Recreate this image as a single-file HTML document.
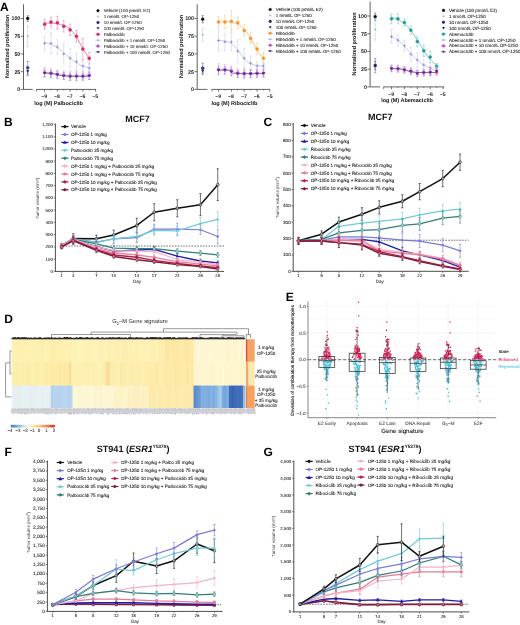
<!DOCTYPE html>
<html><head><meta charset="utf-8"><style>
html,body{margin:0;padding:0;background:#fff;}
body{width:520px;height:625px;overflow:hidden;font-family:"Liberation Sans", sans-serif;}
svg{display:block;}
</style></head><body>
<svg width="520" height="625" viewBox="0 0 520 625" text-rendering="geometricPrecision" style="will-change:transform" font-family='"Liberation Sans", sans-serif'>
<rect x="0" y="0" width="520" height="625" fill="#fff"/>
<text x="0" y="11.2" font-size="12" text-anchor="start" fill="#000" font-weight="bold">A</text>
<text x="4" y="125.5" font-size="12" text-anchor="start" fill="#000" font-weight="bold">B</text>
<text x="263.5" y="125.6" font-size="12" text-anchor="start" fill="#000" font-weight="bold">C</text>
<text x="4.3" y="322.5" font-size="12" text-anchor="start" fill="#000" font-weight="bold">D</text>
<text x="285.8" y="300.6" font-size="12" text-anchor="start" fill="#000" font-weight="bold">E</text>
<text x="4.6" y="456.3" font-size="12" text-anchor="start" fill="#000" font-weight="bold">F</text>
<text x="263.5" y="456.3" font-size="12" text-anchor="start" fill="#000" font-weight="bold">G</text>
<line x1="23.5" y1="4.3" x2="23.5" y2="89.4" stroke="#3a3a3a" stroke-width="0.8" stroke-linecap="butt"/>
<line x1="20.7" y1="89.4" x2="23.5" y2="89.4" stroke="#3a3a3a" stroke-width="0.7" stroke-linecap="butt"/>
<text x="20.3" y="91.3" font-size="5.3" text-anchor="end" fill="#222" font-weight="bold">0</text>
<line x1="20.7" y1="71.68" x2="23.5" y2="71.68" stroke="#3a3a3a" stroke-width="0.7" stroke-linecap="butt"/>
<text x="20.3" y="73.58" font-size="5.3" text-anchor="end" fill="#222" font-weight="bold">25</text>
<line x1="20.7" y1="53.95" x2="23.5" y2="53.95" stroke="#3a3a3a" stroke-width="0.7" stroke-linecap="butt"/>
<text x="20.3" y="55.85" font-size="5.3" text-anchor="end" fill="#222" font-weight="bold">50</text>
<line x1="20.7" y1="36.23" x2="23.5" y2="36.23" stroke="#3a3a3a" stroke-width="0.7" stroke-linecap="butt"/>
<text x="20.3" y="38.13" font-size="5.3" text-anchor="end" fill="#222" font-weight="bold">75</text>
<line x1="20.7" y1="18.5" x2="23.5" y2="18.5" stroke="#3a3a3a" stroke-width="0.7" stroke-linecap="butt"/>
<text x="20.3" y="20.4" font-size="5.3" text-anchor="end" fill="#222" font-weight="bold">100</text>
<line x1="23.5" y1="89.4" x2="32.7" y2="89.4" stroke="#3a3a3a" stroke-width="0.8" stroke-linecap="butt"/>
<line x1="36.5" y1="89.4" x2="96" y2="89.4" stroke="#3a3a3a" stroke-width="0.8" stroke-linecap="butt"/>
<line x1="36.5" y1="89.4" x2="36.5" y2="91.4" stroke="#3a3a3a" stroke-width="0.7" stroke-linecap="butt"/>
<line x1="44.6" y1="89.4" x2="44.6" y2="91.7" stroke="#3a3a3a" stroke-width="0.7" stroke-linecap="butt"/>
<text x="44.3" y="98" font-size="5.2" text-anchor="middle" fill="#222" font-weight="bold">−9</text>
<line x1="57.35" y1="89.4" x2="57.35" y2="91.7" stroke="#3a3a3a" stroke-width="0.7" stroke-linecap="butt"/>
<text x="57.05" y="98" font-size="5.2" text-anchor="middle" fill="#222" font-weight="bold">−8</text>
<line x1="70.1" y1="89.4" x2="70.1" y2="91.7" stroke="#3a3a3a" stroke-width="0.7" stroke-linecap="butt"/>
<text x="69.8" y="98" font-size="5.2" text-anchor="middle" fill="#222" font-weight="bold">−7</text>
<line x1="82.85" y1="89.4" x2="82.85" y2="91.7" stroke="#3a3a3a" stroke-width="0.7" stroke-linecap="butt"/>
<text x="82.55" y="98" font-size="5.2" text-anchor="middle" fill="#222" font-weight="bold">−6</text>
<line x1="95.6" y1="89.4" x2="95.6" y2="91.7" stroke="#3a3a3a" stroke-width="0.7" stroke-linecap="butt"/>
<text x="95.3" y="98" font-size="5.2" text-anchor="middle" fill="#222" font-weight="bold">−5</text>
<line x1="50.98" y1="89.4" x2="50.98" y2="90.6" stroke="#3a3a3a" stroke-width="0.5" stroke-linecap="butt"/>
<line x1="63.73" y1="89.4" x2="63.73" y2="90.6" stroke="#3a3a3a" stroke-width="0.5" stroke-linecap="butt"/>
<line x1="76.47" y1="89.4" x2="76.47" y2="90.6" stroke="#3a3a3a" stroke-width="0.5" stroke-linecap="butt"/>
<line x1="89.22" y1="89.4" x2="89.22" y2="90.6" stroke="#3a3a3a" stroke-width="0.5" stroke-linecap="butt"/>
<text x="58.6" y="104.9" font-size="5.5" text-anchor="middle" fill="#111" font-weight="bold">log (M) Palbociclib</text>
<text x="8.6" y="46.45" font-size="5.5" text-anchor="middle" fill="#111" font-weight="bold" transform="rotate(-90 8.6 46.45)">Normalized proliferation</text>
<path d="M27.7 21.34V15.66M26.5 21.34H28.9M26.5 15.66H28.9" stroke="#585858" stroke-width="0.55" fill="none"/>
<circle cx="27.7" cy="18.5" r="1.4" fill="#111" stroke="#111" stroke-width="0.5"/>
<path d="M27.7 46.51V25.94M26.5 46.51H28.9M26.5 25.94H28.9" stroke="#aecae6" stroke-width="0.55" fill="none"/>
<line x1="26.3" y1="36.23" x2="29.1" y2="36.23" stroke="#8cb4dc" stroke-width="0.6" stroke-linecap="butt"/>
<line x1="27.7" y1="34.83" x2="27.7" y2="37.63" stroke="#8cb4dc" stroke-width="0.6" stroke-linecap="butt"/>
<path d="M27.7 74.16V61.39M26.5 74.16H28.9M26.5 61.39H28.9" stroke="#5f65a5" stroke-width="0.55" fill="none"/>
<circle cx="27.7" cy="67.78" r="1.4" fill="#1a237e" stroke="#1a237e" stroke-width="0.5"/>
<path d="M27.7 75.65V67.14M26.5 75.65H28.9M26.5 67.14H28.9" stroke="#5f5f9a" stroke-width="0.55" fill="none"/>
<path d="M26.16,70.27 L29.24,70.27 L27.7,72.93 Z" fill="#1a1a6e"/>
<polyline points="44.6,22.96 45.36,22.98 46.11,22.99 46.87,23.01 47.63,23.04 48.38,23.06 49.14,23.09 49.89,23.12 50.65,23.16 51.41,23.2 52.16,23.25 52.92,23.3 53.68,23.36 54.43,23.43 55.19,23.51 55.95,23.59 56.7,23.69 57.46,23.8 58.21,23.92 58.97,24.05 59.73,24.21 60.48,24.38 61.24,24.57 62,24.79 62.75,25.03 63.51,25.29 64.27,25.59 65.02,25.93 65.78,26.3 66.53,26.71 67.29,27.16 68.05,27.66 68.8,28.21 69.56,28.81 70.32,29.48 71.07,30.2 71.83,30.98 72.59,31.82 73.34,32.73 74.1,33.71 74.85,34.75 75.61,35.85 76.37,37.01 77.12,38.22 77.88,39.48 78.64,40.79 79.39,42.12 80.15,43.49 80.91,44.86 81.66,46.25 82.42,47.62 83.17,48.99 83.93,50.32 84.69,51.63 85.44,52.89 86.2,54.1 86.96,55.26 87.71,56.36 88.47,57.4 89.22,58.37" fill="none" stroke="#d6246e" stroke-width="0.6" stroke-linejoin="round" stroke-linecap="round"/>
<path d="M44.6 29.14V19.21M43.4 29.14H45.8M43.4 19.21H45.8" stroke="#e887af" stroke-width="0.6" fill="none"/>
<path d="M50.98 27.01V17.08M49.77 27.01H52.18M49.77 17.08H52.18" stroke="#e887af" stroke-width="0.6" fill="none"/>
<path d="M57.35 29.14V16.37M56.15 29.14H58.55M56.15 16.37H58.55" stroke="#e887af" stroke-width="0.6" fill="none"/>
<path d="M63.73 31.97V20.63M62.52 31.97H64.92M62.52 20.63H64.92" stroke="#e887af" stroke-width="0.6" fill="none"/>
<path d="M70.1 35.52V24.17M68.9 35.52H71.3M68.9 24.17H71.3" stroke="#e887af" stroke-width="0.6" fill="none"/>
<path d="M76.47 41.9V30.55M75.27 41.9H77.67M75.27 30.55H77.67" stroke="#e887af" stroke-width="0.6" fill="none"/>
<path d="M82.85 59.62V38.35M81.65 59.62H84.05M81.65 38.35H84.05" stroke="#e887af" stroke-width="0.6" fill="none"/>
<path d="M89.22 63.88V52.53M88.02 63.88H90.42M88.02 52.53H90.42" stroke="#e887af" stroke-width="0.6" fill="none"/>
<circle cx="44.6" cy="24.17" r="1.5" fill="#d6246e" stroke="#d6246e" stroke-width="0.5"/>
<circle cx="50.98" cy="22.05" r="1.5" fill="#d6246e" stroke="#d6246e" stroke-width="0.5"/>
<circle cx="57.35" cy="22.75" r="1.5" fill="#d6246e" stroke="#d6246e" stroke-width="0.5"/>
<circle cx="63.73" cy="26.3" r="1.5" fill="#d6246e" stroke="#d6246e" stroke-width="0.5"/>
<circle cx="70.1" cy="29.84" r="1.5" fill="#d6246e" stroke="#d6246e" stroke-width="0.5"/>
<circle cx="76.47" cy="36.23" r="1.5" fill="#d6246e" stroke="#d6246e" stroke-width="0.5"/>
<circle cx="82.85" cy="48.99" r="1.5" fill="#d6246e" stroke="#d6246e" stroke-width="0.5"/>
<circle cx="89.22" cy="58.2" r="1.5" fill="#d6246e" stroke="#d6246e" stroke-width="0.5"/>
<polyline points="44.6,42.39 45.36,42.57 46.11,42.75 46.87,42.95 47.63,43.17 48.38,43.4 49.14,43.66 49.89,43.92 50.65,44.21 51.41,44.52 52.16,44.85 52.92,45.2 53.68,45.57 54.43,45.97 55.19,46.38 55.95,46.82 56.7,47.29 57.46,47.77 58.21,48.28 58.97,48.81 59.73,49.36 60.48,49.93 61.24,50.52 62,51.13 62.75,51.75 63.51,52.38 64.27,53.02 65.02,53.67 65.78,54.33 66.53,54.99 67.29,55.65 68.05,56.3 68.8,56.96 69.56,57.6 70.32,58.23 71.07,58.85 71.83,59.46 72.59,60.05 73.34,60.62 74.1,61.17 74.85,61.7 75.61,62.21 76.37,62.7 77.12,63.16 77.88,63.6 78.64,64.02 79.39,64.42 80.15,64.79 80.91,65.14 81.66,65.47 82.42,65.78 83.17,66.07 83.93,66.34 84.69,66.59 85.44,66.82 86.2,67.04 86.96,67.24 87.71,67.43 88.47,67.6 89.22,67.76" fill="none" stroke="#a3a3e6" stroke-width="0.6" stroke-linejoin="round" stroke-linecap="round"/>
<path d="M44.6 50.41V36.23M43.4 50.41H45.8M43.4 36.23H45.8" stroke="#ccccf1" stroke-width="0.6" fill="none"/>
<path d="M50.98 53.95V32.68M49.77 53.95H52.18M49.77 32.68H52.18" stroke="#ccccf1" stroke-width="0.6" fill="none"/>
<path d="M57.35 53.95V39.77M56.15 53.95H58.55M56.15 39.77H58.55" stroke="#ccccf1" stroke-width="0.6" fill="none"/>
<path d="M63.73 63.88V44.02M62.52 63.88H64.92M62.52 44.02H64.92" stroke="#ccccf1" stroke-width="0.6" fill="none"/>
<path d="M70.1 67.42V48.99M68.9 67.42H71.3M68.9 48.99H71.3" stroke="#ccccf1" stroke-width="0.6" fill="none"/>
<path d="M76.47 70.26V53.24M75.27 70.26H77.67M75.27 53.24H77.67" stroke="#ccccf1" stroke-width="0.6" fill="none"/>
<path d="M82.85 70.97V61.04M81.65 70.97H84.05M81.65 61.04H84.05" stroke="#ccccf1" stroke-width="0.6" fill="none"/>
<path d="M89.22 71.68V64.59M88.02 71.68H90.42M88.02 64.59H90.42" stroke="#ccccf1" stroke-width="0.6" fill="none"/>
<line x1="43.1" y1="43.32" x2="46.1" y2="43.32" stroke="#7070c0" stroke-width="0.6" stroke-linecap="butt"/>
<line x1="44.6" y1="41.82" x2="44.6" y2="44.82" stroke="#7070c0" stroke-width="0.6" stroke-linecap="butt"/>
<line x1="49.48" y1="43.32" x2="52.48" y2="43.32" stroke="#7070c0" stroke-width="0.6" stroke-linecap="butt"/>
<line x1="50.98" y1="41.82" x2="50.98" y2="44.82" stroke="#7070c0" stroke-width="0.6" stroke-linecap="butt"/>
<line x1="55.85" y1="46.86" x2="58.85" y2="46.86" stroke="#7070c0" stroke-width="0.6" stroke-linecap="butt"/>
<line x1="57.35" y1="45.36" x2="57.35" y2="48.36" stroke="#7070c0" stroke-width="0.6" stroke-linecap="butt"/>
<line x1="62.23" y1="53.95" x2="65.22" y2="53.95" stroke="#7070c0" stroke-width="0.6" stroke-linecap="butt"/>
<line x1="63.73" y1="52.45" x2="63.73" y2="55.45" stroke="#7070c0" stroke-width="0.6" stroke-linecap="butt"/>
<line x1="68.6" y1="58.2" x2="71.6" y2="58.2" stroke="#7070c0" stroke-width="0.6" stroke-linecap="butt"/>
<line x1="70.1" y1="56.7" x2="70.1" y2="59.7" stroke="#7070c0" stroke-width="0.6" stroke-linecap="butt"/>
<line x1="74.97" y1="61.75" x2="77.97" y2="61.75" stroke="#7070c0" stroke-width="0.6" stroke-linecap="butt"/>
<line x1="76.47" y1="60.25" x2="76.47" y2="63.25" stroke="#7070c0" stroke-width="0.6" stroke-linecap="butt"/>
<line x1="81.35" y1="66" x2="84.35" y2="66" stroke="#7070c0" stroke-width="0.6" stroke-linecap="butt"/>
<line x1="82.85" y1="64.5" x2="82.85" y2="67.5" stroke="#7070c0" stroke-width="0.6" stroke-linecap="butt"/>
<line x1="87.72" y1="68.13" x2="90.72" y2="68.13" stroke="#7070c0" stroke-width="0.6" stroke-linecap="butt"/>
<line x1="89.22" y1="66.63" x2="89.22" y2="69.63" stroke="#7070c0" stroke-width="0.6" stroke-linecap="butt"/>
<polyline points="44.6,72.38 45.36,72.43 46.11,72.49 46.87,72.55 47.63,72.63 48.38,72.71 49.14,72.81 49.89,72.92 50.65,73.04 51.41,73.18 52.16,73.33 52.92,73.48 53.68,73.65 54.43,73.82 55.19,73.99 55.95,74.16 56.7,74.33 57.46,74.49 58.21,74.64 58.97,74.78 59.73,74.91 60.48,75.03 61.24,75.13 62,75.22 62.75,75.3 63.51,75.37 64.27,75.43 65.02,75.48 65.78,75.52 66.53,75.56 67.29,75.59 68.05,75.62 68.8,75.64 69.56,75.66 70.32,75.67 71.07,75.68 71.83,75.69 72.59,75.7 73.34,75.71 74.1,75.71 74.85,75.72 75.61,75.72 76.37,75.73 77.12,75.73 77.88,75.73 78.64,75.73 79.39,75.73 80.15,75.74 80.91,75.74 81.66,75.74 82.42,75.74 83.17,75.74 83.93,75.74 84.69,75.74 85.44,75.74 86.2,75.74 86.96,75.74 87.71,75.74 88.47,75.74 89.22,75.74" fill="none" stroke="#b455d2" stroke-width="0.6" stroke-linejoin="round" stroke-linecap="round"/>
<path d="M44.6 77.35V67.42M43.4 77.35H45.8M43.4 67.42H45.8" stroke="#d6a2e6" stroke-width="0.6" fill="none"/>
<path d="M50.98 78.06V68.13M49.77 78.06H52.18M49.77 68.13H52.18" stroke="#d6a2e6" stroke-width="0.6" fill="none"/>
<path d="M57.35 78.77V70.26M56.15 78.77H58.55M56.15 70.26H58.55" stroke="#d6a2e6" stroke-width="0.6" fill="none"/>
<path d="M63.73 79.47V70.97M62.52 79.47H64.92M62.52 70.97H64.92" stroke="#d6a2e6" stroke-width="0.6" fill="none"/>
<path d="M70.1 80.89V70.97M68.9 80.89H71.3M68.9 70.97H71.3" stroke="#d6a2e6" stroke-width="0.6" fill="none"/>
<path d="M76.47 80.89V70.97M75.27 80.89H77.67M75.27 70.97H77.67" stroke="#d6a2e6" stroke-width="0.6" fill="none"/>
<path d="M82.85 80.18V71.68M81.65 80.18H84.05M81.65 71.68H84.05" stroke="#d6a2e6" stroke-width="0.6" fill="none"/>
<path d="M89.22 79.47V70.97M88.02 79.47H90.42M88.02 70.97H90.42" stroke="#d6a2e6" stroke-width="0.6" fill="none"/>
<circle cx="44.6" cy="72.38" r="1.5" fill="#b455d2" stroke="#b455d2" stroke-width="0.5"/>
<circle cx="50.98" cy="73.09" r="1.5" fill="#b455d2" stroke="#b455d2" stroke-width="0.5"/>
<circle cx="57.35" cy="74.51" r="1.5" fill="#b455d2" stroke="#b455d2" stroke-width="0.5"/>
<circle cx="63.73" cy="75.22" r="1.5" fill="#b455d2" stroke="#b455d2" stroke-width="0.5"/>
<circle cx="70.1" cy="75.93" r="1.5" fill="#b455d2" stroke="#b455d2" stroke-width="0.5"/>
<circle cx="76.47" cy="75.93" r="1.5" fill="#b455d2" stroke="#b455d2" stroke-width="0.5"/>
<circle cx="82.85" cy="75.93" r="1.5" fill="#b455d2" stroke="#b455d2" stroke-width="0.5"/>
<circle cx="89.22" cy="75.22" r="1.5" fill="#b455d2" stroke="#b455d2" stroke-width="0.5"/>
<polyline points="44.6,73.26 45.36,73.27 46.11,73.29 46.87,73.31 47.63,73.34 48.38,73.38 49.14,73.42 49.89,73.47 50.65,73.52 51.41,73.59 52.16,73.68 52.92,73.78 53.68,73.89 54.43,74.02 55.19,74.16 55.95,74.31 56.7,74.48 57.46,74.66 58.21,74.84 58.97,75.02 59.73,75.19 60.48,75.36 61.24,75.52 62,75.66 62.75,75.79 63.51,75.9 64.27,76 65.02,76.08 65.78,76.15 66.53,76.21 67.29,76.26 68.05,76.3 68.8,76.34 69.56,76.36 70.32,76.39 71.07,76.4 71.83,76.42 72.59,76.43 73.34,76.44 74.1,76.45 74.85,76.46 75.61,76.46 76.37,76.46 77.12,76.47 77.88,76.47 78.64,76.47 79.39,76.47 80.15,76.48 80.91,76.48 81.66,76.48 82.42,76.48 83.17,76.48 83.93,76.48 84.69,76.48 85.44,76.48 86.2,76.48 86.96,76.48 87.71,76.48 88.47,76.48 89.22,76.48" fill="none" stroke="#5b2a8c" stroke-width="0.6" stroke-linejoin="round" stroke-linecap="round"/>
<path d="M44.6 76.64V69.55M43.4 76.64H45.8M43.4 69.55H45.8" stroke="#a58ac0" stroke-width="0.6" fill="none"/>
<path d="M50.98 77.35V70.26M49.77 77.35H52.18M49.77 70.26H52.18" stroke="#a58ac0" stroke-width="0.6" fill="none"/>
<path d="M57.35 78.06V70.97M56.15 78.06H58.55M56.15 70.97H58.55" stroke="#a58ac0" stroke-width="0.6" fill="none"/>
<path d="M63.73 79.47V72.38M62.52 79.47H64.92M62.52 72.38H64.92" stroke="#a58ac0" stroke-width="0.6" fill="none"/>
<path d="M70.1 80.18V73.09M68.9 80.18H71.3M68.9 73.09H71.3" stroke="#a58ac0" stroke-width="0.6" fill="none"/>
<path d="M76.47 80.18V73.09M75.27 80.18H77.67M75.27 73.09H77.67" stroke="#a58ac0" stroke-width="0.6" fill="none"/>
<path d="M82.85 80.18V73.09M81.65 80.18H84.05M81.65 73.09H84.05" stroke="#a58ac0" stroke-width="0.6" fill="none"/>
<path d="M89.22 79.47V72.38M88.02 79.47H90.42M88.02 72.38H90.42" stroke="#a58ac0" stroke-width="0.6" fill="none"/>
<path d="M42.95,71.89 L46.25,71.89 L44.6,74.74 Z" fill="#5b2a8c"/>
<path d="M49.33,72.6 L52.62,72.6 L50.98,75.45 Z" fill="#5b2a8c"/>
<path d="M55.7,73.31 L59,73.31 L57.35,76.16 Z" fill="#5b2a8c"/>
<path d="M62.08,74.73 L65.38,74.73 L63.73,77.58 Z" fill="#5b2a8c"/>
<path d="M68.45,75.44 L71.75,75.44 L70.1,78.29 Z" fill="#5b2a8c"/>
<path d="M74.82,75.44 L78.12,75.44 L76.47,78.29 Z" fill="#5b2a8c"/>
<path d="M81.2,75.44 L84.5,75.44 L82.85,78.29 Z" fill="#5b2a8c"/>
<path d="M87.57,74.73 L90.88,74.73 L89.22,77.58 Z" fill="#5b2a8c"/>
<circle cx="98" cy="10.7" r="1.3" fill="#111" stroke="#111" stroke-width="0.5"/>
<text x="103.7" y="12.25" font-size="4.4" text-anchor="start" fill="#222" stroke="#222" stroke-width="0.07">Vehicle (100 pmol/L E2)</text>
<line x1="96.7" y1="16.6" x2="99.3" y2="16.6" stroke="#8cb4dc" stroke-width="0.6" stroke-linecap="butt"/>
<line x1="98" y1="15.3" x2="98" y2="17.9" stroke="#8cb4dc" stroke-width="0.6" stroke-linecap="butt"/>
<text x="103.7" y="18.15" font-size="4.4" text-anchor="start" fill="#222" stroke="#222" stroke-width="0.07">1 nmol/L OP-1250</text>
<circle cx="98" cy="22.5" r="1.3" fill="#1a237e" stroke="#1a237e" stroke-width="0.5"/>
<text x="103.7" y="24.05" font-size="4.4" text-anchor="start" fill="#222" stroke="#222" stroke-width="0.07">10 nmol/L OP-1250</text>
<path d="M96.57,27.36 L99.43,27.36 L98,29.83 Z" fill="#1a1a6e"/>
<text x="103.7" y="29.95" font-size="4.4" text-anchor="start" fill="#222" stroke="#222" stroke-width="0.07">100 nmol/L OP-1250</text>
<line x1="95.5" y1="34.3" x2="100.5" y2="34.3" stroke="#d6246e" stroke-width="0.6" stroke-linecap="butt"/>
<circle cx="98" cy="34.3" r="1.3" fill="#d6246e" stroke="#d6246e" stroke-width="0.5"/>
<text x="103.7" y="35.85" font-size="4.4" text-anchor="start" fill="#222" stroke="#222" stroke-width="0.07">Palbociclib</text>
<line x1="95.5" y1="40.2" x2="100.5" y2="40.2" stroke="#a3a3e6" stroke-width="0.6" stroke-linecap="butt"/>
<line x1="96.7" y1="40.2" x2="99.3" y2="40.2" stroke="#a3a3e6" stroke-width="0.6" stroke-linecap="butt"/>
<line x1="98" y1="38.9" x2="98" y2="41.5" stroke="#a3a3e6" stroke-width="0.6" stroke-linecap="butt"/>
<text x="103.7" y="41.75" font-size="4.4" text-anchor="start" fill="#222" stroke="#222" stroke-width="0.07">Palbociclib + 1 nmol/L OP-1250</text>
<line x1="95.5" y1="46.1" x2="100.5" y2="46.1" stroke="#b455d2" stroke-width="0.6" stroke-linecap="butt"/>
<circle cx="98" cy="46.1" r="1.3" fill="#b455d2" stroke="#b455d2" stroke-width="0.5"/>
<text x="103.7" y="47.65" font-size="4.4" text-anchor="start" fill="#222" stroke="#222" stroke-width="0.07">Palbociclib + 10 nmol/L OP-1250</text>
<line x1="95.5" y1="52" x2="100.5" y2="52" stroke="#5b2a8c" stroke-width="0.6" stroke-linecap="butt"/>
<path d="M96.57,50.96 L99.43,50.96 L98,53.43 Z" fill="#5b2a8c"/>
<text x="103.7" y="53.55" font-size="4.4" text-anchor="start" fill="#222" stroke="#222" stroke-width="0.07">Palbociclib + 100 nmol/L OP-1250</text>
<line x1="197.2" y1="4.3" x2="197.2" y2="89.4" stroke="#3a3a3a" stroke-width="0.8" stroke-linecap="butt"/>
<line x1="194.4" y1="89.4" x2="197.2" y2="89.4" stroke="#3a3a3a" stroke-width="0.7" stroke-linecap="butt"/>
<text x="194" y="91.3" font-size="5.3" text-anchor="end" fill="#222" font-weight="bold">0</text>
<line x1="194.4" y1="71.68" x2="197.2" y2="71.68" stroke="#3a3a3a" stroke-width="0.7" stroke-linecap="butt"/>
<text x="194" y="73.58" font-size="5.3" text-anchor="end" fill="#222" font-weight="bold">25</text>
<line x1="194.4" y1="53.95" x2="197.2" y2="53.95" stroke="#3a3a3a" stroke-width="0.7" stroke-linecap="butt"/>
<text x="194" y="55.85" font-size="5.3" text-anchor="end" fill="#222" font-weight="bold">50</text>
<line x1="194.4" y1="36.23" x2="197.2" y2="36.23" stroke="#3a3a3a" stroke-width="0.7" stroke-linecap="butt"/>
<text x="194" y="38.13" font-size="5.3" text-anchor="end" fill="#222" font-weight="bold">75</text>
<line x1="194.4" y1="18.5" x2="197.2" y2="18.5" stroke="#3a3a3a" stroke-width="0.7" stroke-linecap="butt"/>
<text x="194" y="20.4" font-size="5.3" text-anchor="end" fill="#222" font-weight="bold">100</text>
<line x1="197.2" y1="89.4" x2="207.5" y2="89.4" stroke="#3a3a3a" stroke-width="0.8" stroke-linecap="butt"/>
<line x1="211.9" y1="89.4" x2="270" y2="89.4" stroke="#3a3a3a" stroke-width="0.8" stroke-linecap="butt"/>
<line x1="211.9" y1="89.4" x2="211.9" y2="91.4" stroke="#3a3a3a" stroke-width="0.7" stroke-linecap="butt"/>
<line x1="218.5" y1="89.4" x2="218.5" y2="91.7" stroke="#3a3a3a" stroke-width="0.7" stroke-linecap="butt"/>
<text x="218.2" y="98" font-size="5.2" text-anchor="middle" fill="#222" font-weight="bold">−9</text>
<line x1="231.35" y1="89.4" x2="231.35" y2="91.7" stroke="#3a3a3a" stroke-width="0.7" stroke-linecap="butt"/>
<text x="231.05" y="98" font-size="5.2" text-anchor="middle" fill="#222" font-weight="bold">−8</text>
<line x1="244.2" y1="89.4" x2="244.2" y2="91.7" stroke="#3a3a3a" stroke-width="0.7" stroke-linecap="butt"/>
<text x="243.9" y="98" font-size="5.2" text-anchor="middle" fill="#222" font-weight="bold">−7</text>
<line x1="257.05" y1="89.4" x2="257.05" y2="91.7" stroke="#3a3a3a" stroke-width="0.7" stroke-linecap="butt"/>
<text x="256.75" y="98" font-size="5.2" text-anchor="middle" fill="#222" font-weight="bold">−6</text>
<line x1="269.9" y1="89.4" x2="269.9" y2="91.7" stroke="#3a3a3a" stroke-width="0.7" stroke-linecap="butt"/>
<text x="269.6" y="98" font-size="5.2" text-anchor="middle" fill="#222" font-weight="bold">−5</text>
<line x1="224.93" y1="89.4" x2="224.93" y2="90.6" stroke="#3a3a3a" stroke-width="0.5" stroke-linecap="butt"/>
<line x1="237.78" y1="89.4" x2="237.78" y2="90.6" stroke="#3a3a3a" stroke-width="0.5" stroke-linecap="butt"/>
<line x1="250.62" y1="89.4" x2="250.62" y2="90.6" stroke="#3a3a3a" stroke-width="0.5" stroke-linecap="butt"/>
<line x1="263.48" y1="89.4" x2="263.48" y2="90.6" stroke="#3a3a3a" stroke-width="0.5" stroke-linecap="butt"/>
<text x="234.4" y="104.9" font-size="5.5" text-anchor="middle" fill="#111" font-weight="bold">log (M) Ribociclib</text>
<text x="182.8" y="46.45" font-size="5.5" text-anchor="middle" fill="#111" font-weight="bold" transform="rotate(-90 182.8 46.45)">Normalized proliferation</text>
<path d="M202.7 22.75V15.66M201.5 22.75H203.9M201.5 15.66H203.9" stroke="#585858" stroke-width="0.55" fill="none"/>
<circle cx="202.7" cy="19.21" r="1.4" fill="#111" stroke="#111" stroke-width="0.5"/>
<path d="M202.7 41.19V28.43M201.5 41.19H203.9M201.5 28.43H203.9" stroke="#aecae6" stroke-width="0.55" fill="none"/>
<line x1="201.3" y1="34.81" x2="204.1" y2="34.81" stroke="#8cb4dc" stroke-width="0.6" stroke-linecap="butt"/>
<line x1="202.7" y1="33.41" x2="202.7" y2="36.21" stroke="#8cb4dc" stroke-width="0.6" stroke-linecap="butt"/>
<path d="M202.7 73.09V63.17M201.5 73.09H203.9M201.5 63.17H203.9" stroke="#5f65a5" stroke-width="0.55" fill="none"/>
<circle cx="202.7" cy="68.13" r="1.4" fill="#1a237e" stroke="#1a237e" stroke-width="0.5"/>
<path d="M202.7 74.51V67.42M201.5 74.51H203.9M201.5 67.42H203.9" stroke="#5f5f9a" stroke-width="0.55" fill="none"/>
<path d="M201.16,69.85 L204.24,69.85 L202.7,72.51 Z" fill="#1a1a6e"/>
<polyline points="218.5,21.21 219.26,21.23 220.02,21.25 220.79,21.28 221.55,21.3 222.31,21.34 223.07,21.37 223.84,21.42 224.6,21.46 225.36,21.52 226.12,21.58 226.89,21.65 227.65,21.72 228.41,21.81 229.17,21.91 229.93,22.02 230.7,22.14 231.46,22.28 232.22,22.44 232.98,22.62 233.75,22.82 234.51,23.04 235.27,23.29 236.03,23.56 236.79,23.87 237.56,24.22 238.32,24.6 239.08,25.03 239.84,25.5 240.61,26.01 241.37,26.59 242.13,27.21 242.89,27.9 243.66,28.64 244.42,29.45 245.18,30.32 245.94,31.26 246.7,32.26 247.47,33.33 248.23,34.45 248.99,35.63 249.75,36.86 250.52,38.13 251.28,39.44 252.04,40.78 252.8,42.13 253.57,43.49 254.33,44.85 255.09,46.19 255.85,47.51 256.61,48.8 257.38,50.04 258.14,51.24 258.9,52.38 259.66,53.47 260.43,54.49 261.19,55.46 261.95,56.35 262.71,57.18 263.48,57.95" fill="none" stroke="#f0962a" stroke-width="0.6" stroke-linejoin="round" stroke-linecap="round"/>
<path d="M218.5 27.72V16.37M217.3 27.72H219.7M217.3 16.37H219.7" stroke="#f7c58a" stroke-width="0.6" fill="none"/>
<path d="M224.93 28.43V15.66M223.73 28.43H226.12M223.73 15.66H226.12" stroke="#f7c58a" stroke-width="0.6" fill="none"/>
<path d="M231.35 31.97V10.7M230.15 31.97H232.55M230.15 10.7H232.55" stroke="#f7c58a" stroke-width="0.6" fill="none"/>
<path d="M237.78 28.43V17.08M236.58 28.43H238.97M236.58 17.08H238.97" stroke="#f7c58a" stroke-width="0.6" fill="none"/>
<path d="M244.2 36.23V24.88M243 36.23H245.4M243 24.88H245.4" stroke="#f7c58a" stroke-width="0.6" fill="none"/>
<path d="M250.62 44.02V32.68M249.43 44.02H251.82M249.43 32.68H251.82" stroke="#f7c58a" stroke-width="0.6" fill="none"/>
<path d="M257.05 54.66V43.32M255.85 54.66H258.25M255.85 43.32H258.25" stroke="#f7c58a" stroke-width="0.6" fill="none"/>
<path d="M263.48 63.88V52.53M262.28 63.88H264.68M262.28 52.53H264.68" stroke="#f7c58a" stroke-width="0.6" fill="none"/>
<circle cx="218.5" cy="22.05" r="1.5" fill="#f0962a" stroke="#f0962a" stroke-width="0.5"/>
<circle cx="224.93" cy="22.05" r="1.5" fill="#f0962a" stroke="#f0962a" stroke-width="0.5"/>
<circle cx="231.35" cy="21.34" r="1.5" fill="#f0962a" stroke="#f0962a" stroke-width="0.5"/>
<circle cx="237.78" cy="22.75" r="1.5" fill="#f0962a" stroke="#f0962a" stroke-width="0.5"/>
<circle cx="244.2" cy="30.55" r="1.5" fill="#f0962a" stroke="#f0962a" stroke-width="0.5"/>
<circle cx="250.62" cy="38.35" r="1.5" fill="#f0962a" stroke="#f0962a" stroke-width="0.5"/>
<circle cx="257.05" cy="48.99" r="1.5" fill="#f0962a" stroke="#f0962a" stroke-width="0.5"/>
<circle cx="263.48" cy="58.2" r="1.5" fill="#f0962a" stroke="#f0962a" stroke-width="0.5"/>
<polyline points="218.5,40.38 219.26,40.43 220.02,40.48 220.79,40.54 221.55,40.61 222.31,40.69 223.07,40.78 223.84,40.89 224.6,41.03 225.36,41.18 226.12,41.35 226.89,41.56 227.65,41.8 228.41,42.07 229.17,42.39 229.93,42.75 230.7,43.17 231.46,43.63 232.22,44.16 232.98,44.76 233.75,45.41 234.51,46.14 235.27,46.93 236.03,47.79 236.79,48.71 237.56,49.68 238.32,50.69 239.08,51.74 239.84,52.8 240.61,53.87 241.37,54.93 242.13,55.97 242.89,56.97 243.66,57.92 244.42,58.82 245.18,59.65 245.94,60.42 246.7,61.12 247.47,61.75 248.23,62.32 248.99,62.83 249.75,63.28 250.52,63.67 251.28,64.02 252.04,64.32 252.8,64.58 253.57,64.8 254.33,65 255.09,65.17 255.85,65.31 256.61,65.43 257.38,65.54 258.14,65.63 258.9,65.71 259.66,65.77 260.43,65.83 261.19,65.88 261.95,65.92 262.71,65.95 263.48,65.98" fill="none" stroke="#a3a3e6" stroke-width="0.6" stroke-linejoin="round" stroke-linecap="round"/>
<path d="M218.5 51.11V29.84M217.3 51.11H219.7M217.3 29.84H219.7" stroke="#ccccf1" stroke-width="0.6" fill="none"/>
<path d="M224.93 50.41V33.39M223.73 50.41H226.12M223.73 33.39H226.12" stroke="#ccccf1" stroke-width="0.6" fill="none"/>
<path d="M231.35 50.41V33.39M230.15 50.41H232.55M230.15 33.39H232.55" stroke="#ccccf1" stroke-width="0.6" fill="none"/>
<path d="M237.78 62.46V39.77M236.58 62.46H238.97M236.58 39.77H238.97" stroke="#ccccf1" stroke-width="0.6" fill="none"/>
<path d="M244.2 68.13V48.28M243 68.13H245.4M243 48.28H245.4" stroke="#ccccf1" stroke-width="0.6" fill="none"/>
<path d="M250.62 70.26V56.08M249.43 70.26H251.82M249.43 56.08H251.82" stroke="#ccccf1" stroke-width="0.6" fill="none"/>
<path d="M257.05 70.26V61.75M255.85 70.26H258.25M255.85 61.75H258.25" stroke="#ccccf1" stroke-width="0.6" fill="none"/>
<path d="M263.48 69.55V62.46M262.28 69.55H264.68M262.28 62.46H264.68" stroke="#ccccf1" stroke-width="0.6" fill="none"/>
<line x1="217" y1="40.48" x2="220" y2="40.48" stroke="#7070c0" stroke-width="0.6" stroke-linecap="butt"/>
<line x1="218.5" y1="38.98" x2="218.5" y2="41.98" stroke="#7070c0" stroke-width="0.6" stroke-linecap="butt"/>
<line x1="223.43" y1="41.9" x2="226.43" y2="41.9" stroke="#7070c0" stroke-width="0.6" stroke-linecap="butt"/>
<line x1="224.93" y1="40.4" x2="224.93" y2="43.4" stroke="#7070c0" stroke-width="0.6" stroke-linecap="butt"/>
<line x1="229.85" y1="41.9" x2="232.85" y2="41.9" stroke="#7070c0" stroke-width="0.6" stroke-linecap="butt"/>
<line x1="231.35" y1="40.4" x2="231.35" y2="43.4" stroke="#7070c0" stroke-width="0.6" stroke-linecap="butt"/>
<line x1="236.28" y1="51.11" x2="239.28" y2="51.11" stroke="#7070c0" stroke-width="0.6" stroke-linecap="butt"/>
<line x1="237.78" y1="49.61" x2="237.78" y2="52.61" stroke="#7070c0" stroke-width="0.6" stroke-linecap="butt"/>
<line x1="242.7" y1="58.2" x2="245.7" y2="58.2" stroke="#7070c0" stroke-width="0.6" stroke-linecap="butt"/>
<line x1="244.2" y1="56.7" x2="244.2" y2="59.7" stroke="#7070c0" stroke-width="0.6" stroke-linecap="butt"/>
<line x1="249.12" y1="63.17" x2="252.12" y2="63.17" stroke="#7070c0" stroke-width="0.6" stroke-linecap="butt"/>
<line x1="250.62" y1="61.67" x2="250.62" y2="64.67" stroke="#7070c0" stroke-width="0.6" stroke-linecap="butt"/>
<line x1="255.55" y1="66" x2="258.55" y2="66" stroke="#7070c0" stroke-width="0.6" stroke-linecap="butt"/>
<line x1="257.05" y1="64.5" x2="257.05" y2="67.5" stroke="#7070c0" stroke-width="0.6" stroke-linecap="butt"/>
<line x1="261.98" y1="66" x2="264.98" y2="66" stroke="#7070c0" stroke-width="0.6" stroke-linecap="butt"/>
<line x1="263.48" y1="64.5" x2="263.48" y2="67.5" stroke="#7070c0" stroke-width="0.6" stroke-linecap="butt"/>
<polyline points="218.5,69.5 219.26,69.51 220.02,69.51 220.79,69.51 221.55,69.52 222.31,69.53 223.07,69.54 223.84,69.56 224.6,69.59 225.36,69.62 226.12,69.68 226.89,69.75 227.65,69.85 228.41,69.99 229.17,70.17 229.93,70.4 230.7,70.67 231.46,71 232.22,71.35 232.98,71.71 233.75,72.05 234.51,72.36 235.27,72.62 236.03,72.84 236.79,73 237.56,73.12 238.32,73.22 239.08,73.28 239.84,73.33 240.61,73.36 241.37,73.38 242.13,73.4 242.89,73.41 243.66,73.42 244.42,73.43 245.18,73.43 245.94,73.43 246.7,73.43 247.47,73.44 248.23,73.44 248.99,73.44 249.75,73.44 250.52,73.44 251.28,73.44 252.04,73.44 252.8,73.44 253.57,73.44 254.33,73.44 255.09,73.44 255.85,73.44 256.61,73.44 257.38,73.44 258.14,73.44 258.9,73.44 259.66,73.44 260.43,73.44 261.19,73.44 261.95,73.44 262.71,73.44 263.48,73.44" fill="none" stroke="#b455d2" stroke-width="0.6" stroke-linejoin="round" stroke-linecap="round"/>
<path d="M218.5 75.22V63.88M217.3 75.22H219.7M217.3 63.88H219.7" stroke="#d6a2e6" stroke-width="0.6" fill="none"/>
<path d="M224.93 74.51V64.59M223.73 74.51H226.12M223.73 64.59H226.12" stroke="#d6a2e6" stroke-width="0.6" fill="none"/>
<path d="M231.35 75.93V66M230.15 75.93H232.55M230.15 66H232.55" stroke="#d6a2e6" stroke-width="0.6" fill="none"/>
<path d="M237.78 77.35V68.84M236.58 77.35H238.97M236.58 68.84H238.97" stroke="#d6a2e6" stroke-width="0.6" fill="none"/>
<path d="M244.2 78.77V68.84M243 78.77H245.4M243 68.84H245.4" stroke="#d6a2e6" stroke-width="0.6" fill="none"/>
<path d="M250.62 78.06V69.55M249.43 78.06H251.82M249.43 69.55H251.82" stroke="#d6a2e6" stroke-width="0.6" fill="none"/>
<path d="M257.05 77.35V68.84M255.85 77.35H258.25M255.85 68.84H258.25" stroke="#d6a2e6" stroke-width="0.6" fill="none"/>
<path d="M263.48 77.35V68.84M262.28 77.35H264.68M262.28 68.84H264.68" stroke="#d6a2e6" stroke-width="0.6" fill="none"/>
<circle cx="218.5" cy="69.55" r="1.5" fill="#b455d2" stroke="#b455d2" stroke-width="0.5"/>
<circle cx="224.93" cy="69.55" r="1.5" fill="#b455d2" stroke="#b455d2" stroke-width="0.5"/>
<circle cx="231.35" cy="70.97" r="1.5" fill="#b455d2" stroke="#b455d2" stroke-width="0.5"/>
<circle cx="237.78" cy="73.09" r="1.5" fill="#b455d2" stroke="#b455d2" stroke-width="0.5"/>
<circle cx="244.2" cy="73.8" r="1.5" fill="#b455d2" stroke="#b455d2" stroke-width="0.5"/>
<circle cx="250.62" cy="73.8" r="1.5" fill="#b455d2" stroke="#b455d2" stroke-width="0.5"/>
<circle cx="257.05" cy="73.09" r="1.5" fill="#b455d2" stroke="#b455d2" stroke-width="0.5"/>
<circle cx="263.48" cy="73.09" r="1.5" fill="#b455d2" stroke="#b455d2" stroke-width="0.5"/>
<polyline points="218.5,70.26 219.26,70.26 220.02,70.26 220.79,70.26 221.55,70.26 222.31,70.26 223.07,70.26 223.84,70.26 224.6,70.26 225.36,70.26 226.12,70.26 226.89,70.26 227.65,70.26 228.41,70.26 229.17,70.26 229.93,70.3 230.7,70.61 231.46,71.93 232.22,73.29 232.98,73.61 233.75,73.65 234.51,73.66 235.27,73.66 236.03,73.66 236.79,73.66 237.56,73.66 238.32,73.66 239.08,73.66 239.84,73.66 240.61,73.66 241.37,73.66 242.13,73.66 242.89,73.66 243.66,73.66 244.42,73.66 245.18,73.66 245.94,73.66 246.7,73.66 247.47,73.66 248.23,73.66 248.99,73.66 249.75,73.66 250.52,73.66 251.28,73.66 252.04,73.66 252.8,73.66 253.57,73.66 254.33,73.66 255.09,73.66 255.85,73.66 256.61,73.66 257.38,73.66 258.14,73.66 258.9,73.66 259.66,73.66 260.43,73.66 261.19,73.66 261.95,73.66 262.71,73.66 263.48,73.66" fill="none" stroke="#5b2a8c" stroke-width="0.6" stroke-linejoin="round" stroke-linecap="round"/>
<path d="M218.5 73.8V66.71M217.3 73.8H219.7M217.3 66.71H219.7" stroke="#a58ac0" stroke-width="0.6" fill="none"/>
<path d="M224.93 73.8V66.71M223.73 73.8H226.12M223.73 66.71H226.12" stroke="#a58ac0" stroke-width="0.6" fill="none"/>
<path d="M231.35 75.22V68.13M230.15 75.22H232.55M230.15 68.13H232.55" stroke="#a58ac0" stroke-width="0.6" fill="none"/>
<path d="M237.78 77.35V70.26M236.58 77.35H238.97M236.58 70.26H238.97" stroke="#a58ac0" stroke-width="0.6" fill="none"/>
<path d="M244.2 77.35V70.26M243 77.35H245.4M243 70.26H245.4" stroke="#a58ac0" stroke-width="0.6" fill="none"/>
<path d="M250.62 77.35V70.26M249.43 77.35H251.82M249.43 70.26H251.82" stroke="#a58ac0" stroke-width="0.6" fill="none"/>
<path d="M257.05 77.35V70.26M255.85 77.35H258.25M255.85 70.26H258.25" stroke="#a58ac0" stroke-width="0.6" fill="none"/>
<path d="M263.48 76.64V69.55M262.28 76.64H264.68M262.28 69.55H264.68" stroke="#a58ac0" stroke-width="0.6" fill="none"/>
<path d="M216.85,69.06 L220.15,69.06 L218.5,71.91 Z" fill="#5b2a8c"/>
<path d="M223.28,69.06 L226.58,69.06 L224.93,71.91 Z" fill="#5b2a8c"/>
<path d="M229.7,70.48 L233,70.48 L231.35,73.33 Z" fill="#5b2a8c"/>
<path d="M236.12,72.6 L239.43,72.6 L237.78,75.45 Z" fill="#5b2a8c"/>
<path d="M242.55,72.6 L245.85,72.6 L244.2,75.45 Z" fill="#5b2a8c"/>
<path d="M248.97,72.6 L252.28,72.6 L250.62,75.45 Z" fill="#5b2a8c"/>
<path d="M255.4,72.6 L258.7,72.6 L257.05,75.45 Z" fill="#5b2a8c"/>
<path d="M261.83,71.89 L265.12,71.89 L263.48,74.74 Z" fill="#5b2a8c"/>
<circle cx="270.2" cy="9.5" r="1.3" fill="#111" stroke="#111" stroke-width="0.5"/>
<text x="275.8" y="11.05" font-size="4.45" text-anchor="start" fill="#222" stroke="#222" stroke-width="0.07">Vehicle (100 pmol/L E2)</text>
<line x1="268.9" y1="15.45" x2="271.5" y2="15.45" stroke="#8cb4dc" stroke-width="0.6" stroke-linecap="butt"/>
<line x1="270.2" y1="14.15" x2="270.2" y2="16.75" stroke="#8cb4dc" stroke-width="0.6" stroke-linecap="butt"/>
<text x="275.8" y="17" font-size="4.45" text-anchor="start" fill="#222" stroke="#222" stroke-width="0.07">1 nmol/L OP-1250</text>
<circle cx="270.2" cy="21.4" r="1.3" fill="#1a237e" stroke="#1a237e" stroke-width="0.5"/>
<text x="275.8" y="22.95" font-size="4.45" text-anchor="start" fill="#222" stroke="#222" stroke-width="0.07">10 nmol/L OP-1250</text>
<path d="M268.77,26.31 L271.63,26.31 L270.2,28.78 Z" fill="#1a1a6e"/>
<text x="275.8" y="28.9" font-size="4.45" text-anchor="start" fill="#222" stroke="#222" stroke-width="0.07">100 nmol/L OP-1250</text>
<line x1="267.7" y1="33.3" x2="272.7" y2="33.3" stroke="#f0962a" stroke-width="0.6" stroke-linecap="butt"/>
<circle cx="270.2" cy="33.3" r="1.3" fill="#f0962a" stroke="#f0962a" stroke-width="0.5"/>
<text x="275.8" y="34.85" font-size="4.45" text-anchor="start" fill="#222" stroke="#222" stroke-width="0.07">Ribociclib</text>
<line x1="267.7" y1="39.25" x2="272.7" y2="39.25" stroke="#a3a3e6" stroke-width="0.6" stroke-linecap="butt"/>
<line x1="268.9" y1="39.25" x2="271.5" y2="39.25" stroke="#a3a3e6" stroke-width="0.6" stroke-linecap="butt"/>
<line x1="270.2" y1="37.95" x2="270.2" y2="40.55" stroke="#a3a3e6" stroke-width="0.6" stroke-linecap="butt"/>
<text x="275.8" y="40.8" font-size="4.45" text-anchor="start" fill="#222" stroke="#222" stroke-width="0.07">Ribociclib + 1 nmol/L OP-1250</text>
<line x1="267.7" y1="45.2" x2="272.7" y2="45.2" stroke="#b455d2" stroke-width="0.6" stroke-linecap="butt"/>
<circle cx="270.2" cy="45.2" r="1.3" fill="#b455d2" stroke="#b455d2" stroke-width="0.5"/>
<text x="275.8" y="46.75" font-size="4.45" text-anchor="start" fill="#222" stroke="#222" stroke-width="0.07">Ribociclib + 10 nmol/L OP-1250</text>
<line x1="267.7" y1="51.15" x2="272.7" y2="51.15" stroke="#5b2a8c" stroke-width="0.6" stroke-linecap="butt"/>
<path d="M268.77,50.11 L271.63,50.11 L270.2,52.58 Z" fill="#5b2a8c"/>
<text x="275.8" y="52.7" font-size="4.45" text-anchor="start" fill="#222" stroke="#222" stroke-width="0.07">Ribociclib + 100 nmol/L OP-1250</text>
<line x1="370.1" y1="1.5" x2="370.1" y2="86.9" stroke="#3a3a3a" stroke-width="0.8" stroke-linecap="butt"/>
<line x1="367.3" y1="86.9" x2="370.1" y2="86.9" stroke="#3a3a3a" stroke-width="0.7" stroke-linecap="butt"/>
<text x="366.9" y="88.8" font-size="5.3" text-anchor="end" fill="#222" font-weight="bold">0</text>
<line x1="367.3" y1="69.18" x2="370.1" y2="69.18" stroke="#3a3a3a" stroke-width="0.7" stroke-linecap="butt"/>
<text x="366.9" y="71.08" font-size="5.3" text-anchor="end" fill="#222" font-weight="bold">25</text>
<line x1="367.3" y1="51.45" x2="370.1" y2="51.45" stroke="#3a3a3a" stroke-width="0.7" stroke-linecap="butt"/>
<text x="366.9" y="53.35" font-size="5.3" text-anchor="end" fill="#222" font-weight="bold">50</text>
<line x1="367.3" y1="33.73" x2="370.1" y2="33.73" stroke="#3a3a3a" stroke-width="0.7" stroke-linecap="butt"/>
<text x="366.9" y="35.63" font-size="5.3" text-anchor="end" fill="#222" font-weight="bold">75</text>
<line x1="367.3" y1="16" x2="370.1" y2="16" stroke="#3a3a3a" stroke-width="0.7" stroke-linecap="butt"/>
<text x="366.9" y="17.9" font-size="5.3" text-anchor="end" fill="#222" font-weight="bold">100</text>
<line x1="370.1" y1="86.9" x2="380.2" y2="86.9" stroke="#3a3a3a" stroke-width="0.8" stroke-linecap="butt"/>
<line x1="383.6" y1="86.9" x2="444.2" y2="86.9" stroke="#3a3a3a" stroke-width="0.8" stroke-linecap="butt"/>
<line x1="383.6" y1="86.9" x2="383.6" y2="88.9" stroke="#3a3a3a" stroke-width="0.7" stroke-linecap="butt"/>
<line x1="391.5" y1="86.9" x2="391.5" y2="89.2" stroke="#3a3a3a" stroke-width="0.7" stroke-linecap="butt"/>
<text x="391.2" y="95.5" font-size="5.2" text-anchor="middle" fill="#222" font-weight="bold">−9</text>
<line x1="404.4" y1="86.9" x2="404.4" y2="89.2" stroke="#3a3a3a" stroke-width="0.7" stroke-linecap="butt"/>
<text x="404.1" y="95.5" font-size="5.2" text-anchor="middle" fill="#222" font-weight="bold">−8</text>
<line x1="417.3" y1="86.9" x2="417.3" y2="89.2" stroke="#3a3a3a" stroke-width="0.7" stroke-linecap="butt"/>
<text x="417" y="95.5" font-size="5.2" text-anchor="middle" fill="#222" font-weight="bold">−7</text>
<line x1="430.2" y1="86.9" x2="430.2" y2="89.2" stroke="#3a3a3a" stroke-width="0.7" stroke-linecap="butt"/>
<text x="429.9" y="95.5" font-size="5.2" text-anchor="middle" fill="#222" font-weight="bold">−6</text>
<line x1="443.1" y1="86.9" x2="443.1" y2="89.2" stroke="#3a3a3a" stroke-width="0.7" stroke-linecap="butt"/>
<text x="442.8" y="95.5" font-size="5.2" text-anchor="middle" fill="#222" font-weight="bold">−5</text>
<line x1="397.95" y1="86.9" x2="397.95" y2="88.1" stroke="#3a3a3a" stroke-width="0.5" stroke-linecap="butt"/>
<line x1="410.85" y1="86.9" x2="410.85" y2="88.1" stroke="#3a3a3a" stroke-width="0.5" stroke-linecap="butt"/>
<line x1="423.75" y1="86.9" x2="423.75" y2="88.1" stroke="#3a3a3a" stroke-width="0.5" stroke-linecap="butt"/>
<line x1="436.65" y1="86.9" x2="436.65" y2="88.1" stroke="#3a3a3a" stroke-width="0.5" stroke-linecap="butt"/>
<text x="407" y="102.4" font-size="5.5" text-anchor="middle" fill="#111" font-weight="bold">log (M) Abemaciclib</text>
<text x="356.4" y="43.95" font-size="5.5" text-anchor="middle" fill="#111" font-weight="bold" transform="rotate(-90 356.4 43.95)">Normalized proliferation</text>
<path d="M375.2 20.25V13.16M374 20.25H376.4M374 13.16H376.4" stroke="#585858" stroke-width="0.55" fill="none"/>
<circle cx="375.2" cy="16.71" r="1.4" fill="#111" stroke="#111" stroke-width="0.5"/>
<path d="M375.2 40.11V18.84M374 40.11H376.4M374 18.84H376.4" stroke="#aecae6" stroke-width="0.55" fill="none"/>
<line x1="373.8" y1="29.47" x2="376.6" y2="29.47" stroke="#8cb4dc" stroke-width="0.6" stroke-linecap="butt"/>
<line x1="375.2" y1="28.07" x2="375.2" y2="30.87" stroke="#8cb4dc" stroke-width="0.6" stroke-linecap="butt"/>
<path d="M375.2 72.72V58.54M374 72.72H376.4M374 58.54H376.4" stroke="#5f65a5" stroke-width="0.55" fill="none"/>
<circle cx="375.2" cy="65.63" r="1.4" fill="#1a237e" stroke="#1a237e" stroke-width="0.5"/>
<path d="M375.2 69.88V61.38M374 69.88H376.4M374 61.38H376.4" stroke="#5f5f9a" stroke-width="0.55" fill="none"/>
<path d="M373.66,64.51 L376.74,64.51 L375.2,67.17 Z" fill="#1a1a6e"/>
<polyline points="391.5,17.54 392.27,17.72 393.03,17.91 393.8,18.12 394.56,18.35 395.33,18.6 396.09,18.86 396.86,19.15 397.62,19.47 398.39,19.81 399.15,20.18 399.92,20.57 400.68,21 401.45,21.46 402.21,21.96 402.98,22.49 403.74,23.06 404.51,23.66 405.27,24.31 406.04,25 406.81,25.74 407.57,26.52 408.34,27.34 409.1,28.2 409.87,29.12 410.63,30.07 411.4,31.07 412.16,32.11 412.93,33.19 413.69,34.31 414.46,35.46 415.22,36.64 415.99,37.85 416.75,39.08 417.52,40.33 418.28,41.59 419.05,42.86 419.81,44.14 420.58,45.41 421.34,46.67 422.11,47.92 422.88,49.15 423.64,50.36 424.41,51.54 425.17,52.7 425.94,53.81 426.7,54.89 427.47,55.94 428.23,56.94 429,57.89 429.76,58.81 430.53,59.67 431.29,60.5 432.06,61.28 432.82,62.01 433.59,62.7 434.35,63.35 435.12,63.96 435.88,64.53 436.65,65.06" fill="none" stroke="#1f9c9c" stroke-width="0.6" stroke-linejoin="round" stroke-linecap="round"/>
<path d="M391.5 23.8V13.87M390.3 23.8H392.7M390.3 13.87H392.7" stroke="#84c9c9" stroke-width="0.6" fill="none"/>
<path d="M397.95 23.8V13.87M396.75 23.8H399.15M396.75 13.87H399.15" stroke="#84c9c9" stroke-width="0.6" fill="none"/>
<path d="M404.4 25.93V18.84M403.2 25.93H405.6M403.2 18.84H405.6" stroke="#84c9c9" stroke-width="0.6" fill="none"/>
<path d="M410.85 34.43V25.93M409.65 34.43H412.05M409.65 25.93H412.05" stroke="#84c9c9" stroke-width="0.6" fill="none"/>
<path d="M417.3 46.49V36.56M416.1 46.49H418.5M416.1 36.56H418.5" stroke="#84c9c9" stroke-width="0.6" fill="none"/>
<path d="M423.75 56.41V45.07M422.55 56.41H424.95M422.55 45.07H424.95" stroke="#84c9c9" stroke-width="0.6" fill="none"/>
<path d="M430.2 62.79V51.45M429 62.79H431.4M429 51.45H431.4" stroke="#84c9c9" stroke-width="0.6" fill="none"/>
<path d="M436.65 69.18V63.5M435.45 69.18H437.85M435.45 63.5H437.85" stroke="#84c9c9" stroke-width="0.6" fill="none"/>
<circle cx="391.5" cy="18.84" r="1.5" fill="#1f9c9c" stroke="#1f9c9c" stroke-width="0.5"/>
<circle cx="397.95" cy="18.84" r="1.5" fill="#1f9c9c" stroke="#1f9c9c" stroke-width="0.5"/>
<circle cx="404.4" cy="22.38" r="1.5" fill="#1f9c9c" stroke="#1f9c9c" stroke-width="0.5"/>
<circle cx="410.85" cy="30.18" r="1.5" fill="#1f9c9c" stroke="#1f9c9c" stroke-width="0.5"/>
<circle cx="417.3" cy="41.52" r="1.5" fill="#1f9c9c" stroke="#1f9c9c" stroke-width="0.5"/>
<circle cx="423.75" cy="50.74" r="1.5" fill="#1f9c9c" stroke="#1f9c9c" stroke-width="0.5"/>
<circle cx="430.2" cy="57.12" r="1.5" fill="#1f9c9c" stroke="#1f9c9c" stroke-width="0.5"/>
<circle cx="436.65" cy="66.34" r="1.5" fill="#1f9c9c" stroke="#1f9c9c" stroke-width="0.5"/>
<polyline points="391.5,36.3 392.27,36.68 393.03,37.09 393.8,37.53 394.56,37.99 395.33,38.48 396.09,38.99 396.86,39.53 397.62,40.1 398.39,40.7 399.15,41.33 399.92,41.98 400.68,42.66 401.45,43.37 402.21,44.1 402.98,44.85 403.74,45.63 404.51,46.42 405.27,47.23 406.04,48.06 406.81,48.89 407.57,49.74 408.34,50.6 409.1,51.45 409.87,52.31 410.63,53.17 411.4,54.02 412.16,54.86 412.93,55.69 413.69,56.51 414.46,57.31 415.22,58.09 415.99,58.85 416.75,59.59 417.52,60.3 418.28,60.99 419.05,61.66 419.81,62.29 420.58,62.9 421.34,63.48 422.11,64.03 422.88,64.56 423.64,65.05 424.41,65.53 425.17,65.97 425.94,66.39 426.7,66.78 427.47,67.15 428.23,67.5 429,67.82 429.76,68.12 430.53,68.41 431.29,68.67 432.06,68.92 432.82,69.15 433.59,69.36 434.35,69.56 435.12,69.74 435.88,69.91 436.65,70.07" fill="none" stroke="#a3a3e6" stroke-width="0.6" stroke-linejoin="round" stroke-linecap="round"/>
<path d="M391.5 43.65V29.47M390.3 43.65H392.7M390.3 29.47H392.7" stroke="#ccccf1" stroke-width="0.6" fill="none"/>
<path d="M397.95 45.78V34.43M396.75 45.78H399.15M396.75 34.43H399.15" stroke="#ccccf1" stroke-width="0.6" fill="none"/>
<path d="M404.4 51.45V40.11M403.2 51.45H405.6M403.2 40.11H405.6" stroke="#ccccf1" stroke-width="0.6" fill="none"/>
<path d="M410.85 61.38V47.2M409.65 61.38H412.05M409.65 47.2H412.05" stroke="#ccccf1" stroke-width="0.6" fill="none"/>
<path d="M417.3 67.05V52.87M416.1 67.05H418.5M416.1 52.87H418.5" stroke="#ccccf1" stroke-width="0.6" fill="none"/>
<path d="M423.75 70.59V59.25M422.55 70.59H424.95M422.55 59.25H424.95" stroke="#ccccf1" stroke-width="0.6" fill="none"/>
<path d="M430.2 72.72V62.79M429 72.72H431.4M429 62.79H431.4" stroke="#ccccf1" stroke-width="0.6" fill="none"/>
<path d="M436.65 74.14V67.05M435.45 74.14H437.85M435.45 67.05H437.85" stroke="#ccccf1" stroke-width="0.6" fill="none"/>
<line x1="390" y1="36.56" x2="393" y2="36.56" stroke="#7070c0" stroke-width="0.6" stroke-linecap="butt"/>
<line x1="391.5" y1="35.06" x2="391.5" y2="38.06" stroke="#7070c0" stroke-width="0.6" stroke-linecap="butt"/>
<line x1="396.45" y1="40.11" x2="399.45" y2="40.11" stroke="#7070c0" stroke-width="0.6" stroke-linecap="butt"/>
<line x1="397.95" y1="38.61" x2="397.95" y2="41.61" stroke="#7070c0" stroke-width="0.6" stroke-linecap="butt"/>
<line x1="402.9" y1="45.78" x2="405.9" y2="45.78" stroke="#7070c0" stroke-width="0.6" stroke-linecap="butt"/>
<line x1="404.4" y1="44.28" x2="404.4" y2="47.28" stroke="#7070c0" stroke-width="0.6" stroke-linecap="butt"/>
<line x1="409.35" y1="54.29" x2="412.35" y2="54.29" stroke="#7070c0" stroke-width="0.6" stroke-linecap="butt"/>
<line x1="410.85" y1="52.79" x2="410.85" y2="55.79" stroke="#7070c0" stroke-width="0.6" stroke-linecap="butt"/>
<line x1="415.8" y1="59.96" x2="418.8" y2="59.96" stroke="#7070c0" stroke-width="0.6" stroke-linecap="butt"/>
<line x1="417.3" y1="58.46" x2="417.3" y2="61.46" stroke="#7070c0" stroke-width="0.6" stroke-linecap="butt"/>
<line x1="422.25" y1="64.92" x2="425.25" y2="64.92" stroke="#7070c0" stroke-width="0.6" stroke-linecap="butt"/>
<line x1="423.75" y1="63.42" x2="423.75" y2="66.42" stroke="#7070c0" stroke-width="0.6" stroke-linecap="butt"/>
<line x1="428.7" y1="67.76" x2="431.7" y2="67.76" stroke="#7070c0" stroke-width="0.6" stroke-linecap="butt"/>
<line x1="430.2" y1="66.26" x2="430.2" y2="69.26" stroke="#7070c0" stroke-width="0.6" stroke-linecap="butt"/>
<line x1="435.15" y1="70.59" x2="438.15" y2="70.59" stroke="#7070c0" stroke-width="0.6" stroke-linecap="butt"/>
<line x1="436.65" y1="69.09" x2="436.65" y2="72.09" stroke="#7070c0" stroke-width="0.6" stroke-linecap="butt"/>
<polyline points="391.5,68.42 392.27,68.42 393.03,68.43 393.8,68.45 394.56,68.46 395.33,68.48 396.09,68.51 396.86,68.54 397.62,68.58 398.39,68.63 399.15,68.7 399.92,68.78 400.68,68.88 401.45,69 402.21,69.14 402.98,69.31 403.74,69.51 404.51,69.73 405.27,69.97 406.04,70.23 406.81,70.5 407.57,70.76 408.34,71.01 409.1,71.25 409.87,71.46 410.63,71.65 411.4,71.81 412.16,71.94 412.93,72.06 413.69,72.15 414.46,72.22 415.22,72.28 415.99,72.33 416.75,72.37 417.52,72.4 418.28,72.42 419.05,72.44 419.81,72.45 420.58,72.46 421.34,72.47 422.11,72.48 422.88,72.48 423.64,72.49 424.41,72.49 425.17,72.49 425.94,72.5 426.7,72.5 427.47,72.5 428.23,72.5 429,72.5 429.76,72.5 430.53,72.5 431.29,72.5 432.06,72.5 432.82,72.5 433.59,72.5 434.35,72.5 435.12,72.5 435.88,72.5 436.65,72.5" fill="none" stroke="#c050c0" stroke-width="0.6" stroke-linejoin="round" stroke-linecap="round"/>
<path d="M391.5 72.01V64.92M390.3 72.01H392.7M390.3 64.92H392.7" stroke="#dc9fdc" stroke-width="0.6" fill="none"/>
<path d="M397.95 72.01V64.92M396.75 72.01H399.15M396.75 64.92H399.15" stroke="#dc9fdc" stroke-width="0.6" fill="none"/>
<path d="M404.4 73.43V66.34M403.2 73.43H405.6M403.2 66.34H405.6" stroke="#dc9fdc" stroke-width="0.6" fill="none"/>
<path d="M410.85 74.85V67.76M409.65 74.85H412.05M409.65 67.76H412.05" stroke="#dc9fdc" stroke-width="0.6" fill="none"/>
<path d="M417.3 76.97V69.88M416.1 76.97H418.5M416.1 69.88H418.5" stroke="#dc9fdc" stroke-width="0.6" fill="none"/>
<path d="M423.75 76.27V69.18M422.55 76.27H424.95M422.55 69.18H424.95" stroke="#dc9fdc" stroke-width="0.6" fill="none"/>
<path d="M430.2 75.56V68.47M429 75.56H431.4M429 68.47H431.4" stroke="#dc9fdc" stroke-width="0.6" fill="none"/>
<path d="M436.65 75.56V68.47M435.45 75.56H437.85M435.45 68.47H437.85" stroke="#dc9fdc" stroke-width="0.6" fill="none"/>
<circle cx="391.5" cy="68.47" r="1.5" fill="#c050c0" stroke="#c050c0" stroke-width="0.5"/>
<circle cx="397.95" cy="68.47" r="1.5" fill="#c050c0" stroke="#c050c0" stroke-width="0.5"/>
<circle cx="404.4" cy="69.88" r="1.5" fill="#c050c0" stroke="#c050c0" stroke-width="0.5"/>
<circle cx="410.85" cy="71.3" r="1.5" fill="#c050c0" stroke="#c050c0" stroke-width="0.5"/>
<circle cx="417.3" cy="73.43" r="1.5" fill="#c050c0" stroke="#c050c0" stroke-width="0.5"/>
<circle cx="423.75" cy="72.72" r="1.5" fill="#c050c0" stroke="#c050c0" stroke-width="0.5"/>
<circle cx="430.2" cy="72.01" r="1.5" fill="#c050c0" stroke="#c050c0" stroke-width="0.5"/>
<circle cx="436.65" cy="72.01" r="1.5" fill="#c050c0" stroke="#c050c0" stroke-width="0.5"/>
<polyline points="391.5,68.75 392.27,68.75 393.03,68.76 393.8,68.77 394.56,68.78 395.33,68.8 396.09,68.82 396.86,68.85 397.62,68.88 398.39,68.92 399.15,68.97 399.92,69.04 400.68,69.12 401.45,69.22 402.21,69.34 402.98,69.48 403.74,69.64 404.51,69.83 405.27,70.04 406.04,70.27 406.81,70.5 407.57,70.74 408.34,70.98 409.1,71.21 409.87,71.41 410.63,71.6 411.4,71.77 412.16,71.91 412.93,72.02 413.69,72.12 414.46,72.2 415.22,72.27 415.99,72.32 416.75,72.36 417.52,72.39 418.28,72.42 419.05,72.44 419.81,72.46 420.58,72.47 421.34,72.48 422.11,72.48 422.88,72.49 423.64,72.5 424.41,72.5 425.17,72.5 425.94,72.5 426.7,72.51 427.47,72.51 428.23,72.51 429,72.51 429.76,72.51 430.53,72.51 431.29,72.51 432.06,72.51 432.82,72.51 433.59,72.51 434.35,72.51 435.12,72.51 435.88,72.51 436.65,72.51" fill="none" stroke="#5b2a8c" stroke-width="0.6" stroke-linejoin="round" stroke-linecap="round"/>
<path d="M391.5 71.3V65.63M390.3 71.3H392.7M390.3 65.63H392.7" stroke="#a58ac0" stroke-width="0.6" fill="none"/>
<path d="M397.95 72.01V66.34M396.75 72.01H399.15M396.75 66.34H399.15" stroke="#a58ac0" stroke-width="0.6" fill="none"/>
<path d="M404.4 72.72V67.05M403.2 72.72H405.6M403.2 67.05H405.6" stroke="#a58ac0" stroke-width="0.6" fill="none"/>
<path d="M410.85 74.14V68.47M409.65 74.14H412.05M409.65 68.47H412.05" stroke="#a58ac0" stroke-width="0.6" fill="none"/>
<path d="M417.3 76.27V70.59M416.1 76.27H418.5M416.1 70.59H418.5" stroke="#a58ac0" stroke-width="0.6" fill="none"/>
<path d="M423.75 75.56V69.88M422.55 75.56H424.95M422.55 69.88H424.95" stroke="#a58ac0" stroke-width="0.6" fill="none"/>
<path d="M430.2 75.56V69.88M429 75.56H431.4M429 69.88H431.4" stroke="#a58ac0" stroke-width="0.6" fill="none"/>
<path d="M436.65 74.14V68.47M435.45 74.14H437.85M435.45 68.47H437.85" stroke="#a58ac0" stroke-width="0.6" fill="none"/>
<path d="M389.85,67.27 L393.15,67.27 L391.5,70.12 Z" fill="#5b2a8c"/>
<path d="M396.3,67.98 L399.6,67.98 L397.95,70.83 Z" fill="#5b2a8c"/>
<path d="M402.75,68.68 L406.05,68.68 L404.4,71.53 Z" fill="#5b2a8c"/>
<path d="M409.2,70.1 L412.5,70.1 L410.85,72.95 Z" fill="#5b2a8c"/>
<path d="M415.65,72.23 L418.95,72.23 L417.3,75.08 Z" fill="#5b2a8c"/>
<path d="M422.1,71.52 L425.4,71.52 L423.75,74.37 Z" fill="#5b2a8c"/>
<path d="M428.55,71.52 L431.85,71.52 L430.2,74.37 Z" fill="#5b2a8c"/>
<path d="M435,70.1 L438.3,70.1 L436.65,72.95 Z" fill="#5b2a8c"/>
<circle cx="443.5" cy="10.4" r="1.3" fill="#111" stroke="#111" stroke-width="0.5"/>
<text x="449" y="11.95" font-size="4.55" text-anchor="start" fill="#222" stroke="#222" stroke-width="0.07">Vehicle (100 pmol/L E2)</text>
<line x1="442.2" y1="16.32" x2="444.8" y2="16.32" stroke="#8cb4dc" stroke-width="0.6" stroke-linecap="butt"/>
<line x1="443.5" y1="15.02" x2="443.5" y2="17.62" stroke="#8cb4dc" stroke-width="0.6" stroke-linecap="butt"/>
<text x="449" y="17.87" font-size="4.55" text-anchor="start" fill="#222" stroke="#222" stroke-width="0.07">1 nmol/L OP-1250</text>
<circle cx="443.5" cy="22.24" r="1.3" fill="#1a237e" stroke="#1a237e" stroke-width="0.5"/>
<text x="449" y="23.79" font-size="4.55" text-anchor="start" fill="#222" stroke="#222" stroke-width="0.07">10 nmol/L OP-1250</text>
<path d="M442.07,27.12 L444.93,27.12 L443.5,29.59 Z" fill="#1a1a6e"/>
<text x="449" y="29.71" font-size="4.55" text-anchor="start" fill="#222" stroke="#222" stroke-width="0.07">100 nmol/L OP-1250</text>
<line x1="441" y1="34.08" x2="446" y2="34.08" stroke="#1f9c9c" stroke-width="0.6" stroke-linecap="butt"/>
<circle cx="443.5" cy="34.08" r="1.3" fill="#1f9c9c" stroke="#1f9c9c" stroke-width="0.5"/>
<text x="449" y="35.63" font-size="4.55" text-anchor="start" fill="#222" stroke="#222" stroke-width="0.07">Abemaciclib</text>
<line x1="441" y1="40" x2="446" y2="40" stroke="#a3a3e6" stroke-width="0.6" stroke-linecap="butt"/>
<line x1="442.2" y1="40" x2="444.8" y2="40" stroke="#a3a3e6" stroke-width="0.6" stroke-linecap="butt"/>
<line x1="443.5" y1="38.7" x2="443.5" y2="41.3" stroke="#a3a3e6" stroke-width="0.6" stroke-linecap="butt"/>
<text x="449" y="41.55" font-size="4.55" text-anchor="start" fill="#222" stroke="#222" stroke-width="0.07">Abemaciclib + 1 nmol/L OP-1250</text>
<line x1="441" y1="45.92" x2="446" y2="45.92" stroke="#c050c0" stroke-width="0.6" stroke-linecap="butt"/>
<circle cx="443.5" cy="45.92" r="1.3" fill="#c050c0" stroke="#c050c0" stroke-width="0.5"/>
<text x="449" y="47.47" font-size="4.55" text-anchor="start" fill="#222" stroke="#222" stroke-width="0.07">Abemaciclib + 10 nmol/L OP-1250</text>
<line x1="441" y1="51.84" x2="446" y2="51.84" stroke="#5b2a8c" stroke-width="0.6" stroke-linecap="butt"/>
<path d="M442.07,50.8 L444.93,50.8 L443.5,53.27 Z" fill="#5b2a8c"/>
<text x="449" y="53.39" font-size="4.55" text-anchor="start" fill="#222" stroke="#222" stroke-width="0.07">Abemaciclib + 100 nmol/L OP-1250</text>
<line x1="55.4" y1="123.5" x2="55.4" y2="271.4" stroke="#3a3a3a" stroke-width="0.9" stroke-linecap="butt"/>
<line x1="54.95" y1="271.4" x2="224" y2="271.4" stroke="#3a3a3a" stroke-width="0.9" stroke-linecap="butt"/>
<line x1="53.6" y1="271.4" x2="55.4" y2="271.4" stroke="#3a3a3a" stroke-width="0.6" stroke-linecap="butt"/>
<text x="52.9" y="272.9" font-size="4.4" text-anchor="end" fill="#222" stroke="#222" stroke-width="0.07">0</text>
<line x1="53.6" y1="259.15" x2="55.4" y2="259.15" stroke="#3a3a3a" stroke-width="0.6" stroke-linecap="butt"/>
<text x="52.9" y="260.65" font-size="4.4" text-anchor="end" fill="#222" stroke="#222" stroke-width="0.07">100</text>
<line x1="53.6" y1="246.9" x2="55.4" y2="246.9" stroke="#3a3a3a" stroke-width="0.6" stroke-linecap="butt"/>
<text x="52.9" y="248.4" font-size="4.4" text-anchor="end" fill="#222" stroke="#222" stroke-width="0.07">200</text>
<line x1="53.6" y1="234.65" x2="55.4" y2="234.65" stroke="#3a3a3a" stroke-width="0.6" stroke-linecap="butt"/>
<text x="52.9" y="236.15" font-size="4.4" text-anchor="end" fill="#222" stroke="#222" stroke-width="0.07">300</text>
<line x1="53.6" y1="222.4" x2="55.4" y2="222.4" stroke="#3a3a3a" stroke-width="0.6" stroke-linecap="butt"/>
<text x="52.9" y="223.9" font-size="4.4" text-anchor="end" fill="#222" stroke="#222" stroke-width="0.07">400</text>
<line x1="53.6" y1="210.15" x2="55.4" y2="210.15" stroke="#3a3a3a" stroke-width="0.6" stroke-linecap="butt"/>
<text x="52.9" y="211.65" font-size="4.4" text-anchor="end" fill="#222" stroke="#222" stroke-width="0.07">500</text>
<line x1="53.6" y1="197.9" x2="55.4" y2="197.9" stroke="#3a3a3a" stroke-width="0.6" stroke-linecap="butt"/>
<text x="52.9" y="199.4" font-size="4.4" text-anchor="end" fill="#222" stroke="#222" stroke-width="0.07">600</text>
<line x1="53.6" y1="185.65" x2="55.4" y2="185.65" stroke="#3a3a3a" stroke-width="0.6" stroke-linecap="butt"/>
<text x="52.9" y="187.15" font-size="4.4" text-anchor="end" fill="#222" stroke="#222" stroke-width="0.07">700</text>
<line x1="53.6" y1="173.4" x2="55.4" y2="173.4" stroke="#3a3a3a" stroke-width="0.6" stroke-linecap="butt"/>
<text x="52.9" y="174.9" font-size="4.4" text-anchor="end" fill="#222" stroke="#222" stroke-width="0.07">800</text>
<line x1="53.6" y1="161.15" x2="55.4" y2="161.15" stroke="#3a3a3a" stroke-width="0.6" stroke-linecap="butt"/>
<text x="52.9" y="162.65" font-size="4.4" text-anchor="end" fill="#222" stroke="#222" stroke-width="0.07">900</text>
<line x1="53.6" y1="148.9" x2="55.4" y2="148.9" stroke="#3a3a3a" stroke-width="0.6" stroke-linecap="butt"/>
<text x="52.9" y="150.4" font-size="4.4" text-anchor="end" fill="#222" stroke="#222" stroke-width="0.07">1,000</text>
<line x1="53.6" y1="136.65" x2="55.4" y2="136.65" stroke="#3a3a3a" stroke-width="0.6" stroke-linecap="butt"/>
<text x="52.9" y="138.15" font-size="4.4" text-anchor="end" fill="#222" stroke="#222" stroke-width="0.07">1,100</text>
<line x1="53.6" y1="124.4" x2="55.4" y2="124.4" stroke="#3a3a3a" stroke-width="0.6" stroke-linecap="butt"/>
<text x="52.9" y="125.9" font-size="4.4" text-anchor="end" fill="#222" stroke="#222" stroke-width="0.07">1,200</text>
<line x1="61.7" y1="271.4" x2="61.7" y2="273.2" stroke="#3a3a3a" stroke-width="0.6" stroke-linecap="butt"/>
<text x="61.7" y="277.2" font-size="4.3" text-anchor="middle" fill="#222" stroke="#222" stroke-width="0.07">1</text>
<line x1="73.26" y1="271.4" x2="73.26" y2="273.2" stroke="#3a3a3a" stroke-width="0.6" stroke-linecap="butt"/>
<text x="73.26" y="277.2" font-size="4.3" text-anchor="middle" fill="#222" stroke="#222" stroke-width="0.07">3</text>
<line x1="96.38" y1="271.4" x2="96.38" y2="273.2" stroke="#3a3a3a" stroke-width="0.6" stroke-linecap="butt"/>
<text x="96.38" y="277.2" font-size="4.3" text-anchor="middle" fill="#222" stroke="#222" stroke-width="0.07">7</text>
<line x1="113.72" y1="271.4" x2="113.72" y2="273.2" stroke="#3a3a3a" stroke-width="0.6" stroke-linecap="butt"/>
<text x="113.72" y="277.2" font-size="4.3" text-anchor="middle" fill="#222" stroke="#222" stroke-width="0.07">10</text>
<line x1="136.84" y1="271.4" x2="136.84" y2="273.2" stroke="#3a3a3a" stroke-width="0.6" stroke-linecap="butt"/>
<text x="136.84" y="277.2" font-size="4.3" text-anchor="middle" fill="#222" stroke="#222" stroke-width="0.07">14</text>
<line x1="154.18" y1="271.4" x2="154.18" y2="273.2" stroke="#3a3a3a" stroke-width="0.6" stroke-linecap="butt"/>
<text x="154.18" y="277.2" font-size="4.3" text-anchor="middle" fill="#222" stroke="#222" stroke-width="0.07">17</text>
<line x1="177.3" y1="271.4" x2="177.3" y2="273.2" stroke="#3a3a3a" stroke-width="0.6" stroke-linecap="butt"/>
<text x="177.3" y="277.2" font-size="4.3" text-anchor="middle" fill="#222" stroke="#222" stroke-width="0.07">21</text>
<line x1="200.42" y1="271.4" x2="200.42" y2="273.2" stroke="#3a3a3a" stroke-width="0.6" stroke-linecap="butt"/>
<text x="200.42" y="277.2" font-size="4.3" text-anchor="middle" fill="#222" stroke="#222" stroke-width="0.07">25</text>
<line x1="217.76" y1="271.4" x2="217.76" y2="273.2" stroke="#3a3a3a" stroke-width="0.6" stroke-linecap="butt"/>
<text x="217.76" y="277.2" font-size="4.3" text-anchor="middle" fill="#222" stroke="#222" stroke-width="0.07">28</text>
<text x="137" y="283.3" font-size="4.5" text-anchor="middle" fill="#333" stroke="#333" stroke-width="0.07">Day</text>
<text x="39.3" y="198.4" font-size="4.4" text-anchor="middle" fill="#333" transform="rotate(-90 39.3 198.4)">Tumor volume (mm<tspan dy="-1.5" font-size="3">3</tspan><tspan dy="1.5">)</tspan></text>
<line x1="60" y1="246.04" x2="224" y2="246.04" stroke="#333" stroke-width="0.7" stroke-dasharray="1.6,1.2" stroke-linecap="butt"/>
<path d="M61.7 248.12V243.22M60.6 248.12H62.8M60.6 243.22H62.8" stroke="#111111" stroke-width="0.6" fill="none"/>
<path d="M73.26 243.47V233.67M72.16 243.47H74.36M72.16 233.67H74.36" stroke="#111111" stroke-width="0.6" fill="none"/>
<path d="M96.38 242.49V235.14M95.28 242.49H97.48M95.28 235.14H97.48" stroke="#111111" stroke-width="0.6" fill="none"/>
<path d="M113.72 239.92V230.12M112.62 239.92H114.82M112.62 230.12H114.82" stroke="#111111" stroke-width="0.6" fill="none"/>
<path d="M136.84 232.81V218.11M135.74 232.81H137.94M135.74 218.11H137.94" stroke="#111111" stroke-width="0.6" fill="none"/>
<path d="M154.18 220.81V203.66M153.08 220.81H155.28M153.08 203.66H155.28" stroke="#111111" stroke-width="0.6" fill="none"/>
<path d="M177.3 216.89V199.74M176.2 216.89H178.4M176.2 199.74H178.4" stroke="#111111" stroke-width="0.6" fill="none"/>
<path d="M200.42 215.66V193.61M199.32 215.66H201.52M199.32 193.61H201.52" stroke="#111111" stroke-width="0.6" fill="none"/>
<path d="M217.76 200.59V168.74M216.66 200.59H218.86M216.66 168.74H218.86" stroke="#111111" stroke-width="0.6" fill="none"/>
<polyline points="61.7,245.67 73.26,238.57 96.38,238.81 113.72,235.02 136.84,225.46 154.18,212.23 177.3,208.31 200.42,204.64 217.76,184.67" fill="none" stroke="#111111" stroke-width="1.5" stroke-linejoin="round" stroke-linecap="round"/>
<circle cx="61.7" cy="245.67" r="1.4" fill="#fff" fill-opacity="0.6" stroke="#111111" stroke-width="0.6"/>
<circle cx="73.26" cy="238.57" r="1.4" fill="#fff" fill-opacity="0.6" stroke="#111111" stroke-width="0.6"/>
<circle cx="96.38" cy="238.81" r="1.4" fill="#fff" fill-opacity="0.6" stroke="#111111" stroke-width="0.6"/>
<circle cx="113.72" cy="235.02" r="1.4" fill="#fff" fill-opacity="0.6" stroke="#111111" stroke-width="0.6"/>
<circle cx="136.84" cy="225.46" r="1.4" fill="#fff" fill-opacity="0.6" stroke="#111111" stroke-width="0.6"/>
<circle cx="154.18" cy="212.23" r="1.4" fill="#fff" fill-opacity="0.6" stroke="#111111" stroke-width="0.6"/>
<circle cx="177.3" cy="208.31" r="1.4" fill="#fff" fill-opacity="0.6" stroke="#111111" stroke-width="0.6"/>
<circle cx="200.42" cy="204.64" r="1.4" fill="#fff" fill-opacity="0.6" stroke="#111111" stroke-width="0.6"/>
<circle cx="217.76" cy="184.67" r="1.4" fill="#fff" fill-opacity="0.6" stroke="#111111" stroke-width="0.6"/>
<path d="M61.7 247.51V243.84M60.6 247.51H62.8M60.6 243.84H62.8" stroke="#7b7bd8" stroke-width="0.6" fill="none"/>
<path d="M73.26 242.61V235.26M72.16 242.61H74.36M72.16 235.26H74.36" stroke="#7b7bd8" stroke-width="0.6" fill="none"/>
<path d="M96.38 245.67V238.32M95.28 245.67H97.48M95.28 238.32H97.48" stroke="#7b7bd8" stroke-width="0.6" fill="none"/>
<path d="M113.72 243.71V233.91M112.62 243.71H114.82M112.62 233.91H114.82" stroke="#7b7bd8" stroke-width="0.6" fill="none"/>
<path d="M136.84 242.61V232.81M135.74 242.61H137.94M135.74 232.81H137.94" stroke="#7b7bd8" stroke-width="0.6" fill="none"/>
<path d="M154.18 234.04V224.24M153.08 234.04H155.28M153.08 224.24H155.28" stroke="#7b7bd8" stroke-width="0.6" fill="none"/>
<path d="M177.3 235.26V223.01M176.2 235.26H178.4M176.2 223.01H178.4" stroke="#7b7bd8" stroke-width="0.6" fill="none"/>
<path d="M200.42 234.65V224.85M199.32 234.65H201.52M199.32 224.85H201.52" stroke="#7b7bd8" stroke-width="0.6" fill="none"/>
<path d="M217.76 243.84V229.14M216.66 243.84H218.86M216.66 229.14H218.86" stroke="#7b7bd8" stroke-width="0.6" fill="none"/>
<polyline points="61.7,245.67 73.26,238.94 96.38,242 113.72,238.81 136.84,237.71 154.18,229.14 177.3,229.14 200.42,229.75 217.76,236.49" fill="none" stroke="#7b7bd8" stroke-width="1.25" stroke-linejoin="round" stroke-linecap="round"/>
<path d="M60.02,245.67 L61.7,244.27 L63.38,245.67 L61.7,247.07 Z" fill="#7b7bd8"/>
<path d="M71.58,238.94 L73.26,237.54 L74.94,238.94 L73.26,240.34 Z" fill="#7b7bd8"/>
<path d="M94.7,242 L96.38,240.6 L98.06,242 L96.38,243.4 Z" fill="#7b7bd8"/>
<path d="M112.04,238.81 L113.72,237.41 L115.4,238.81 L113.72,240.21 Z" fill="#7b7bd8"/>
<path d="M135.16,237.71 L136.84,236.31 L138.52,237.71 L136.84,239.11 Z" fill="#7b7bd8"/>
<path d="M152.5,229.14 L154.18,227.74 L155.86,229.14 L154.18,230.54 Z" fill="#7b7bd8"/>
<path d="M175.62,229.14 L177.3,227.74 L178.98,229.14 L177.3,230.54 Z" fill="#7b7bd8"/>
<path d="M198.74,229.75 L200.42,228.35 L202.1,229.75 L200.42,231.15 Z" fill="#7b7bd8"/>
<path d="M216.08,236.49 L217.76,235.09 L219.44,236.49 L217.76,237.89 Z" fill="#7b7bd8"/>
<path d="M61.7 248.12V244.45M60.6 248.12H62.8M60.6 244.45H62.8" stroke="#1d1da6" stroke-width="0.6" fill="none"/>
<path d="M73.26 242.98V235.63M72.16 242.98H74.36M72.16 235.63H74.36" stroke="#1d1da6" stroke-width="0.6" fill="none"/>
<path d="M96.38 248.98V244.08M95.28 248.98H97.48M95.28 244.08H97.48" stroke="#1d1da6" stroke-width="0.6" fill="none"/>
<path d="M113.72 253.64V248.74M112.62 253.64H114.82M112.62 248.74H114.82" stroke="#1d1da6" stroke-width="0.6" fill="none"/>
<path d="M136.84 252.41V247.51M135.74 252.41H137.94M135.74 247.51H137.94" stroke="#1d1da6" stroke-width="0.6" fill="none"/>
<path d="M154.18 251.8V246.9M153.08 251.8H155.28M153.08 246.9H155.28" stroke="#1d1da6" stroke-width="0.6" fill="none"/>
<path d="M177.3 258.54V253.64M176.2 258.54H178.4M176.2 253.64H178.4" stroke="#1d1da6" stroke-width="0.6" fill="none"/>
<path d="M200.42 262.82V259.15M199.32 262.82H201.52M199.32 259.15H201.52" stroke="#1d1da6" stroke-width="0.6" fill="none"/>
<path d="M217.76 264.66V260.99M216.66 264.66H218.86M216.66 260.99H218.86" stroke="#1d1da6" stroke-width="0.6" fill="none"/>
<polyline points="61.7,246.29 73.26,239.3 96.38,246.53 113.72,251.19 136.84,249.96 154.18,249.35 177.3,256.09 200.42,260.99 217.76,262.82" fill="none" stroke="#1d1da6" stroke-width="1.35" stroke-linejoin="round" stroke-linecap="round"/>
<path d="M60.16,247.41 L63.24,247.41 L61.7,244.75 Z" fill="#1d1da6"/>
<path d="M71.72,240.42 L74.8,240.42 L73.26,237.76 Z" fill="#1d1da6"/>
<path d="M94.84,247.65 L97.92,247.65 L96.38,244.99 Z" fill="#1d1da6"/>
<path d="M112.18,252.31 L115.26,252.31 L113.72,249.65 Z" fill="#1d1da6"/>
<path d="M135.3,251.08 L138.38,251.08 L136.84,248.42 Z" fill="#1d1da6"/>
<path d="M152.64,250.47 L155.72,250.47 L154.18,247.81 Z" fill="#1d1da6"/>
<path d="M175.76,257.21 L178.84,257.21 L177.3,254.55 Z" fill="#1d1da6"/>
<path d="M198.88,262.11 L201.96,262.11 L200.42,259.45 Z" fill="#1d1da6"/>
<path d="M216.22,263.94 L219.3,263.94 L217.76,261.28 Z" fill="#1d1da6"/>
<path d="M61.7 247.51V243.84M60.6 247.51H62.8M60.6 243.84H62.8" stroke="#6fcdd6" stroke-width="0.6" fill="none"/>
<path d="M73.26 242.61V235.26M72.16 242.61H74.36M72.16 235.26H74.36" stroke="#6fcdd6" stroke-width="0.6" fill="none"/>
<path d="M96.38 246.41V239.06M95.28 246.41H97.48M95.28 239.06H97.48" stroke="#6fcdd6" stroke-width="0.6" fill="none"/>
<path d="M113.72 243.71V233.91M112.62 243.71H114.82M112.62 233.91H114.82" stroke="#6fcdd6" stroke-width="0.6" fill="none"/>
<path d="M136.84 241.39V231.59M135.74 241.39H137.94M135.74 231.59H137.94" stroke="#6fcdd6" stroke-width="0.6" fill="none"/>
<path d="M154.18 235.26V225.46M153.08 235.26H155.28M153.08 225.46H155.28" stroke="#6fcdd6" stroke-width="0.6" fill="none"/>
<path d="M177.3 235.87V226.07M176.2 235.87H178.4M176.2 226.07H178.4" stroke="#6fcdd6" stroke-width="0.6" fill="none"/>
<path d="M200.42 229.75V217.5M199.32 229.75H201.52M199.32 217.5H201.52" stroke="#6fcdd6" stroke-width="0.6" fill="none"/>
<path d="M217.76 226.69V211.99M216.66 226.69H218.86M216.66 211.99H218.86" stroke="#6fcdd6" stroke-width="0.6" fill="none"/>
<polyline points="61.7,245.67 73.26,238.94 96.38,242.73 113.72,238.81 136.84,236.49 154.18,230.36 177.3,230.97 200.42,223.62 217.76,219.34" fill="none" stroke="#6fcdd6" stroke-width="1.25" stroke-linejoin="round" stroke-linecap="round"/>
<path d="M60.02,245.67 L61.7,244.27 L63.38,245.67 L61.7,247.07 Z" fill="#6fcdd6"/>
<path d="M71.58,238.94 L73.26,237.54 L74.94,238.94 L73.26,240.34 Z" fill="#6fcdd6"/>
<path d="M94.7,242.73 L96.38,241.33 L98.06,242.73 L96.38,244.13 Z" fill="#6fcdd6"/>
<path d="M112.04,238.81 L113.72,237.41 L115.4,238.81 L113.72,240.21 Z" fill="#6fcdd6"/>
<path d="M135.16,236.49 L136.84,235.09 L138.52,236.49 L136.84,237.89 Z" fill="#6fcdd6"/>
<path d="M152.5,230.36 L154.18,228.96 L155.86,230.36 L154.18,231.76 Z" fill="#6fcdd6"/>
<path d="M175.62,230.97 L177.3,229.57 L178.98,230.97 L177.3,232.37 Z" fill="#6fcdd6"/>
<path d="M198.74,223.62 L200.42,222.22 L202.1,223.62 L200.42,225.02 Z" fill="#6fcdd6"/>
<path d="M216.08,219.34 L217.76,217.94 L219.44,219.34 L217.76,220.74 Z" fill="#6fcdd6"/>
<path d="M61.7 247.51V243.84M60.6 247.51H62.8M60.6 243.84H62.8" stroke="#2e8079" stroke-width="0.6" fill="none"/>
<path d="M73.26 242.98V235.63M72.16 242.98H74.36M72.16 235.63H74.36" stroke="#2e8079" stroke-width="0.6" fill="none"/>
<path d="M96.38 246.29V241.39M95.28 246.29H97.48M95.28 241.39H97.48" stroke="#2e8079" stroke-width="0.6" fill="none"/>
<path d="M113.72 250.57V245.67M112.62 250.57H114.82M112.62 245.67H114.82" stroke="#2e8079" stroke-width="0.6" fill="none"/>
<path d="M136.84 251.19V246.29M135.74 251.19H137.94M135.74 246.29H137.94" stroke="#2e8079" stroke-width="0.6" fill="none"/>
<path d="M154.18 251.19V246.29M153.08 251.19H155.28M153.08 246.29H155.28" stroke="#2e8079" stroke-width="0.6" fill="none"/>
<path d="M177.3 253.64V248.74M176.2 253.64H178.4M176.2 248.74H178.4" stroke="#2e8079" stroke-width="0.6" fill="none"/>
<path d="M200.42 255.47V250.57M199.32 255.47H201.52M199.32 250.57H201.52" stroke="#2e8079" stroke-width="0.6" fill="none"/>
<path d="M217.76 257.31V252.41M216.66 257.31H218.86M216.66 252.41H218.86" stroke="#2e8079" stroke-width="0.6" fill="none"/>
<polyline points="61.7,245.67 73.26,239.3 96.38,243.84 113.72,248.12 136.84,248.74 154.18,248.74 177.3,251.19 200.42,253.02 217.76,254.86" fill="none" stroke="#2e8079" stroke-width="1.25" stroke-linejoin="round" stroke-linecap="round"/>
<circle cx="61.7" cy="245.67" r="1.4" fill="#fff" fill-opacity="0.6" stroke="#2e8079" stroke-width="0.6"/>
<circle cx="73.26" cy="239.3" r="1.4" fill="#fff" fill-opacity="0.6" stroke="#2e8079" stroke-width="0.6"/>
<circle cx="96.38" cy="243.84" r="1.4" fill="#fff" fill-opacity="0.6" stroke="#2e8079" stroke-width="0.6"/>
<circle cx="113.72" cy="248.12" r="1.4" fill="#fff" fill-opacity="0.6" stroke="#2e8079" stroke-width="0.6"/>
<circle cx="136.84" cy="248.74" r="1.4" fill="#fff" fill-opacity="0.6" stroke="#2e8079" stroke-width="0.6"/>
<circle cx="154.18" cy="248.74" r="1.4" fill="#fff" fill-opacity="0.6" stroke="#2e8079" stroke-width="0.6"/>
<circle cx="177.3" cy="251.19" r="1.4" fill="#fff" fill-opacity="0.6" stroke="#2e8079" stroke-width="0.6"/>
<circle cx="200.42" cy="253.02" r="1.4" fill="#fff" fill-opacity="0.6" stroke="#2e8079" stroke-width="0.6"/>
<circle cx="217.76" cy="254.86" r="1.4" fill="#fff" fill-opacity="0.6" stroke="#2e8079" stroke-width="0.6"/>
<path d="M61.7 247.51V243.84M60.6 247.51H62.8M60.6 243.84H62.8" stroke="#f5b1c8" stroke-width="0.6" fill="none"/>
<path d="M73.26 242.98V235.63M72.16 242.98H74.36M72.16 235.63H74.36" stroke="#f5b1c8" stroke-width="0.6" fill="none"/>
<path d="M96.38 249.35V244.45M95.28 249.35H97.48M95.28 244.45H97.48" stroke="#f5b1c8" stroke-width="0.6" fill="none"/>
<path d="M113.72 253.02V248.12M112.62 253.02H114.82M112.62 248.12H114.82" stroke="#f5b1c8" stroke-width="0.6" fill="none"/>
<path d="M136.84 253.64V248.74M135.74 253.64H137.94M135.74 248.74H137.94" stroke="#f5b1c8" stroke-width="0.6" fill="none"/>
<path d="M154.18 254V249.1M153.08 254H155.28M153.08 249.1H155.28" stroke="#f5b1c8" stroke-width="0.6" fill="none"/>
<path d="M177.3 261.35V257.68M176.2 261.35H178.4M176.2 257.68H178.4" stroke="#f5b1c8" stroke-width="0.6" fill="none"/>
<path d="M200.42 264.05V260.38M199.32 264.05H201.52M199.32 260.38H201.52" stroke="#f5b1c8" stroke-width="0.6" fill="none"/>
<path d="M217.76 265.89V263.44M216.66 265.89H218.86M216.66 263.44H218.86" stroke="#f5b1c8" stroke-width="0.6" fill="none"/>
<polyline points="61.7,245.67 73.26,239.3 96.38,246.9 113.72,250.57 136.84,251.19 154.18,251.55 177.3,259.52 200.42,262.21 217.76,264.66" fill="none" stroke="#f5b1c8" stroke-width="1.25" stroke-linejoin="round" stroke-linecap="round"/>
<path d="M60.02,245.67 L61.7,244.27 L63.38,245.67 L61.7,247.07 Z" fill="#f5b1c8"/>
<path d="M71.58,239.3 L73.26,237.9 L74.94,239.3 L73.26,240.7 Z" fill="#f5b1c8"/>
<path d="M94.7,246.9 L96.38,245.5 L98.06,246.9 L96.38,248.3 Z" fill="#f5b1c8"/>
<path d="M112.04,250.57 L113.72,249.17 L115.4,250.57 L113.72,251.97 Z" fill="#f5b1c8"/>
<path d="M135.16,251.19 L136.84,249.79 L138.52,251.19 L136.84,252.59 Z" fill="#f5b1c8"/>
<path d="M152.5,251.55 L154.18,250.15 L155.86,251.55 L154.18,252.95 Z" fill="#f5b1c8"/>
<path d="M175.62,259.52 L177.3,258.12 L178.98,259.52 L177.3,260.92 Z" fill="#f5b1c8"/>
<path d="M198.74,262.21 L200.42,260.81 L202.1,262.21 L200.42,263.61 Z" fill="#f5b1c8"/>
<path d="M216.08,264.66 L217.76,263.26 L219.44,264.66 L217.76,266.06 Z" fill="#f5b1c8"/>
<path d="M61.7 248.12V244.45M60.6 248.12H62.8M60.6 244.45H62.8" stroke="#e67c98" stroke-width="0.6" fill="none"/>
<path d="M73.26 243.47V236.12M72.16 243.47H74.36M72.16 236.12H74.36" stroke="#e67c98" stroke-width="0.6" fill="none"/>
<path d="M96.38 251.19V246.29M95.28 251.19H97.48M95.28 246.29H97.48" stroke="#e67c98" stroke-width="0.6" fill="none"/>
<path d="M113.72 255.47V250.57M112.62 255.47H114.82M112.62 250.57H114.82" stroke="#e67c98" stroke-width="0.6" fill="none"/>
<path d="M136.84 257.31V252.41M135.74 257.31H137.94M135.74 252.41H137.94" stroke="#e67c98" stroke-width="0.6" fill="none"/>
<path d="M154.18 259.88V254.98M153.08 259.88H155.28M153.08 254.98H155.28" stroke="#e67c98" stroke-width="0.6" fill="none"/>
<path d="M177.3 263.44V259.76M176.2 263.44H178.4M176.2 259.76H178.4" stroke="#e67c98" stroke-width="0.6" fill="none"/>
<path d="M200.42 265.27V262.82M199.32 265.27H201.52M199.32 262.82H201.52" stroke="#e67c98" stroke-width="0.6" fill="none"/>
<path d="M217.76 267.11V264.66M216.66 267.11H218.86M216.66 264.66H218.86" stroke="#e67c98" stroke-width="0.6" fill="none"/>
<polyline points="61.7,246.29 73.26,239.79 96.38,248.74 113.72,253.02 136.84,254.86 154.18,257.44 177.3,261.6 200.42,264.05 217.76,265.89" fill="none" stroke="#e67c98" stroke-width="1.3" stroke-linejoin="round" stroke-linecap="round"/>
<circle cx="61.7" cy="246.29" r="1.4" fill="#e67c98" stroke="#e67c98" stroke-width="0.5"/>
<circle cx="73.26" cy="239.79" r="1.4" fill="#e67c98" stroke="#e67c98" stroke-width="0.5"/>
<circle cx="96.38" cy="248.74" r="1.4" fill="#e67c98" stroke="#e67c98" stroke-width="0.5"/>
<circle cx="113.72" cy="253.02" r="1.4" fill="#e67c98" stroke="#e67c98" stroke-width="0.5"/>
<circle cx="136.84" cy="254.86" r="1.4" fill="#e67c98" stroke="#e67c98" stroke-width="0.5"/>
<circle cx="154.18" cy="257.44" r="1.4" fill="#e67c98" stroke="#e67c98" stroke-width="0.5"/>
<circle cx="177.3" cy="261.6" r="1.4" fill="#e67c98" stroke="#e67c98" stroke-width="0.5"/>
<circle cx="200.42" cy="264.05" r="1.4" fill="#e67c98" stroke="#e67c98" stroke-width="0.5"/>
<circle cx="217.76" cy="265.89" r="1.4" fill="#e67c98" stroke="#e67c98" stroke-width="0.5"/>
<path d="M61.7 248.74V245.06M60.6 248.74H62.8M60.6 245.06H62.8" stroke="#b81f48" stroke-width="0.6" fill="none"/>
<path d="M73.26 243.84V236.49M72.16 243.84H74.36M72.16 236.49H74.36" stroke="#b81f48" stroke-width="0.6" fill="none"/>
<path d="M96.38 252.04V247.14M95.28 252.04H97.48M95.28 247.14H97.48" stroke="#b81f48" stroke-width="0.6" fill="none"/>
<path d="M113.72 257.44V252.53M112.62 257.44H114.82M112.62 252.53H114.82" stroke="#b81f48" stroke-width="0.6" fill="none"/>
<path d="M136.84 259.15V255.47M135.74 259.15H137.94M135.74 255.47H137.94" stroke="#b81f48" stroke-width="0.6" fill="none"/>
<path d="M154.18 262.21V258.54M153.08 262.21H155.28M153.08 258.54H155.28" stroke="#b81f48" stroke-width="0.6" fill="none"/>
<path d="M177.3 264.66V262.21M176.2 264.66H178.4M176.2 262.21H178.4" stroke="#b81f48" stroke-width="0.6" fill="none"/>
<path d="M200.42 267.11V264.66M199.32 267.11H201.52M199.32 264.66H201.52" stroke="#b81f48" stroke-width="0.6" fill="none"/>
<path d="M217.76 268.95V266.5M216.66 268.95H218.86M216.66 266.5H218.86" stroke="#b81f48" stroke-width="0.6" fill="none"/>
<polyline points="61.7,246.9 73.26,240.16 96.38,249.59 113.72,254.98 136.84,257.31 154.18,260.38 177.3,263.44 200.42,265.89 217.76,267.72" fill="none" stroke="#b81f48" stroke-width="1.4" stroke-linejoin="round" stroke-linecap="round"/>
<circle cx="61.7" cy="246.9" r="1.4" fill="#b81f48" stroke="#b81f48" stroke-width="0.5"/>
<circle cx="73.26" cy="240.16" r="1.4" fill="#b81f48" stroke="#b81f48" stroke-width="0.5"/>
<circle cx="96.38" cy="249.59" r="1.4" fill="#b81f48" stroke="#b81f48" stroke-width="0.5"/>
<circle cx="113.72" cy="254.98" r="1.4" fill="#b81f48" stroke="#b81f48" stroke-width="0.5"/>
<circle cx="136.84" cy="257.31" r="1.4" fill="#b81f48" stroke="#b81f48" stroke-width="0.5"/>
<circle cx="154.18" cy="260.38" r="1.4" fill="#b81f48" stroke="#b81f48" stroke-width="0.5"/>
<circle cx="177.3" cy="263.44" r="1.4" fill="#b81f48" stroke="#b81f48" stroke-width="0.5"/>
<circle cx="200.42" cy="265.89" r="1.4" fill="#b81f48" stroke="#b81f48" stroke-width="0.5"/>
<circle cx="217.76" cy="267.72" r="1.4" fill="#b81f48" stroke="#b81f48" stroke-width="0.5"/>
<path d="M61.7 248.74V245.06M60.6 248.74H62.8M60.6 245.06H62.8" stroke="#7c1e3a" stroke-width="0.6" fill="none"/>
<path d="M73.26 244.45V237.1M72.16 244.45H74.36M72.16 237.1H74.36" stroke="#7c1e3a" stroke-width="0.6" fill="none"/>
<path d="M96.38 252.78V247.88M95.28 252.78H97.48M95.28 247.88H97.48" stroke="#7c1e3a" stroke-width="0.6" fill="none"/>
<path d="M113.72 258.29V254.62M112.62 258.29H114.82M112.62 254.62H114.82" stroke="#7c1e3a" stroke-width="0.6" fill="none"/>
<path d="M136.84 261.6V257.92M135.74 261.6H137.94M135.74 257.92H137.94" stroke="#7c1e3a" stroke-width="0.6" fill="none"/>
<path d="M154.18 263.56V259.88M153.08 263.56H155.28M153.08 259.88H155.28" stroke="#7c1e3a" stroke-width="0.6" fill="none"/>
<path d="M177.3 265.89V263.44M176.2 265.89H178.4M176.2 263.44H178.4" stroke="#7c1e3a" stroke-width="0.6" fill="none"/>
<path d="M200.42 267.72V265.27M199.32 267.72H201.52M199.32 265.27H201.52" stroke="#7c1e3a" stroke-width="0.6" fill="none"/>
<path d="M217.76 270.17V267.72M216.66 270.17H218.86M216.66 267.72H218.86" stroke="#7c1e3a" stroke-width="0.6" fill="none"/>
<polyline points="61.7,246.9 73.26,240.77 96.38,250.33 113.72,256.45 136.84,259.76 154.18,261.72 177.3,264.66 200.42,266.5 217.76,268.95" fill="none" stroke="#7c1e3a" stroke-width="1.4" stroke-linejoin="round" stroke-linecap="round"/>
<path d="M60.02,246.9 L61.7,245.5 L63.38,246.9 L61.7,248.3 Z" fill="#fff" fill-opacity="0.5" stroke="#7c1e3a" stroke-width="0.6"/>
<path d="M71.58,240.77 L73.26,239.37 L74.94,240.77 L73.26,242.17 Z" fill="#fff" fill-opacity="0.5" stroke="#7c1e3a" stroke-width="0.6"/>
<path d="M94.7,250.33 L96.38,248.93 L98.06,250.33 L96.38,251.73 Z" fill="#fff" fill-opacity="0.5" stroke="#7c1e3a" stroke-width="0.6"/>
<path d="M112.04,256.45 L113.72,255.05 L115.4,256.45 L113.72,257.85 Z" fill="#fff" fill-opacity="0.5" stroke="#7c1e3a" stroke-width="0.6"/>
<path d="M135.16,259.76 L136.84,258.36 L138.52,259.76 L136.84,261.16 Z" fill="#fff" fill-opacity="0.5" stroke="#7c1e3a" stroke-width="0.6"/>
<path d="M152.5,261.72 L154.18,260.32 L155.86,261.72 L154.18,263.12 Z" fill="#fff" fill-opacity="0.5" stroke="#7c1e3a" stroke-width="0.6"/>
<path d="M175.62,264.66 L177.3,263.26 L178.98,264.66 L177.3,266.06 Z" fill="#fff" fill-opacity="0.5" stroke="#7c1e3a" stroke-width="0.6"/>
<path d="M198.74,266.5 L200.42,265.1 L202.1,266.5 L200.42,267.9 Z" fill="#fff" fill-opacity="0.5" stroke="#7c1e3a" stroke-width="0.6"/>
<path d="M216.08,268.95 L217.76,267.55 L219.44,268.95 L217.76,270.35 Z" fill="#fff" fill-opacity="0.5" stroke="#7c1e3a" stroke-width="0.6"/>
<line x1="61.3" y1="126.6" x2="68.5" y2="126.6" stroke="#111111" stroke-width="1.2" stroke-linecap="butt"/>
<path d="M62.74,126.6 L64.9,124.8 L67.06,126.6 L64.9,128.4 Z" fill="#111111"/>
<text x="70.9" y="128.2" font-size="4.6" text-anchor="start" fill="#111" stroke="#111" stroke-width="0.07">Vehicle</text>
<line x1="61.3" y1="134.5" x2="68.5" y2="134.5" stroke="#7b7bd8" stroke-width="1.2" stroke-linecap="butt"/>
<path d="M62.74,134.5 L64.9,132.7 L67.06,134.5 L64.9,136.3 Z" fill="#7b7bd8"/>
<text x="70.9" y="136.1" font-size="4.6" text-anchor="start" fill="#111" stroke="#111" stroke-width="0.07">OP-1250 1 mg/kg</text>
<line x1="61.3" y1="142.4" x2="68.5" y2="142.4" stroke="#1d1da6" stroke-width="1.2" stroke-linecap="butt"/>
<path d="M62.92,143.84 L66.88,143.84 L64.9,140.42 Z" fill="#1d1da6"/>
<text x="70.9" y="144" font-size="4.6" text-anchor="start" fill="#111" stroke="#111" stroke-width="0.07">OP-1250 10 mg/kg</text>
<line x1="61.3" y1="150.3" x2="68.5" y2="150.3" stroke="#6fcdd6" stroke-width="1.2" stroke-linecap="butt"/>
<path d="M62.74,150.3 L64.9,148.5 L67.06,150.3 L64.9,152.1 Z" fill="#6fcdd6"/>
<text x="70.9" y="151.9" font-size="4.6" text-anchor="start" fill="#111" stroke="#111" stroke-width="0.07">Palbociclib 25 mg/kg</text>
<line x1="61.3" y1="158.2" x2="68.5" y2="158.2" stroke="#2e8079" stroke-width="1.2" stroke-linecap="butt"/>
<path d="M62.74,158.2 L64.9,156.4 L67.06,158.2 L64.9,160 Z" fill="#2e8079"/>
<text x="70.9" y="159.8" font-size="4.6" text-anchor="start" fill="#111" stroke="#111" stroke-width="0.07">Palbociclib 75 mg/kg</text>
<line x1="61.3" y1="166.1" x2="68.5" y2="166.1" stroke="#f5b1c8" stroke-width="1.2" stroke-linecap="butt"/>
<path d="M62.74,166.1 L64.9,164.3 L67.06,166.1 L64.9,167.9 Z" fill="#f5b1c8"/>
<text x="70.9" y="167.7" font-size="4.6" text-anchor="start" fill="#111" stroke="#111" stroke-width="0.07">OP-1250 1 mg/kg + Palbociclib 25 mg/kg</text>
<line x1="61.3" y1="174" x2="68.5" y2="174" stroke="#e67c98" stroke-width="1.2" stroke-linecap="butt"/>
<path d="M62.74,174 L64.9,172.2 L67.06,174 L64.9,175.8 Z" fill="#e67c98"/>
<text x="70.9" y="175.6" font-size="4.6" text-anchor="start" fill="#111" stroke="#111" stroke-width="0.07">OP-1250 1 mg/kg + Palbociclib 75 mg/kg</text>
<line x1="61.3" y1="181.9" x2="68.5" y2="181.9" stroke="#b81f48" stroke-width="1.2" stroke-linecap="butt"/>
<path d="M62.74,181.9 L64.9,180.1 L67.06,181.9 L64.9,183.7 Z" fill="#b81f48"/>
<text x="70.9" y="183.5" font-size="4.6" text-anchor="start" fill="#111" stroke="#111" stroke-width="0.07">OP-1250 10 mg/kg + Palbociclib 25 mg/kg</text>
<line x1="61.3" y1="189.8" x2="68.5" y2="189.8" stroke="#7c1e3a" stroke-width="1.2" stroke-linecap="butt"/>
<path d="M62.74,189.8 L64.9,188 L67.06,189.8 L64.9,191.6 Z" fill="#7c1e3a"/>
<text x="70.9" y="191.4" font-size="4.6" text-anchor="start" fill="#111" stroke="#111" stroke-width="0.07">OP-1250 10 mg/kg + Palbociclib 75 mg/kg</text>
<text x="137.5" y="122.1" font-size="9" text-anchor="middle" fill="#111" font-weight="bold">MCF7</text>
<line x1="293.2" y1="123" x2="293.2" y2="271.3" stroke="#3a3a3a" stroke-width="0.9" stroke-linecap="butt"/>
<line x1="292.75" y1="271.3" x2="468.7" y2="271.3" stroke="#3a3a3a" stroke-width="0.9" stroke-linecap="butt"/>
<line x1="291.4" y1="271.3" x2="293.2" y2="271.3" stroke="#3a3a3a" stroke-width="0.6" stroke-linecap="butt"/>
<text x="290.7" y="272.8" font-size="4.6" text-anchor="end" fill="#222" stroke="#222" stroke-width="0.07">0</text>
<line x1="291.4" y1="254.94" x2="293.2" y2="254.94" stroke="#3a3a3a" stroke-width="0.6" stroke-linecap="butt"/>
<text x="290.7" y="256.44" font-size="4.6" text-anchor="end" fill="#222" stroke="#222" stroke-width="0.07">100</text>
<line x1="291.4" y1="238.58" x2="293.2" y2="238.58" stroke="#3a3a3a" stroke-width="0.6" stroke-linecap="butt"/>
<text x="290.7" y="240.08" font-size="4.6" text-anchor="end" fill="#222" stroke="#222" stroke-width="0.07">200</text>
<line x1="291.4" y1="222.22" x2="293.2" y2="222.22" stroke="#3a3a3a" stroke-width="0.6" stroke-linecap="butt"/>
<text x="290.7" y="223.72" font-size="4.6" text-anchor="end" fill="#222" stroke="#222" stroke-width="0.07">300</text>
<line x1="291.4" y1="205.86" x2="293.2" y2="205.86" stroke="#3a3a3a" stroke-width="0.6" stroke-linecap="butt"/>
<text x="290.7" y="207.36" font-size="4.6" text-anchor="end" fill="#222" stroke="#222" stroke-width="0.07">400</text>
<line x1="291.4" y1="189.5" x2="293.2" y2="189.5" stroke="#3a3a3a" stroke-width="0.6" stroke-linecap="butt"/>
<text x="290.7" y="191" font-size="4.6" text-anchor="end" fill="#222" stroke="#222" stroke-width="0.07">500</text>
<line x1="291.4" y1="173.14" x2="293.2" y2="173.14" stroke="#3a3a3a" stroke-width="0.6" stroke-linecap="butt"/>
<text x="290.7" y="174.64" font-size="4.6" text-anchor="end" fill="#222" stroke="#222" stroke-width="0.07">600</text>
<line x1="291.4" y1="156.78" x2="293.2" y2="156.78" stroke="#3a3a3a" stroke-width="0.6" stroke-linecap="butt"/>
<text x="290.7" y="158.28" font-size="4.6" text-anchor="end" fill="#222" stroke="#222" stroke-width="0.07">700</text>
<line x1="291.4" y1="140.42" x2="293.2" y2="140.42" stroke="#3a3a3a" stroke-width="0.6" stroke-linecap="butt"/>
<text x="290.7" y="141.92" font-size="4.6" text-anchor="end" fill="#222" stroke="#222" stroke-width="0.07">800</text>
<line x1="291.4" y1="124.06" x2="293.2" y2="124.06" stroke="#3a3a3a" stroke-width="0.6" stroke-linecap="butt"/>
<text x="290.7" y="125.56" font-size="4.6" text-anchor="end" fill="#222" stroke="#222" stroke-width="0.07">900</text>
<line x1="298.5" y1="271.3" x2="298.5" y2="273.1" stroke="#3a3a3a" stroke-width="0.6" stroke-linecap="butt"/>
<text x="298.5" y="277.1" font-size="4.3" text-anchor="middle" fill="#222" stroke="#222" stroke-width="0.07">1</text>
<line x1="321.58" y1="271.3" x2="321.58" y2="273.1" stroke="#3a3a3a" stroke-width="0.6" stroke-linecap="butt"/>
<text x="321.58" y="277.1" font-size="4.3" text-anchor="middle" fill="#222" stroke="#222" stroke-width="0.07">5</text>
<line x1="338.89" y1="271.3" x2="338.89" y2="273.1" stroke="#3a3a3a" stroke-width="0.6" stroke-linecap="butt"/>
<text x="338.89" y="277.1" font-size="4.3" text-anchor="middle" fill="#222" stroke="#222" stroke-width="0.07">8</text>
<line x1="361.97" y1="271.3" x2="361.97" y2="273.1" stroke="#3a3a3a" stroke-width="0.6" stroke-linecap="butt"/>
<text x="361.97" y="277.1" font-size="4.3" text-anchor="middle" fill="#222" stroke="#222" stroke-width="0.07">12</text>
<line x1="379.28" y1="271.3" x2="379.28" y2="273.1" stroke="#3a3a3a" stroke-width="0.6" stroke-linecap="butt"/>
<text x="379.28" y="277.1" font-size="4.3" text-anchor="middle" fill="#222" stroke="#222" stroke-width="0.07">15</text>
<line x1="402.36" y1="271.3" x2="402.36" y2="273.1" stroke="#3a3a3a" stroke-width="0.6" stroke-linecap="butt"/>
<text x="402.36" y="277.1" font-size="4.3" text-anchor="middle" fill="#222" stroke="#222" stroke-width="0.07">19</text>
<line x1="419.67" y1="271.3" x2="419.67" y2="273.1" stroke="#3a3a3a" stroke-width="0.6" stroke-linecap="butt"/>
<text x="419.67" y="277.1" font-size="4.3" text-anchor="middle" fill="#222" stroke="#222" stroke-width="0.07">22</text>
<line x1="442.75" y1="271.3" x2="442.75" y2="273.1" stroke="#3a3a3a" stroke-width="0.6" stroke-linecap="butt"/>
<text x="442.75" y="277.1" font-size="4.3" text-anchor="middle" fill="#222" stroke="#222" stroke-width="0.07">26</text>
<line x1="460.06" y1="271.3" x2="460.06" y2="273.1" stroke="#3a3a3a" stroke-width="0.6" stroke-linecap="butt"/>
<text x="460.06" y="277.1" font-size="4.3" text-anchor="middle" fill="#222" stroke="#222" stroke-width="0.07">29</text>
<text x="379.7" y="282.5" font-size="4.5" text-anchor="middle" fill="#333" stroke="#333" stroke-width="0.07">Day</text>
<text x="278.8" y="197.5" font-size="4.4" text-anchor="middle" fill="#333" transform="rotate(-90 278.8 197.5)">Tumor volume (mm<tspan dy="-1.5" font-size="3">3</tspan><tspan dy="1.5">)</tspan></text>
<line x1="297" y1="240.22" x2="468.7" y2="240.22" stroke="#333" stroke-width="0.7" stroke-dasharray="1.6,1.2" stroke-linecap="butt"/>
<path d="M298.5 243.98V237.43M297.4 243.98H299.6M297.4 237.43H299.6" stroke="#111111" stroke-width="0.6" fill="none"/>
<path d="M321.58 237.43V230.89M320.48 237.43H322.68M320.48 230.89H322.68" stroke="#111111" stroke-width="0.6" fill="none"/>
<path d="M338.89 226.96V217.15M337.79 226.96H339.99M337.79 217.15H339.99" stroke="#111111" stroke-width="0.6" fill="none"/>
<path d="M361.97 220.75V207.66M360.87 220.75H363.07M360.87 207.66H363.07" stroke="#111111" stroke-width="0.6" fill="none"/>
<path d="M379.28 213.88V200.79M378.18 213.88H380.38M378.18 200.79H380.38" stroke="#111111" stroke-width="0.6" fill="none"/>
<path d="M402.36 207.82V194.74M401.26 207.82H403.46M401.26 194.74H403.46" stroke="#111111" stroke-width="0.6" fill="none"/>
<path d="M419.67 199.81V183.45M418.57 199.81H420.77M418.57 183.45H420.77" stroke="#111111" stroke-width="0.6" fill="none"/>
<path d="M442.75 186.72V170.36M441.65 186.72H443.85M441.65 170.36H443.85" stroke="#111111" stroke-width="0.6" fill="none"/>
<path d="M460.06 170.36V154M458.96 170.36H461.16M458.96 154H461.16" stroke="#111111" stroke-width="0.6" fill="none"/>
<polyline points="298.5,240.71 321.58,234.16 338.89,222.06 361.97,214.2 379.28,207.33 402.36,201.28 419.67,191.63 442.75,178.54 460.06,162.18" fill="none" stroke="#111111" stroke-width="1.5" stroke-linejoin="round" stroke-linecap="round"/>
<circle cx="298.5" cy="240.71" r="1.4" fill="#fff" fill-opacity="0.6" stroke="#111111" stroke-width="0.6"/>
<circle cx="321.58" cy="234.16" r="1.4" fill="#fff" fill-opacity="0.6" stroke="#111111" stroke-width="0.6"/>
<circle cx="338.89" cy="222.06" r="1.4" fill="#fff" fill-opacity="0.6" stroke="#111111" stroke-width="0.6"/>
<circle cx="361.97" cy="214.2" r="1.4" fill="#fff" fill-opacity="0.6" stroke="#111111" stroke-width="0.6"/>
<circle cx="379.28" cy="207.33" r="1.4" fill="#fff" fill-opacity="0.6" stroke="#111111" stroke-width="0.6"/>
<circle cx="402.36" cy="201.28" r="1.4" fill="#fff" fill-opacity="0.6" stroke="#111111" stroke-width="0.6"/>
<circle cx="419.67" cy="191.63" r="1.4" fill="#fff" fill-opacity="0.6" stroke="#111111" stroke-width="0.6"/>
<circle cx="442.75" cy="178.54" r="1.4" fill="#fff" fill-opacity="0.6" stroke="#111111" stroke-width="0.6"/>
<circle cx="460.06" cy="162.18" r="1.4" fill="#fff" fill-opacity="0.6" stroke="#111111" stroke-width="0.6"/>
<path d="M298.5 243.98V237.43M297.4 243.98H299.6M297.4 237.43H299.6" stroke="#7b7bd8" stroke-width="0.6" fill="none"/>
<path d="M321.58 243.49V236.94M320.48 243.49H322.68M320.48 236.94H322.68" stroke="#7b7bd8" stroke-width="0.6" fill="none"/>
<path d="M338.89 241.85V232.04M337.79 241.85H339.99M337.79 232.04H339.99" stroke="#7b7bd8" stroke-width="0.6" fill="none"/>
<path d="M361.97 243.49V230.4M360.87 243.49H363.07M360.87 230.4H363.07" stroke="#7b7bd8" stroke-width="0.6" fill="none"/>
<path d="M379.28 244.31V231.22M378.18 244.31H380.38M378.18 231.22H380.38" stroke="#7b7bd8" stroke-width="0.6" fill="none"/>
<path d="M402.36 246.76V233.67M401.26 246.76H403.46M401.26 233.67H403.46" stroke="#7b7bd8" stroke-width="0.6" fill="none"/>
<path d="M419.67 247.58V234.49M418.57 247.58H420.77M418.57 234.49H420.77" stroke="#7b7bd8" stroke-width="0.6" fill="none"/>
<path d="M442.75 251.67V238.58M441.65 251.67H443.85M441.65 238.58H443.85" stroke="#7b7bd8" stroke-width="0.6" fill="none"/>
<path d="M460.06 257.39V244.31M458.96 257.39H461.16M458.96 244.31H461.16" stroke="#7b7bd8" stroke-width="0.6" fill="none"/>
<polyline points="298.5,240.71 321.58,240.22 338.89,236.94 361.97,236.94 379.28,237.76 402.36,240.22 419.67,241.03 442.75,245.12 460.06,250.85" fill="none" stroke="#7b7bd8" stroke-width="1.25" stroke-linejoin="round" stroke-linecap="round"/>
<path d="M296.82,240.71 L298.5,239.31 L300.18,240.71 L298.5,242.11 Z" fill="#7b7bd8"/>
<path d="M319.9,240.22 L321.58,238.82 L323.26,240.22 L321.58,241.62 Z" fill="#7b7bd8"/>
<path d="M337.21,236.94 L338.89,235.54 L340.57,236.94 L338.89,238.34 Z" fill="#7b7bd8"/>
<path d="M360.29,236.94 L361.97,235.54 L363.65,236.94 L361.97,238.34 Z" fill="#7b7bd8"/>
<path d="M377.6,237.76 L379.28,236.36 L380.96,237.76 L379.28,239.16 Z" fill="#7b7bd8"/>
<path d="M400.68,240.22 L402.36,238.82 L404.04,240.22 L402.36,241.62 Z" fill="#7b7bd8"/>
<path d="M417.99,241.03 L419.67,239.63 L421.35,241.03 L419.67,242.43 Z" fill="#7b7bd8"/>
<path d="M441.07,245.12 L442.75,243.72 L444.43,245.12 L442.75,246.52 Z" fill="#7b7bd8"/>
<path d="M458.38,250.85 L460.06,249.45 L461.74,250.85 L460.06,252.25 Z" fill="#7b7bd8"/>
<path d="M298.5 244.31V237.76M297.4 244.31H299.6M297.4 237.76H299.6" stroke="#1d1da6" stroke-width="0.6" fill="none"/>
<path d="M321.58 243.49V236.94M320.48 243.49H322.68M320.48 236.94H322.68" stroke="#1d1da6" stroke-width="0.6" fill="none"/>
<path d="M338.89 242.67V236.13M337.79 242.67H339.99M337.79 236.13H339.99" stroke="#1d1da6" stroke-width="0.6" fill="none"/>
<path d="M361.97 242.67V236.13M360.87 242.67H363.07M360.87 236.13H363.07" stroke="#1d1da6" stroke-width="0.6" fill="none"/>
<path d="M379.28 245.12V238.58M378.18 245.12H380.38M378.18 238.58H380.38" stroke="#1d1da6" stroke-width="0.6" fill="none"/>
<path d="M402.36 254.12V247.58M401.26 254.12H403.46M401.26 247.58H403.46" stroke="#1d1da6" stroke-width="0.6" fill="none"/>
<path d="M419.67 258.21V251.67M418.57 258.21H420.77M418.57 251.67H420.77" stroke="#1d1da6" stroke-width="0.6" fill="none"/>
<path d="M442.75 263.12V258.21M441.65 263.12H443.85M441.65 258.21H443.85" stroke="#1d1da6" stroke-width="0.6" fill="none"/>
<path d="M460.06 268.85V265.57M458.96 268.85H461.16M458.96 265.57H461.16" stroke="#1d1da6" stroke-width="0.6" fill="none"/>
<polyline points="298.5,241.03 321.58,240.22 338.89,239.4 361.97,239.4 379.28,241.85 402.36,250.85 419.67,254.94 442.75,260.67 460.06,267.21" fill="none" stroke="#1d1da6" stroke-width="1.35" stroke-linejoin="round" stroke-linecap="round"/>
<path d="M296.96,242.15 L300.04,242.15 L298.5,239.49 Z" fill="#1d1da6"/>
<path d="M320.04,241.34 L323.12,241.34 L321.58,238.68 Z" fill="#1d1da6"/>
<path d="M337.35,240.52 L340.43,240.52 L338.89,237.86 Z" fill="#1d1da6"/>
<path d="M360.43,240.52 L363.51,240.52 L361.97,237.86 Z" fill="#1d1da6"/>
<path d="M377.74,242.97 L380.82,242.97 L379.28,240.31 Z" fill="#1d1da6"/>
<path d="M400.82,251.97 L403.9,251.97 L402.36,249.31 Z" fill="#1d1da6"/>
<path d="M418.13,256.06 L421.21,256.06 L419.67,253.4 Z" fill="#1d1da6"/>
<path d="M441.21,261.79 L444.29,261.79 L442.75,259.13 Z" fill="#1d1da6"/>
<path d="M458.52,268.33 L461.6,268.33 L460.06,265.67 Z" fill="#1d1da6"/>
<path d="M298.5 243.98V237.43M297.4 243.98H299.6M297.4 237.43H299.6" stroke="#6fcdd6" stroke-width="0.6" fill="none"/>
<path d="M321.58 242.67V236.13M320.48 242.67H322.68M320.48 236.13H322.68" stroke="#6fcdd6" stroke-width="0.6" fill="none"/>
<path d="M338.89 232.85V219.77M337.79 232.85H339.99M337.79 219.77H339.99" stroke="#6fcdd6" stroke-width="0.6" fill="none"/>
<path d="M361.97 229.58V216.49M360.87 229.58H363.07M360.87 216.49H363.07" stroke="#6fcdd6" stroke-width="0.6" fill="none"/>
<path d="M379.28 227.95V214.86M378.18 227.95H380.38M378.18 214.86H380.38" stroke="#6fcdd6" stroke-width="0.6" fill="none"/>
<path d="M402.36 225.49V212.4M401.26 225.49H403.46M401.26 212.4H403.46" stroke="#6fcdd6" stroke-width="0.6" fill="none"/>
<path d="M419.67 221.4V208.31M418.57 221.4H420.77M418.57 208.31H420.77" stroke="#6fcdd6" stroke-width="0.6" fill="none"/>
<path d="M442.75 217.31V204.22M441.65 217.31H443.85M441.65 204.22H443.85" stroke="#6fcdd6" stroke-width="0.6" fill="none"/>
<path d="M460.06 215.68V202.59M458.96 215.68H461.16M458.96 202.59H461.16" stroke="#6fcdd6" stroke-width="0.6" fill="none"/>
<polyline points="298.5,240.71 321.58,239.4 338.89,226.31 361.97,223.04 379.28,221.4 402.36,218.95 419.67,214.86 442.75,210.77 460.06,209.13" fill="none" stroke="#6fcdd6" stroke-width="1.25" stroke-linejoin="round" stroke-linecap="round"/>
<path d="M296.82,240.71 L298.5,239.31 L300.18,240.71 L298.5,242.11 Z" fill="#6fcdd6"/>
<path d="M319.9,239.4 L321.58,238 L323.26,239.4 L321.58,240.8 Z" fill="#6fcdd6"/>
<path d="M337.21,226.31 L338.89,224.91 L340.57,226.31 L338.89,227.71 Z" fill="#6fcdd6"/>
<path d="M360.29,223.04 L361.97,221.64 L363.65,223.04 L361.97,224.44 Z" fill="#6fcdd6"/>
<path d="M377.6,221.4 L379.28,220 L380.96,221.4 L379.28,222.8 Z" fill="#6fcdd6"/>
<path d="M400.68,218.95 L402.36,217.55 L404.04,218.95 L402.36,220.35 Z" fill="#6fcdd6"/>
<path d="M417.99,214.86 L419.67,213.46 L421.35,214.86 L419.67,216.26 Z" fill="#6fcdd6"/>
<path d="M441.07,210.77 L442.75,209.37 L444.43,210.77 L442.75,212.17 Z" fill="#6fcdd6"/>
<path d="M458.38,209.13 L460.06,207.73 L461.74,209.13 L460.06,210.53 Z" fill="#6fcdd6"/>
<path d="M298.5 243.98V237.43M297.4 243.98H299.6M297.4 237.43H299.6" stroke="#2e8079" stroke-width="0.6" fill="none"/>
<path d="M321.58 242.67V236.13M320.48 242.67H322.68M320.48 236.13H322.68" stroke="#2e8079" stroke-width="0.6" fill="none"/>
<path d="M338.89 239.4V226.31M337.79 239.4H339.99M337.79 226.31H339.99" stroke="#2e8079" stroke-width="0.6" fill="none"/>
<path d="M361.97 236.94V223.86M360.87 236.94H363.07M360.87 223.86H363.07" stroke="#2e8079" stroke-width="0.6" fill="none"/>
<path d="M379.28 236.13V223.04M378.18 236.13H380.38M378.18 223.04H380.38" stroke="#2e8079" stroke-width="0.6" fill="none"/>
<path d="M402.36 232.04V218.95M401.26 232.04H403.46M401.26 218.95H403.46" stroke="#2e8079" stroke-width="0.6" fill="none"/>
<path d="M419.67 230.4V217.31M418.57 230.4H420.77M418.57 217.31H420.77" stroke="#2e8079" stroke-width="0.6" fill="none"/>
<path d="M442.75 224.67V211.59M441.65 224.67H443.85M441.65 211.59H443.85" stroke="#2e8079" stroke-width="0.6" fill="none"/>
<path d="M460.06 223.04V209.95M458.96 223.04H461.16M458.96 209.95H461.16" stroke="#2e8079" stroke-width="0.6" fill="none"/>
<polyline points="298.5,240.71 321.58,239.4 338.89,232.85 361.97,230.4 379.28,229.58 402.36,225.49 419.67,223.86 442.75,218.13 460.06,216.49" fill="none" stroke="#2e8079" stroke-width="1.25" stroke-linejoin="round" stroke-linecap="round"/>
<circle cx="298.5" cy="240.71" r="1.4" fill="#fff" fill-opacity="0.6" stroke="#2e8079" stroke-width="0.6"/>
<circle cx="321.58" cy="239.4" r="1.4" fill="#fff" fill-opacity="0.6" stroke="#2e8079" stroke-width="0.6"/>
<circle cx="338.89" cy="232.85" r="1.4" fill="#fff" fill-opacity="0.6" stroke="#2e8079" stroke-width="0.6"/>
<circle cx="361.97" cy="230.4" r="1.4" fill="#fff" fill-opacity="0.6" stroke="#2e8079" stroke-width="0.6"/>
<circle cx="379.28" cy="229.58" r="1.4" fill="#fff" fill-opacity="0.6" stroke="#2e8079" stroke-width="0.6"/>
<circle cx="402.36" cy="225.49" r="1.4" fill="#fff" fill-opacity="0.6" stroke="#2e8079" stroke-width="0.6"/>
<circle cx="419.67" cy="223.86" r="1.4" fill="#fff" fill-opacity="0.6" stroke="#2e8079" stroke-width="0.6"/>
<circle cx="442.75" cy="218.13" r="1.4" fill="#fff" fill-opacity="0.6" stroke="#2e8079" stroke-width="0.6"/>
<circle cx="460.06" cy="216.49" r="1.4" fill="#fff" fill-opacity="0.6" stroke="#2e8079" stroke-width="0.6"/>
<path d="M298.5 244.31V237.76M297.4 244.31H299.6M297.4 237.76H299.6" stroke="#f5b1c8" stroke-width="0.6" fill="none"/>
<path d="M321.58 243.49V236.94M320.48 243.49H322.68M320.48 236.94H322.68" stroke="#f5b1c8" stroke-width="0.6" fill="none"/>
<path d="M338.89 244.31V234.49M337.79 244.31H339.99M337.79 234.49H339.99" stroke="#f5b1c8" stroke-width="0.6" fill="none"/>
<path d="M361.97 245.12V235.31M360.87 245.12H363.07M360.87 235.31H363.07" stroke="#f5b1c8" stroke-width="0.6" fill="none"/>
<path d="M379.28 254.12V244.31M378.18 254.12H380.38M378.18 244.31H380.38" stroke="#f5b1c8" stroke-width="0.6" fill="none"/>
<path d="M402.36 255.76V249.21M401.26 255.76H403.46M401.26 249.21H403.46" stroke="#f5b1c8" stroke-width="0.6" fill="none"/>
<path d="M419.67 257.39V250.85M418.57 257.39H420.77M418.57 250.85H420.77" stroke="#f5b1c8" stroke-width="0.6" fill="none"/>
<path d="M442.75 261.48V254.94M441.65 261.48H443.85M441.65 254.94H443.85" stroke="#f5b1c8" stroke-width="0.6" fill="none"/>
<path d="M460.06 267.21V262.3M458.96 267.21H461.16M458.96 262.3H461.16" stroke="#f5b1c8" stroke-width="0.6" fill="none"/>
<polyline points="298.5,241.03 321.58,240.22 338.89,239.4 361.97,240.22 379.28,249.21 402.36,252.49 419.67,254.12 442.75,258.21 460.06,264.76" fill="none" stroke="#f5b1c8" stroke-width="1.25" stroke-linejoin="round" stroke-linecap="round"/>
<path d="M296.82,241.03 L298.5,239.63 L300.18,241.03 L298.5,242.43 Z" fill="#f5b1c8"/>
<path d="M319.9,240.22 L321.58,238.82 L323.26,240.22 L321.58,241.62 Z" fill="#f5b1c8"/>
<path d="M337.21,239.4 L338.89,238 L340.57,239.4 L338.89,240.8 Z" fill="#f5b1c8"/>
<path d="M360.29,240.22 L361.97,238.82 L363.65,240.22 L361.97,241.62 Z" fill="#f5b1c8"/>
<path d="M377.6,249.21 L379.28,247.81 L380.96,249.21 L379.28,250.61 Z" fill="#f5b1c8"/>
<path d="M400.68,252.49 L402.36,251.09 L404.04,252.49 L402.36,253.89 Z" fill="#f5b1c8"/>
<path d="M417.99,254.12 L419.67,252.72 L421.35,254.12 L419.67,255.52 Z" fill="#f5b1c8"/>
<path d="M441.07,258.21 L442.75,256.81 L444.43,258.21 L442.75,259.61 Z" fill="#f5b1c8"/>
<path d="M458.38,264.76 L460.06,263.36 L461.74,264.76 L460.06,266.16 Z" fill="#f5b1c8"/>
<path d="M298.5 244.31V237.76M297.4 244.31H299.6M297.4 237.76H299.6" stroke="#e67c98" stroke-width="0.6" fill="none"/>
<path d="M321.58 244.31V237.76M320.48 244.31H322.68M320.48 237.76H322.68" stroke="#e67c98" stroke-width="0.6" fill="none"/>
<path d="M338.89 245.12V235.31M337.79 245.12H339.99M337.79 235.31H339.99" stroke="#e67c98" stroke-width="0.6" fill="none"/>
<path d="M361.97 245.94V236.13M360.87 245.94H363.07M360.87 236.13H363.07" stroke="#e67c98" stroke-width="0.6" fill="none"/>
<path d="M379.28 255.76V245.94M378.18 255.76H380.38M378.18 245.94H380.38" stroke="#e67c98" stroke-width="0.6" fill="none"/>
<path d="M402.36 256.58V250.03M401.26 256.58H403.46M401.26 250.03H403.46" stroke="#e67c98" stroke-width="0.6" fill="none"/>
<path d="M419.67 258.21V251.67M418.57 258.21H420.77M418.57 251.67H420.77" stroke="#e67c98" stroke-width="0.6" fill="none"/>
<path d="M442.75 262.3V255.76M441.65 262.3H443.85M441.65 255.76H443.85" stroke="#e67c98" stroke-width="0.6" fill="none"/>
<path d="M460.06 268.03V263.12M458.96 268.03H461.16M458.96 263.12H461.16" stroke="#e67c98" stroke-width="0.6" fill="none"/>
<polyline points="298.5,241.03 321.58,241.03 338.89,240.22 361.97,241.03 379.28,250.85 402.36,253.3 419.67,254.94 442.75,259.03 460.06,265.57" fill="none" stroke="#e67c98" stroke-width="1.3" stroke-linejoin="round" stroke-linecap="round"/>
<circle cx="298.5" cy="241.03" r="1.4" fill="#e67c98" stroke="#e67c98" stroke-width="0.5"/>
<circle cx="321.58" cy="241.03" r="1.4" fill="#e67c98" stroke="#e67c98" stroke-width="0.5"/>
<circle cx="338.89" cy="240.22" r="1.4" fill="#e67c98" stroke="#e67c98" stroke-width="0.5"/>
<circle cx="361.97" cy="241.03" r="1.4" fill="#e67c98" stroke="#e67c98" stroke-width="0.5"/>
<circle cx="379.28" cy="250.85" r="1.4" fill="#e67c98" stroke="#e67c98" stroke-width="0.5"/>
<circle cx="402.36" cy="253.3" r="1.4" fill="#e67c98" stroke="#e67c98" stroke-width="0.5"/>
<circle cx="419.67" cy="254.94" r="1.4" fill="#e67c98" stroke="#e67c98" stroke-width="0.5"/>
<circle cx="442.75" cy="259.03" r="1.4" fill="#e67c98" stroke="#e67c98" stroke-width="0.5"/>
<circle cx="460.06" cy="265.57" r="1.4" fill="#e67c98" stroke="#e67c98" stroke-width="0.5"/>
<path d="M298.5 244.31V237.76M297.4 244.31H299.6M297.4 237.76H299.6" stroke="#b81f48" stroke-width="0.6" fill="none"/>
<path d="M321.58 244.31V237.76M320.48 244.31H322.68M320.48 237.76H322.68" stroke="#b81f48" stroke-width="0.6" fill="none"/>
<path d="M338.89 247.58V237.76M337.79 247.58H339.99M337.79 237.76H339.99" stroke="#b81f48" stroke-width="0.6" fill="none"/>
<path d="M361.97 249.21V239.4M360.87 249.21H363.07M360.87 239.4H363.07" stroke="#b81f48" stroke-width="0.6" fill="none"/>
<path d="M379.28 254.94V248.4M378.18 254.94H380.38M378.18 248.4H380.38" stroke="#b81f48" stroke-width="0.6" fill="none"/>
<path d="M402.36 259.85V253.3M401.26 259.85H403.46M401.26 253.3H403.46" stroke="#b81f48" stroke-width="0.6" fill="none"/>
<path d="M419.67 263.12V258.21M418.57 263.12H420.77M418.57 258.21H420.77" stroke="#b81f48" stroke-width="0.6" fill="none"/>
<path d="M442.75 267.21V263.94M441.65 267.21H443.85M441.65 263.94H443.85" stroke="#b81f48" stroke-width="0.6" fill="none"/>
<path d="M460.06 270.48V267.21M458.96 270.48H461.16M458.96 267.21H461.16" stroke="#b81f48" stroke-width="0.6" fill="none"/>
<polyline points="298.5,241.03 321.58,241.03 338.89,242.67 361.97,244.31 379.28,251.67 402.36,256.58 419.67,260.67 442.75,265.57 460.06,268.85" fill="none" stroke="#b81f48" stroke-width="1.4" stroke-linejoin="round" stroke-linecap="round"/>
<circle cx="298.5" cy="241.03" r="1.4" fill="#b81f48" stroke="#b81f48" stroke-width="0.5"/>
<circle cx="321.58" cy="241.03" r="1.4" fill="#b81f48" stroke="#b81f48" stroke-width="0.5"/>
<circle cx="338.89" cy="242.67" r="1.4" fill="#b81f48" stroke="#b81f48" stroke-width="0.5"/>
<circle cx="361.97" cy="244.31" r="1.4" fill="#b81f48" stroke="#b81f48" stroke-width="0.5"/>
<circle cx="379.28" cy="251.67" r="1.4" fill="#b81f48" stroke="#b81f48" stroke-width="0.5"/>
<circle cx="402.36" cy="256.58" r="1.4" fill="#b81f48" stroke="#b81f48" stroke-width="0.5"/>
<circle cx="419.67" cy="260.67" r="1.4" fill="#b81f48" stroke="#b81f48" stroke-width="0.5"/>
<circle cx="442.75" cy="265.57" r="1.4" fill="#b81f48" stroke="#b81f48" stroke-width="0.5"/>
<circle cx="460.06" cy="268.85" r="1.4" fill="#b81f48" stroke="#b81f48" stroke-width="0.5"/>
<path d="M298.5 244.31V237.76M297.4 244.31H299.6M297.4 237.76H299.6" stroke="#7c1e3a" stroke-width="0.6" fill="none"/>
<path d="M321.58 244.31V237.76M320.48 244.31H322.68M320.48 237.76H322.68" stroke="#7c1e3a" stroke-width="0.6" fill="none"/>
<path d="M338.89 247.58V237.76M337.79 247.58H339.99M337.79 237.76H339.99" stroke="#7c1e3a" stroke-width="0.6" fill="none"/>
<path d="M361.97 250.03V240.22M360.87 250.03H363.07M360.87 240.22H363.07" stroke="#7c1e3a" stroke-width="0.6" fill="none"/>
<path d="M379.28 256.58V250.03M378.18 256.58H380.38M378.18 250.03H380.38" stroke="#7c1e3a" stroke-width="0.6" fill="none"/>
<path d="M402.36 260.67V254.12M401.26 260.67H403.46M401.26 254.12H403.46" stroke="#7c1e3a" stroke-width="0.6" fill="none"/>
<path d="M419.67 263.94V259.03M418.57 263.94H420.77M418.57 259.03H420.77" stroke="#7c1e3a" stroke-width="0.6" fill="none"/>
<path d="M442.75 268.03V264.76M441.65 268.03H443.85M441.65 264.76H443.85" stroke="#7c1e3a" stroke-width="0.6" fill="none"/>
<path d="M460.06 271.3V268.03M458.96 271.3H461.16M458.96 268.03H461.16" stroke="#7c1e3a" stroke-width="0.6" fill="none"/>
<polyline points="298.5,241.03 321.58,241.03 338.89,242.67 361.97,245.12 379.28,253.3 402.36,257.39 419.67,261.48 442.75,266.39 460.06,269.66" fill="none" stroke="#7c1e3a" stroke-width="1.4" stroke-linejoin="round" stroke-linecap="round"/>
<path d="M296.82,241.03 L298.5,239.63 L300.18,241.03 L298.5,242.43 Z" fill="#fff" fill-opacity="0.5" stroke="#7c1e3a" stroke-width="0.6"/>
<path d="M319.9,241.03 L321.58,239.63 L323.26,241.03 L321.58,242.43 Z" fill="#fff" fill-opacity="0.5" stroke="#7c1e3a" stroke-width="0.6"/>
<path d="M337.21,242.67 L338.89,241.27 L340.57,242.67 L338.89,244.07 Z" fill="#fff" fill-opacity="0.5" stroke="#7c1e3a" stroke-width="0.6"/>
<path d="M360.29,245.12 L361.97,243.72 L363.65,245.12 L361.97,246.52 Z" fill="#fff" fill-opacity="0.5" stroke="#7c1e3a" stroke-width="0.6"/>
<path d="M377.6,253.3 L379.28,251.9 L380.96,253.3 L379.28,254.7 Z" fill="#fff" fill-opacity="0.5" stroke="#7c1e3a" stroke-width="0.6"/>
<path d="M400.68,257.39 L402.36,255.99 L404.04,257.39 L402.36,258.79 Z" fill="#fff" fill-opacity="0.5" stroke="#7c1e3a" stroke-width="0.6"/>
<path d="M417.99,261.48 L419.67,260.08 L421.35,261.48 L419.67,262.88 Z" fill="#fff" fill-opacity="0.5" stroke="#7c1e3a" stroke-width="0.6"/>
<path d="M441.07,266.39 L442.75,264.99 L444.43,266.39 L442.75,267.79 Z" fill="#fff" fill-opacity="0.5" stroke="#7c1e3a" stroke-width="0.6"/>
<path d="M458.38,269.66 L460.06,268.26 L461.74,269.66 L460.06,271.06 Z" fill="#fff" fill-opacity="0.5" stroke="#7c1e3a" stroke-width="0.6"/>
<line x1="300.8" y1="125.5" x2="308" y2="125.5" stroke="#111111" stroke-width="1.2" stroke-linecap="butt"/>
<path d="M302.24,125.5 L304.4,123.7 L306.56,125.5 L304.4,127.3 Z" fill="#111111"/>
<text x="310.8" y="127.1" font-size="4.6" text-anchor="start" fill="#111" stroke="#111" stroke-width="0.07">Vehicle</text>
<line x1="300.8" y1="133.4" x2="308" y2="133.4" stroke="#7b7bd8" stroke-width="1.2" stroke-linecap="butt"/>
<path d="M302.24,133.4 L304.4,131.6 L306.56,133.4 L304.4,135.2 Z" fill="#7b7bd8"/>
<text x="310.8" y="135" font-size="4.6" text-anchor="start" fill="#111" stroke="#111" stroke-width="0.07">OP-1250 1 mg/kg</text>
<line x1="300.8" y1="141.3" x2="308" y2="141.3" stroke="#1d1da6" stroke-width="1.2" stroke-linecap="butt"/>
<path d="M302.42,142.74 L306.38,142.74 L304.4,139.32 Z" fill="#1d1da6"/>
<text x="310.8" y="142.9" font-size="4.6" text-anchor="start" fill="#111" stroke="#111" stroke-width="0.07">OP-1250 10 mg/kg</text>
<line x1="300.8" y1="149.2" x2="308" y2="149.2" stroke="#6fcdd6" stroke-width="1.2" stroke-linecap="butt"/>
<path d="M302.24,149.2 L304.4,147.4 L306.56,149.2 L304.4,151 Z" fill="#6fcdd6"/>
<text x="310.8" y="150.8" font-size="4.6" text-anchor="start" fill="#111" stroke="#111" stroke-width="0.07">Ribociclib 25 mg/kg</text>
<line x1="300.8" y1="157.1" x2="308" y2="157.1" stroke="#2e8079" stroke-width="1.2" stroke-linecap="butt"/>
<path d="M302.24,157.1 L304.4,155.3 L306.56,157.1 L304.4,158.9 Z" fill="#2e8079"/>
<text x="310.8" y="158.7" font-size="4.6" text-anchor="start" fill="#111" stroke="#111" stroke-width="0.07">Ribociclib 75 mg/kg</text>
<line x1="300.8" y1="165" x2="308" y2="165" stroke="#f5b1c8" stroke-width="1.2" stroke-linecap="butt"/>
<path d="M302.24,165 L304.4,163.2 L306.56,165 L304.4,166.8 Z" fill="#f5b1c8"/>
<text x="310.8" y="166.6" font-size="4.6" text-anchor="start" fill="#111" stroke="#111" stroke-width="0.07">OP-1250 1 mg/kg + Ribociclib 25 mg/kg</text>
<line x1="300.8" y1="172.9" x2="308" y2="172.9" stroke="#e67c98" stroke-width="1.2" stroke-linecap="butt"/>
<path d="M302.24,172.9 L304.4,171.1 L306.56,172.9 L304.4,174.7 Z" fill="#e67c98"/>
<text x="310.8" y="174.5" font-size="4.6" text-anchor="start" fill="#111" stroke="#111" stroke-width="0.07">OP-1250 1 mg/kg + Ribociclib 75 mg/kg</text>
<line x1="300.8" y1="180.8" x2="308" y2="180.8" stroke="#b81f48" stroke-width="1.2" stroke-linecap="butt"/>
<path d="M302.24,180.8 L304.4,179 L306.56,180.8 L304.4,182.6 Z" fill="#b81f48"/>
<text x="310.8" y="182.4" font-size="4.6" text-anchor="start" fill="#111" stroke="#111" stroke-width="0.07">OP-1250 10 mg/kg + Ribociclib 25 mg/kg</text>
<line x1="300.8" y1="188.7" x2="308" y2="188.7" stroke="#7c1e3a" stroke-width="1.2" stroke-linecap="butt"/>
<path d="M302.24,188.7 L304.4,186.9 L306.56,188.7 L304.4,190.5 Z" fill="#7c1e3a"/>
<text x="310.8" y="190.3" font-size="4.6" text-anchor="start" fill="#111" stroke="#111" stroke-width="0.07">OP-1250 10 mg/kg + Ribociclib 75 mg/kg</text>
<text x="380.3" y="120.2" font-size="9" text-anchor="middle" fill="#111" font-weight="bold">MCF7</text>
<line x1="47.4" y1="460.5" x2="47.4" y2="611.4" stroke="#3a3a3a" stroke-width="0.9" stroke-linecap="butt"/>
<line x1="46.95" y1="611.4" x2="222.6" y2="611.4" stroke="#3a3a3a" stroke-width="0.9" stroke-linecap="butt"/>
<line x1="45.6" y1="611.4" x2="47.4" y2="611.4" stroke="#3a3a3a" stroke-width="0.6" stroke-linecap="butt"/>
<text x="44.9" y="612.9" font-size="4.8" text-anchor="end" fill="#222" stroke="#222" stroke-width="0.07">0</text>
<line x1="45.6" y1="602.04" x2="47.4" y2="602.04" stroke="#3a3a3a" stroke-width="0.6" stroke-linecap="butt"/>
<text x="44.9" y="603.54" font-size="4.8" text-anchor="end" fill="#222" stroke="#222" stroke-width="0.07">250</text>
<line x1="45.6" y1="592.67" x2="47.4" y2="592.67" stroke="#3a3a3a" stroke-width="0.6" stroke-linecap="butt"/>
<text x="44.9" y="594.17" font-size="4.8" text-anchor="end" fill="#222" stroke="#222" stroke-width="0.07">500</text>
<line x1="45.6" y1="583.31" x2="47.4" y2="583.31" stroke="#3a3a3a" stroke-width="0.6" stroke-linecap="butt"/>
<text x="44.9" y="584.81" font-size="4.8" text-anchor="end" fill="#222" stroke="#222" stroke-width="0.07">750</text>
<line x1="45.6" y1="573.95" x2="47.4" y2="573.95" stroke="#3a3a3a" stroke-width="0.6" stroke-linecap="butt"/>
<text x="44.9" y="575.45" font-size="4.8" text-anchor="end" fill="#222" stroke="#222" stroke-width="0.07">1,000</text>
<line x1="45.6" y1="564.59" x2="47.4" y2="564.59" stroke="#3a3a3a" stroke-width="0.6" stroke-linecap="butt"/>
<text x="44.9" y="566.09" font-size="4.8" text-anchor="end" fill="#222" stroke="#222" stroke-width="0.07">1,250</text>
<line x1="45.6" y1="555.23" x2="47.4" y2="555.23" stroke="#3a3a3a" stroke-width="0.6" stroke-linecap="butt"/>
<text x="44.9" y="556.73" font-size="4.8" text-anchor="end" fill="#222" stroke="#222" stroke-width="0.07">1,500</text>
<line x1="45.6" y1="545.86" x2="47.4" y2="545.86" stroke="#3a3a3a" stroke-width="0.6" stroke-linecap="butt"/>
<text x="44.9" y="547.36" font-size="4.8" text-anchor="end" fill="#222" stroke="#222" stroke-width="0.07">1,750</text>
<line x1="45.6" y1="536.5" x2="47.4" y2="536.5" stroke="#3a3a3a" stroke-width="0.6" stroke-linecap="butt"/>
<text x="44.9" y="538" font-size="4.8" text-anchor="end" fill="#222" stroke="#222" stroke-width="0.07">2,000</text>
<line x1="45.6" y1="527.14" x2="47.4" y2="527.14" stroke="#3a3a3a" stroke-width="0.6" stroke-linecap="butt"/>
<text x="44.9" y="528.64" font-size="4.8" text-anchor="end" fill="#222" stroke="#222" stroke-width="0.07">2,250</text>
<line x1="45.6" y1="517.77" x2="47.4" y2="517.77" stroke="#3a3a3a" stroke-width="0.6" stroke-linecap="butt"/>
<text x="44.9" y="519.27" font-size="4.8" text-anchor="end" fill="#222" stroke="#222" stroke-width="0.07">2,500</text>
<line x1="45.6" y1="508.41" x2="47.4" y2="508.41" stroke="#3a3a3a" stroke-width="0.6" stroke-linecap="butt"/>
<text x="44.9" y="509.91" font-size="4.8" text-anchor="end" fill="#222" stroke="#222" stroke-width="0.07">2,750</text>
<line x1="45.6" y1="499.05" x2="47.4" y2="499.05" stroke="#3a3a3a" stroke-width="0.6" stroke-linecap="butt"/>
<text x="44.9" y="500.55" font-size="4.8" text-anchor="end" fill="#222" stroke="#222" stroke-width="0.07">3,000</text>
<line x1="45.6" y1="489.69" x2="47.4" y2="489.69" stroke="#3a3a3a" stroke-width="0.6" stroke-linecap="butt"/>
<text x="44.9" y="491.19" font-size="4.8" text-anchor="end" fill="#222" stroke="#222" stroke-width="0.07">3,250</text>
<line x1="45.6" y1="480.32" x2="47.4" y2="480.32" stroke="#3a3a3a" stroke-width="0.6" stroke-linecap="butt"/>
<text x="44.9" y="481.82" font-size="4.8" text-anchor="end" fill="#222" stroke="#222" stroke-width="0.07">3,500</text>
<line x1="45.6" y1="470.96" x2="47.4" y2="470.96" stroke="#3a3a3a" stroke-width="0.6" stroke-linecap="butt"/>
<text x="44.9" y="472.46" font-size="4.8" text-anchor="end" fill="#222" stroke="#222" stroke-width="0.07">3,750</text>
<line x1="45.6" y1="461.6" x2="47.4" y2="461.6" stroke="#3a3a3a" stroke-width="0.6" stroke-linecap="butt"/>
<text x="44.9" y="463.1" font-size="4.8" text-anchor="end" fill="#222" stroke="#222" stroke-width="0.07">4,000</text>
<line x1="52.8" y1="611.4" x2="52.8" y2="613.2" stroke="#3a3a3a" stroke-width="0.6" stroke-linecap="butt"/>
<text x="52.8" y="617.2" font-size="4.3" text-anchor="middle" fill="#222" stroke="#222" stroke-width="0.07">1</text>
<line x1="75.88" y1="611.4" x2="75.88" y2="613.2" stroke="#3a3a3a" stroke-width="0.6" stroke-linecap="butt"/>
<text x="75.88" y="617.2" font-size="4.3" text-anchor="middle" fill="#222" stroke="#222" stroke-width="0.07">5</text>
<line x1="93.19" y1="611.4" x2="93.19" y2="613.2" stroke="#3a3a3a" stroke-width="0.6" stroke-linecap="butt"/>
<text x="93.19" y="617.2" font-size="4.3" text-anchor="middle" fill="#222" stroke="#222" stroke-width="0.07">8</text>
<line x1="116.27" y1="611.4" x2="116.27" y2="613.2" stroke="#3a3a3a" stroke-width="0.6" stroke-linecap="butt"/>
<text x="116.27" y="617.2" font-size="4.3" text-anchor="middle" fill="#222" stroke="#222" stroke-width="0.07">12</text>
<line x1="133.58" y1="611.4" x2="133.58" y2="613.2" stroke="#3a3a3a" stroke-width="0.6" stroke-linecap="butt"/>
<text x="133.58" y="617.2" font-size="4.3" text-anchor="middle" fill="#222" stroke="#222" stroke-width="0.07">15</text>
<line x1="156.66" y1="611.4" x2="156.66" y2="613.2" stroke="#3a3a3a" stroke-width="0.6" stroke-linecap="butt"/>
<text x="156.66" y="617.2" font-size="4.3" text-anchor="middle" fill="#222" stroke="#222" stroke-width="0.07">19</text>
<line x1="173.97" y1="611.4" x2="173.97" y2="613.2" stroke="#3a3a3a" stroke-width="0.6" stroke-linecap="butt"/>
<text x="173.97" y="617.2" font-size="4.3" text-anchor="middle" fill="#222" stroke="#222" stroke-width="0.07">22</text>
<line x1="197.05" y1="611.4" x2="197.05" y2="613.2" stroke="#3a3a3a" stroke-width="0.6" stroke-linecap="butt"/>
<text x="197.05" y="617.2" font-size="4.3" text-anchor="middle" fill="#222" stroke="#222" stroke-width="0.07">26</text>
<line x1="214.36" y1="611.4" x2="214.36" y2="613.2" stroke="#3a3a3a" stroke-width="0.6" stroke-linecap="butt"/>
<text x="214.36" y="617.2" font-size="4.3" text-anchor="middle" fill="#222" stroke="#222" stroke-width="0.07">29</text>
<text x="134.9" y="622.5" font-size="4.5" text-anchor="middle" fill="#333" stroke="#333" stroke-width="0.07">Day</text>
<text x="29.5" y="532.5" font-size="4.4" text-anchor="middle" fill="#333" transform="rotate(-90 29.5 532.5)">Tumor volume (mm<tspan dy="-1.5" font-size="3">3</tspan><tspan dy="1.5">)</tspan></text>
<line x1="52" y1="604.66" x2="221" y2="604.66" stroke="#333" stroke-width="0.7" stroke-dasharray="1.6,1.2" stroke-linecap="butt"/>
<path d="M52.8 605.78V603.54M51.7 605.78H53.9M51.7 603.54H53.9" stroke="#b81f48" stroke-width="0.6" fill="none"/>
<path d="M75.88 605.03V602.79M74.78 605.03H76.98M74.78 602.79H76.98" stroke="#b81f48" stroke-width="0.6" fill="none"/>
<path d="M93.19 605.41V603.16M92.09 605.41H94.29M92.09 603.16H94.29" stroke="#b81f48" stroke-width="0.6" fill="none"/>
<path d="M116.27 605.6V603.35M115.17 605.6H117.37M115.17 603.35H117.37" stroke="#b81f48" stroke-width="0.6" fill="none"/>
<path d="M133.58 605.6V603.35M132.48 605.6H134.68M132.48 603.35H134.68" stroke="#b81f48" stroke-width="0.6" fill="none"/>
<path d="M156.66 605.78V603.54M155.56 605.78H157.76M155.56 603.54H157.76" stroke="#b81f48" stroke-width="0.6" fill="none"/>
<path d="M173.97 605.97V603.72M172.87 605.97H175.07M172.87 603.72H175.07" stroke="#b81f48" stroke-width="0.6" fill="none"/>
<path d="M197.05 606.16V603.91M195.95 606.16H198.15M195.95 603.91H198.15" stroke="#b81f48" stroke-width="0.6" fill="none"/>
<path d="M214.36 606.16V603.91M213.26 606.16H215.46M213.26 603.91H215.46" stroke="#b81f48" stroke-width="0.6" fill="none"/>
<polyline points="52.8,604.66 75.88,603.91 93.19,604.28 116.27,604.47 133.58,604.47 156.66,604.66 173.97,604.85 197.05,605.03 214.36,605.03" fill="none" stroke="#b81f48" stroke-width="1.4" stroke-linejoin="round" stroke-linecap="round"/>
<circle cx="52.8" cy="604.66" r="1.4" fill="#b81f48" stroke="#b81f48" stroke-width="0.5"/>
<circle cx="75.88" cy="603.91" r="1.4" fill="#b81f48" stroke="#b81f48" stroke-width="0.5"/>
<circle cx="93.19" cy="604.28" r="1.4" fill="#b81f48" stroke="#b81f48" stroke-width="0.5"/>
<circle cx="116.27" cy="604.47" r="1.4" fill="#b81f48" stroke="#b81f48" stroke-width="0.5"/>
<circle cx="133.58" cy="604.47" r="1.4" fill="#b81f48" stroke="#b81f48" stroke-width="0.5"/>
<circle cx="156.66" cy="604.66" r="1.4" fill="#b81f48" stroke="#b81f48" stroke-width="0.5"/>
<circle cx="173.97" cy="604.85" r="1.4" fill="#b81f48" stroke="#b81f48" stroke-width="0.5"/>
<circle cx="197.05" cy="605.03" r="1.4" fill="#b81f48" stroke="#b81f48" stroke-width="0.5"/>
<circle cx="214.36" cy="605.03" r="1.4" fill="#b81f48" stroke="#b81f48" stroke-width="0.5"/>
<path d="M52.8 605.78V603.54M51.7 605.78H53.9M51.7 603.54H53.9" stroke="#7c1e3a" stroke-width="0.6" fill="none"/>
<path d="M75.88 605.03V602.79M74.78 605.03H76.98M74.78 602.79H76.98" stroke="#7c1e3a" stroke-width="0.6" fill="none"/>
<path d="M93.19 605.52V603.27M92.09 605.52H94.29M92.09 603.27H94.29" stroke="#7c1e3a" stroke-width="0.6" fill="none"/>
<path d="M116.27 605.52V603.27M115.17 605.52H117.37M115.17 603.27H117.37" stroke="#7c1e3a" stroke-width="0.6" fill="none"/>
<path d="M133.58 605.52V603.27M132.48 605.52H134.68M132.48 603.27H134.68" stroke="#7c1e3a" stroke-width="0.6" fill="none"/>
<path d="M156.66 605.78V603.54M155.56 605.78H157.76M155.56 603.54H157.76" stroke="#7c1e3a" stroke-width="0.6" fill="none"/>
<path d="M173.97 605.97V603.72M172.87 605.97H175.07M172.87 603.72H175.07" stroke="#7c1e3a" stroke-width="0.6" fill="none"/>
<path d="M197.05 606.16V603.91M195.95 606.16H198.15M195.95 603.91H198.15" stroke="#7c1e3a" stroke-width="0.6" fill="none"/>
<path d="M214.36 606.34V604.1M213.26 606.34H215.46M213.26 604.1H215.46" stroke="#7c1e3a" stroke-width="0.6" fill="none"/>
<polyline points="52.8,604.66 75.88,603.91 93.19,604.4 116.27,604.4 133.58,604.4 156.66,604.66 173.97,604.85 197.05,605.03 214.36,605.22" fill="none" stroke="#7c1e3a" stroke-width="1.4" stroke-linejoin="round" stroke-linecap="round"/>
<path d="M51.12,604.66 L52.8,603.26 L54.48,604.66 L52.8,606.06 Z" fill="#fff" fill-opacity="0.5" stroke="#7c1e3a" stroke-width="0.6"/>
<path d="M74.2,603.91 L75.88,602.51 L77.56,603.91 L75.88,605.31 Z" fill="#fff" fill-opacity="0.5" stroke="#7c1e3a" stroke-width="0.6"/>
<path d="M91.51,604.4 L93.19,603 L94.87,604.4 L93.19,605.8 Z" fill="#fff" fill-opacity="0.5" stroke="#7c1e3a" stroke-width="0.6"/>
<path d="M114.59,604.4 L116.27,603 L117.95,604.4 L116.27,605.8 Z" fill="#fff" fill-opacity="0.5" stroke="#7c1e3a" stroke-width="0.6"/>
<path d="M131.9,604.4 L133.58,603 L135.26,604.4 L133.58,605.8 Z" fill="#fff" fill-opacity="0.5" stroke="#7c1e3a" stroke-width="0.6"/>
<path d="M154.98,604.66 L156.66,603.26 L158.34,604.66 L156.66,606.06 Z" fill="#fff" fill-opacity="0.5" stroke="#7c1e3a" stroke-width="0.6"/>
<path d="M172.29,604.85 L173.97,603.45 L175.65,604.85 L173.97,606.25 Z" fill="#fff" fill-opacity="0.5" stroke="#7c1e3a" stroke-width="0.6"/>
<path d="M195.37,605.03 L197.05,603.63 L198.73,605.03 L197.05,606.43 Z" fill="#fff" fill-opacity="0.5" stroke="#7c1e3a" stroke-width="0.6"/>
<path d="M212.68,605.22 L214.36,603.82 L216.04,605.22 L214.36,606.62 Z" fill="#fff" fill-opacity="0.5" stroke="#7c1e3a" stroke-width="0.6"/>
<path d="M52.8 605.78V603.54M51.7 605.78H53.9M51.7 603.54H53.9" stroke="#1d1da6" stroke-width="0.6" fill="none"/>
<path d="M75.88 604.13V601.89M74.78 604.13H76.98M74.78 601.89H76.98" stroke="#1d1da6" stroke-width="0.6" fill="none"/>
<path d="M93.19 603.84V601.59M92.09 603.84H94.29M92.09 601.59H94.29" stroke="#1d1da6" stroke-width="0.6" fill="none"/>
<path d="M116.27 603.84V601.59M115.17 603.84H117.37M115.17 601.59H117.37" stroke="#1d1da6" stroke-width="0.6" fill="none"/>
<path d="M133.58 603.84V601.59M132.48 603.84H134.68M132.48 601.59H134.68" stroke="#1d1da6" stroke-width="0.6" fill="none"/>
<path d="M156.66 604.47V602.22M155.56 604.47H157.76M155.56 602.22H157.76" stroke="#1d1da6" stroke-width="0.6" fill="none"/>
<path d="M173.97 604.85V602.6M172.87 604.85H175.07M172.87 602.6H175.07" stroke="#1d1da6" stroke-width="0.6" fill="none"/>
<path d="M197.05 605.22V602.97M195.95 605.22H198.15M195.95 602.97H198.15" stroke="#1d1da6" stroke-width="0.6" fill="none"/>
<path d="M214.36 605.41V603.16M213.26 605.41H215.46M213.26 603.16H215.46" stroke="#1d1da6" stroke-width="0.6" fill="none"/>
<polyline points="52.8,604.66 75.88,603.01 93.19,602.71 116.27,602.71 133.58,602.71 156.66,603.35 173.97,603.72 197.05,604.1 214.36,604.28" fill="none" stroke="#1d1da6" stroke-width="1.35" stroke-linejoin="round" stroke-linecap="round"/>
<path d="M51.26,605.78 L54.34,605.78 L52.8,603.12 Z" fill="#1d1da6"/>
<path d="M74.34,604.13 L77.42,604.13 L75.88,601.47 Z" fill="#1d1da6"/>
<path d="M91.65,603.83 L94.73,603.83 L93.19,601.17 Z" fill="#1d1da6"/>
<path d="M114.73,603.83 L117.81,603.83 L116.27,601.17 Z" fill="#1d1da6"/>
<path d="M132.04,603.83 L135.12,603.83 L133.58,601.17 Z" fill="#1d1da6"/>
<path d="M155.12,604.47 L158.2,604.47 L156.66,601.81 Z" fill="#1d1da6"/>
<path d="M172.43,604.84 L175.51,604.84 L173.97,602.18 Z" fill="#1d1da6"/>
<path d="M195.51,605.22 L198.59,605.22 L197.05,602.56 Z" fill="#1d1da6"/>
<path d="M212.82,605.4 L215.9,605.4 L214.36,602.74 Z" fill="#1d1da6"/>
<path d="M52.8 605.78V603.54M51.7 605.78H53.9M51.7 603.54H53.9" stroke="#e67c98" stroke-width="0.6" fill="none"/>
<path d="M75.88 601.93V599.68M74.78 601.93H76.98M74.78 599.68H76.98" stroke="#e67c98" stroke-width="0.6" fill="none"/>
<path d="M93.19 600.69V597.69M92.09 600.69H94.29M92.09 597.69H94.29" stroke="#e67c98" stroke-width="0.6" fill="none"/>
<path d="M116.27 600.69V597.69M115.17 600.69H117.37M115.17 597.69H117.37" stroke="#e67c98" stroke-width="0.6" fill="none"/>
<path d="M133.58 601.29V598.29M132.48 601.29H134.68M132.48 598.29H134.68" stroke="#e67c98" stroke-width="0.6" fill="none"/>
<path d="M156.66 602.41V599.42M155.56 602.41H157.76M155.56 599.42H157.76" stroke="#e67c98" stroke-width="0.6" fill="none"/>
<path d="M173.97 602.79V599.79M172.87 602.79H175.07M172.87 599.79H175.07" stroke="#e67c98" stroke-width="0.6" fill="none"/>
<path d="M197.05 603.54V600.54M195.95 603.54H198.15M195.95 600.54H198.15" stroke="#e67c98" stroke-width="0.6" fill="none"/>
<path d="M214.36 603.91V600.91M213.26 603.91H215.46M213.26 600.91H215.46" stroke="#e67c98" stroke-width="0.6" fill="none"/>
<polyline points="52.8,604.66 75.88,600.8 93.19,599.19 116.27,599.19 133.58,599.79 156.66,600.91 173.97,601.29 197.05,602.04 214.36,602.41" fill="none" stroke="#e67c98" stroke-width="1.3" stroke-linejoin="round" stroke-linecap="round"/>
<circle cx="52.8" cy="604.66" r="1.4" fill="#e67c98" stroke="#e67c98" stroke-width="0.5"/>
<circle cx="75.88" cy="600.8" r="1.4" fill="#e67c98" stroke="#e67c98" stroke-width="0.5"/>
<circle cx="93.19" cy="599.19" r="1.4" fill="#e67c98" stroke="#e67c98" stroke-width="0.5"/>
<circle cx="116.27" cy="599.19" r="1.4" fill="#e67c98" stroke="#e67c98" stroke-width="0.5"/>
<circle cx="133.58" cy="599.79" r="1.4" fill="#e67c98" stroke="#e67c98" stroke-width="0.5"/>
<circle cx="156.66" cy="600.91" r="1.4" fill="#e67c98" stroke="#e67c98" stroke-width="0.5"/>
<circle cx="173.97" cy="601.29" r="1.4" fill="#e67c98" stroke="#e67c98" stroke-width="0.5"/>
<circle cx="197.05" cy="602.04" r="1.4" fill="#e67c98" stroke="#e67c98" stroke-width="0.5"/>
<circle cx="214.36" cy="602.41" r="1.4" fill="#e67c98" stroke="#e67c98" stroke-width="0.5"/>
<path d="M52.8 605.78V603.54M51.7 605.78H53.9M51.7 603.54H53.9" stroke="#f5b1c8" stroke-width="0.6" fill="none"/>
<path d="M75.88 602.3V599.3M74.78 602.3H76.98M74.78 599.3H76.98" stroke="#f5b1c8" stroke-width="0.6" fill="none"/>
<path d="M93.19 595.67V591.18M92.09 595.67H94.29M92.09 591.18H94.29" stroke="#f5b1c8" stroke-width="0.6" fill="none"/>
<path d="M116.27 593.61V587.62M115.17 593.61H117.37M115.17 587.62H117.37" stroke="#f5b1c8" stroke-width="0.6" fill="none"/>
<path d="M133.58 590.69V584.7M132.48 590.69H134.68M132.48 584.7H134.68" stroke="#f5b1c8" stroke-width="0.6" fill="none"/>
<path d="M156.66 591.18V579.94M155.56 591.18H157.76M155.56 579.94H157.76" stroke="#f5b1c8" stroke-width="0.6" fill="none"/>
<path d="M173.97 590.05V578.82M172.87 590.05H175.07M172.87 578.82H175.07" stroke="#f5b1c8" stroke-width="0.6" fill="none"/>
<path d="M197.05 588.18V576.95M195.95 588.18H198.15M195.95 576.95H198.15" stroke="#f5b1c8" stroke-width="0.6" fill="none"/>
<path d="M214.36 585.56V570.58M213.26 585.56H215.46M213.26 570.58H215.46" stroke="#f5b1c8" stroke-width="0.6" fill="none"/>
<polyline points="52.8,604.66 75.88,600.8 93.19,593.42 116.27,590.62 133.58,587.69 156.66,585.56 173.97,584.44 197.05,582.56 214.36,578.07" fill="none" stroke="#f5b1c8" stroke-width="1.25" stroke-linejoin="round" stroke-linecap="round"/>
<path d="M51.12,604.66 L52.8,603.26 L54.48,604.66 L52.8,606.06 Z" fill="#f5b1c8"/>
<path d="M74.2,600.8 L75.88,599.4 L77.56,600.8 L75.88,602.2 Z" fill="#f5b1c8"/>
<path d="M91.51,593.42 L93.19,592.02 L94.87,593.42 L93.19,594.82 Z" fill="#f5b1c8"/>
<path d="M114.59,590.62 L116.27,589.22 L117.95,590.62 L116.27,592.02 Z" fill="#f5b1c8"/>
<path d="M131.9,587.69 L133.58,586.29 L135.26,587.69 L133.58,589.09 Z" fill="#f5b1c8"/>
<path d="M154.98,585.56 L156.66,584.16 L158.34,585.56 L156.66,586.96 Z" fill="#f5b1c8"/>
<path d="M172.29,584.44 L173.97,583.04 L175.65,584.44 L173.97,585.84 Z" fill="#f5b1c8"/>
<path d="M195.37,582.56 L197.05,581.16 L198.73,582.56 L197.05,583.96 Z" fill="#f5b1c8"/>
<path d="M212.68,578.07 L214.36,576.67 L216.04,578.07 L214.36,579.47 Z" fill="#f5b1c8"/>
<path d="M52.8 605.78V603.54M51.7 605.78H53.9M51.7 603.54H53.9" stroke="#2e8079" stroke-width="0.6" fill="none"/>
<path d="M75.88 598.48V594.73M74.78 598.48H76.98M74.78 594.73H76.98" stroke="#2e8079" stroke-width="0.6" fill="none"/>
<path d="M93.19 595.67V591.18M92.09 595.67H94.29M92.09 591.18H94.29" stroke="#2e8079" stroke-width="0.6" fill="none"/>
<path d="M116.27 592.86V588.37M115.17 592.86H117.37M115.17 588.37H117.37" stroke="#2e8079" stroke-width="0.6" fill="none"/>
<path d="M133.58 595.15V590.65M132.48 595.15H134.68M132.48 590.65H134.68" stroke="#2e8079" stroke-width="0.6" fill="none"/>
<path d="M156.66 596.05V591.55M155.56 596.05H157.76M155.56 591.55H157.76" stroke="#2e8079" stroke-width="0.6" fill="none"/>
<path d="M173.97 595.67V591.18M172.87 595.67H175.07M172.87 591.18H175.07" stroke="#2e8079" stroke-width="0.6" fill="none"/>
<path d="M197.05 597.17V592.67M195.95 597.17H198.15M195.95 592.67H198.15" stroke="#2e8079" stroke-width="0.6" fill="none"/>
<path d="M214.36 596.42V591.93M213.26 596.42H215.46M213.26 591.93H215.46" stroke="#2e8079" stroke-width="0.6" fill="none"/>
<polyline points="52.8,604.66 75.88,596.61 93.19,593.42 116.27,590.62 133.58,592.9 156.66,593.8 173.97,593.42 197.05,594.92 214.36,594.17" fill="none" stroke="#2e8079" stroke-width="1.25" stroke-linejoin="round" stroke-linecap="round"/>
<circle cx="52.8" cy="604.66" r="1.4" fill="#fff" fill-opacity="0.6" stroke="#2e8079" stroke-width="0.6"/>
<circle cx="75.88" cy="596.61" r="1.4" fill="#fff" fill-opacity="0.6" stroke="#2e8079" stroke-width="0.6"/>
<circle cx="93.19" cy="593.42" r="1.4" fill="#fff" fill-opacity="0.6" stroke="#2e8079" stroke-width="0.6"/>
<circle cx="116.27" cy="590.62" r="1.4" fill="#fff" fill-opacity="0.6" stroke="#2e8079" stroke-width="0.6"/>
<circle cx="133.58" cy="592.9" r="1.4" fill="#fff" fill-opacity="0.6" stroke="#2e8079" stroke-width="0.6"/>
<circle cx="156.66" cy="593.8" r="1.4" fill="#fff" fill-opacity="0.6" stroke="#2e8079" stroke-width="0.6"/>
<circle cx="173.97" cy="593.42" r="1.4" fill="#fff" fill-opacity="0.6" stroke="#2e8079" stroke-width="0.6"/>
<circle cx="197.05" cy="594.92" r="1.4" fill="#fff" fill-opacity="0.6" stroke="#2e8079" stroke-width="0.6"/>
<circle cx="214.36" cy="594.17" r="1.4" fill="#fff" fill-opacity="0.6" stroke="#2e8079" stroke-width="0.6"/>
<path d="M52.8 605.78V603.54M51.7 605.78H53.9M51.7 603.54H53.9" stroke="#111111" stroke-width="0.6" fill="none"/>
<path d="M75.88 599.42V593.42M74.78 599.42H76.98M74.78 593.42H76.98" stroke="#111111" stroke-width="0.6" fill="none"/>
<path d="M93.19 589.3V581.81M92.09 589.3H94.29M92.09 581.81H94.29" stroke="#111111" stroke-width="0.6" fill="none"/>
<path d="M116.27 582.34V568.86M115.17 582.34H117.37M115.17 568.86H117.37" stroke="#111111" stroke-width="0.6" fill="none"/>
<path d="M133.58 569.46V552.98M132.48 569.46H134.68M132.48 552.98H134.68" stroke="#111111" stroke-width="0.6" fill="none"/>
<path d="M156.66 573.58V558.6M155.56 573.58H157.76M155.56 558.6H157.76" stroke="#111111" stroke-width="0.6" fill="none"/>
<path d="M173.97 568.33V553.35M172.87 568.33H175.07M172.87 553.35H175.07" stroke="#111111" stroke-width="0.6" fill="none"/>
<path d="M197.05 553.35V534.63M195.95 553.35H198.15M195.95 534.63H198.15" stroke="#111111" stroke-width="0.6" fill="none"/>
<path d="M214.36 562.72V538.75M213.26 562.72H215.46M213.26 538.75H215.46" stroke="#111111" stroke-width="0.6" fill="none"/>
<polyline points="52.8,604.66 75.88,596.42 93.19,585.56 116.27,575.6 133.58,561.22 156.66,566.09 173.97,560.84 197.05,543.99 214.36,550.73" fill="none" stroke="#111111" stroke-width="1.5" stroke-linejoin="round" stroke-linecap="round"/>
<circle cx="52.8" cy="604.66" r="1.4" fill="#fff" fill-opacity="0.6" stroke="#111111" stroke-width="0.6"/>
<circle cx="75.88" cy="596.42" r="1.4" fill="#fff" fill-opacity="0.6" stroke="#111111" stroke-width="0.6"/>
<circle cx="93.19" cy="585.56" r="1.4" fill="#fff" fill-opacity="0.6" stroke="#111111" stroke-width="0.6"/>
<circle cx="116.27" cy="575.6" r="1.4" fill="#fff" fill-opacity="0.6" stroke="#111111" stroke-width="0.6"/>
<circle cx="133.58" cy="561.22" r="1.4" fill="#fff" fill-opacity="0.6" stroke="#111111" stroke-width="0.6"/>
<circle cx="156.66" cy="566.09" r="1.4" fill="#fff" fill-opacity="0.6" stroke="#111111" stroke-width="0.6"/>
<circle cx="173.97" cy="560.84" r="1.4" fill="#fff" fill-opacity="0.6" stroke="#111111" stroke-width="0.6"/>
<circle cx="197.05" cy="543.99" r="1.4" fill="#fff" fill-opacity="0.6" stroke="#111111" stroke-width="0.6"/>
<circle cx="214.36" cy="550.73" r="1.4" fill="#fff" fill-opacity="0.6" stroke="#111111" stroke-width="0.6"/>
<path d="M52.8 605.78V603.54M51.7 605.78H53.9M51.7 603.54H53.9" stroke="#6fcdd6" stroke-width="0.6" fill="none"/>
<path d="M75.88 599.19V593.2M74.78 599.19H76.98M74.78 593.2H76.98" stroke="#6fcdd6" stroke-width="0.6" fill="none"/>
<path d="M93.19 589.15V581.66M92.09 589.15H94.29M92.09 581.66H94.29" stroke="#6fcdd6" stroke-width="0.6" fill="none"/>
<path d="M116.27 578.44V559.72M115.17 578.44H117.37M115.17 559.72H117.37" stroke="#6fcdd6" stroke-width="0.6" fill="none"/>
<path d="M133.58 575.07V566.09M132.48 575.07H134.68M132.48 566.09H134.68" stroke="#6fcdd6" stroke-width="0.6" fill="none"/>
<path d="M156.66 564.21V555.23M155.56 564.21H157.76M155.56 555.23H157.76" stroke="#6fcdd6" stroke-width="0.6" fill="none"/>
<path d="M173.97 559.34V548.11M172.87 559.34H175.07M172.87 548.11H175.07" stroke="#6fcdd6" stroke-width="0.6" fill="none"/>
<path d="M197.05 555.6V540.62M195.95 555.6H198.15M195.95 540.62H198.15" stroke="#6fcdd6" stroke-width="0.6" fill="none"/>
<path d="M214.36 557.47V538.75M213.26 557.47H215.46M213.26 538.75H215.46" stroke="#6fcdd6" stroke-width="0.6" fill="none"/>
<polyline points="52.8,604.66 75.88,596.2 93.19,585.41 116.27,569.08 133.58,570.58 156.66,559.72 173.97,553.73 197.05,548.11 214.36,548.11" fill="none" stroke="#6fcdd6" stroke-width="1.25" stroke-linejoin="round" stroke-linecap="round"/>
<path d="M51.12,604.66 L52.8,603.26 L54.48,604.66 L52.8,606.06 Z" fill="#6fcdd6"/>
<path d="M74.2,596.2 L75.88,594.8 L77.56,596.2 L75.88,597.6 Z" fill="#6fcdd6"/>
<path d="M91.51,585.41 L93.19,584.01 L94.87,585.41 L93.19,586.81 Z" fill="#6fcdd6"/>
<path d="M114.59,569.08 L116.27,567.68 L117.95,569.08 L116.27,570.48 Z" fill="#6fcdd6"/>
<path d="M131.9,570.58 L133.58,569.18 L135.26,570.58 L133.58,571.98 Z" fill="#6fcdd6"/>
<path d="M154.98,559.72 L156.66,558.32 L158.34,559.72 L156.66,561.12 Z" fill="#6fcdd6"/>
<path d="M172.29,553.73 L173.97,552.33 L175.65,553.73 L173.97,555.13 Z" fill="#6fcdd6"/>
<path d="M195.37,548.11 L197.05,546.71 L198.73,548.11 L197.05,549.51 Z" fill="#6fcdd6"/>
<path d="M212.68,548.11 L214.36,546.71 L216.04,548.11 L214.36,549.51 Z" fill="#6fcdd6"/>
<path d="M52.8 605.78V603.54M51.7 605.78H53.9M51.7 603.54H53.9" stroke="#7b7bd8" stroke-width="0.6" fill="none"/>
<path d="M75.88 595.3V589.3M74.78 595.3H76.98M74.78 589.3H76.98" stroke="#7b7bd8" stroke-width="0.6" fill="none"/>
<path d="M93.19 582.94V575.45M92.09 582.94H94.29M92.09 575.45H94.29" stroke="#7b7bd8" stroke-width="0.6" fill="none"/>
<path d="M116.27 572.45V564.96M115.17 572.45H117.37M115.17 564.96H117.37" stroke="#7b7bd8" stroke-width="0.6" fill="none"/>
<path d="M133.58 565.71V558.22M132.48 565.71H134.68M132.48 558.22H134.68" stroke="#7b7bd8" stroke-width="0.6" fill="none"/>
<path d="M156.66 559.34V548.11M155.56 559.34H157.76M155.56 548.11H157.76" stroke="#7b7bd8" stroke-width="0.6" fill="none"/>
<path d="M173.97 553.73V542.49M172.87 553.73H175.07M172.87 542.49H175.07" stroke="#7b7bd8" stroke-width="0.6" fill="none"/>
<path d="M197.05 538.37V530.88M195.95 538.37H198.15M195.95 530.88H198.15" stroke="#7b7bd8" stroke-width="0.6" fill="none"/>
<path d="M214.36 535.75V524.52M213.26 535.75H215.46M213.26 524.52H215.46" stroke="#7b7bd8" stroke-width="0.6" fill="none"/>
<polyline points="52.8,604.66 75.88,592.3 93.19,579.19 116.27,568.71 133.58,561.97 156.66,553.73 173.97,548.11 197.05,534.63 214.36,530.13" fill="none" stroke="#7b7bd8" stroke-width="1.25" stroke-linejoin="round" stroke-linecap="round"/>
<path d="M51.12,604.66 L52.8,603.26 L54.48,604.66 L52.8,606.06 Z" fill="#7b7bd8"/>
<path d="M74.2,592.3 L75.88,590.9 L77.56,592.3 L75.88,593.7 Z" fill="#7b7bd8"/>
<path d="M91.51,579.19 L93.19,577.79 L94.87,579.19 L93.19,580.59 Z" fill="#7b7bd8"/>
<path d="M114.59,568.71 L116.27,567.31 L117.95,568.71 L116.27,570.11 Z" fill="#7b7bd8"/>
<path d="M131.9,561.97 L133.58,560.57 L135.26,561.97 L133.58,563.37 Z" fill="#7b7bd8"/>
<path d="M154.98,553.73 L156.66,552.33 L158.34,553.73 L156.66,555.13 Z" fill="#7b7bd8"/>
<path d="M172.29,548.11 L173.97,546.71 L175.65,548.11 L173.97,549.51 Z" fill="#7b7bd8"/>
<path d="M195.37,534.63 L197.05,533.23 L198.73,534.63 L197.05,536.03 Z" fill="#7b7bd8"/>
<path d="M212.68,530.13 L214.36,528.73 L216.04,530.13 L214.36,531.53 Z" fill="#7b7bd8"/>
<line x1="56.7" y1="462.5" x2="63.9" y2="462.5" stroke="#111111" stroke-width="1.2" stroke-linecap="butt"/>
<path d="M58.14,462.5 L60.3,460.7 L62.46,462.5 L60.3,464.3 Z" fill="#111111"/>
<text x="67.3" y="464.1" font-size="4.6" text-anchor="start" fill="#111" stroke="#111" stroke-width="0.07">Vehicle</text>
<line x1="56.7" y1="470.6" x2="63.9" y2="470.6" stroke="#7b7bd8" stroke-width="1.2" stroke-linecap="butt"/>
<path d="M58.14,470.6 L60.3,468.8 L62.46,470.6 L60.3,472.4 Z" fill="#7b7bd8"/>
<text x="67.3" y="472.2" font-size="4.6" text-anchor="start" fill="#111" stroke="#111" stroke-width="0.07">OP-1250 1 mg/kg</text>
<line x1="56.7" y1="478.7" x2="63.9" y2="478.7" stroke="#1d1da6" stroke-width="1.2" stroke-linecap="butt"/>
<path d="M58.32,480.14 L62.28,480.14 L60.3,476.72 Z" fill="#1d1da6"/>
<text x="67.3" y="480.3" font-size="4.6" text-anchor="start" fill="#111" stroke="#111" stroke-width="0.07">OP-1250 10 mg/kg</text>
<line x1="56.7" y1="486.8" x2="63.9" y2="486.8" stroke="#6fcdd6" stroke-width="1.2" stroke-linecap="butt"/>
<path d="M58.14,486.8 L60.3,485 L62.46,486.8 L60.3,488.6 Z" fill="#6fcdd6"/>
<text x="67.3" y="488.4" font-size="4.6" text-anchor="start" fill="#111" stroke="#111" stroke-width="0.07">Palbociclib 25 mg/kg</text>
<line x1="56.7" y1="494.9" x2="63.9" y2="494.9" stroke="#2e8079" stroke-width="1.2" stroke-linecap="butt"/>
<path d="M58.14,494.9 L60.3,493.1 L62.46,494.9 L60.3,496.7 Z" fill="#2e8079"/>
<text x="67.3" y="496.5" font-size="4.6" text-anchor="start" fill="#111" stroke="#111" stroke-width="0.07">Palbociclib 75 mg/kg</text>
<line x1="111.2" y1="462.5" x2="118.4" y2="462.5" stroke="#f5b1c8" stroke-width="1.2" stroke-linecap="butt"/>
<path d="M112.64,462.5 L114.8,460.7 L116.96,462.5 L114.8,464.3 Z" fill="#f5b1c8"/>
<text x="121" y="464.1" font-size="4.6" text-anchor="start" fill="#111" stroke="#111" stroke-width="0.07">OP-1250 1 mg/kg + Palbo 25 mg/kg</text>
<line x1="111.2" y1="470.5" x2="118.4" y2="470.5" stroke="#e67c98" stroke-width="1.2" stroke-linecap="butt"/>
<path d="M112.64,470.5 L114.8,468.7 L116.96,470.5 L114.8,472.3 Z" fill="#e67c98"/>
<text x="121" y="472.1" font-size="4.6" text-anchor="start" fill="#111" stroke="#111" stroke-width="0.07">OP-1250 1 mg/kg + Palbociclib 75 mg/kg</text>
<line x1="111.2" y1="478.5" x2="118.4" y2="478.5" stroke="#b81f48" stroke-width="1.2" stroke-linecap="butt"/>
<path d="M112.64,478.5 L114.8,476.7 L116.96,478.5 L114.8,480.3 Z" fill="#b81f48"/>
<text x="121" y="480.1" font-size="4.6" text-anchor="start" fill="#111" stroke="#111" stroke-width="0.07">OP-1250 10 mg/kg + Palbociclib 25 mg/kg</text>
<line x1="111.2" y1="486.5" x2="118.4" y2="486.5" stroke="#7c1e3a" stroke-width="1.2" stroke-linecap="butt"/>
<path d="M112.64,486.5 L114.8,484.7 L116.96,486.5 L114.8,488.3 Z" fill="#7c1e3a"/>
<text x="121" y="488.1" font-size="4.6" text-anchor="start" fill="#111" stroke="#111" stroke-width="0.07">OP-1250 10 mg/kg + Palbociclib 75 mg/kg</text>
<line x1="293.8" y1="460.5" x2="293.8" y2="611.9" stroke="#3a3a3a" stroke-width="0.9" stroke-linecap="butt"/>
<line x1="293.35" y1="611.9" x2="469.4" y2="611.9" stroke="#3a3a3a" stroke-width="0.9" stroke-linecap="butt"/>
<line x1="292" y1="611.9" x2="293.8" y2="611.9" stroke="#3a3a3a" stroke-width="0.6" stroke-linecap="butt"/>
<text x="291.3" y="613.4" font-size="4.4" text-anchor="end" fill="#222" stroke="#222" stroke-width="0.07">0</text>
<line x1="292" y1="595.2" x2="293.8" y2="595.2" stroke="#3a3a3a" stroke-width="0.6" stroke-linecap="butt"/>
<text x="291.3" y="596.7" font-size="4.4" text-anchor="end" fill="#222" stroke="#222" stroke-width="0.07">500</text>
<line x1="292" y1="578.5" x2="293.8" y2="578.5" stroke="#3a3a3a" stroke-width="0.6" stroke-linecap="butt"/>
<text x="291.3" y="580" font-size="4.4" text-anchor="end" fill="#222" stroke="#222" stroke-width="0.07">1,000</text>
<line x1="292" y1="561.8" x2="293.8" y2="561.8" stroke="#3a3a3a" stroke-width="0.6" stroke-linecap="butt"/>
<text x="291.3" y="563.3" font-size="4.4" text-anchor="end" fill="#222" stroke="#222" stroke-width="0.07">1,500</text>
<line x1="292" y1="545.1" x2="293.8" y2="545.1" stroke="#3a3a3a" stroke-width="0.6" stroke-linecap="butt"/>
<text x="291.3" y="546.6" font-size="4.4" text-anchor="end" fill="#222" stroke="#222" stroke-width="0.07">2,000</text>
<line x1="292" y1="528.4" x2="293.8" y2="528.4" stroke="#3a3a3a" stroke-width="0.6" stroke-linecap="butt"/>
<text x="291.3" y="529.9" font-size="4.4" text-anchor="end" fill="#222" stroke="#222" stroke-width="0.07">2,500</text>
<line x1="292" y1="511.7" x2="293.8" y2="511.7" stroke="#3a3a3a" stroke-width="0.6" stroke-linecap="butt"/>
<text x="291.3" y="513.2" font-size="4.4" text-anchor="end" fill="#222" stroke="#222" stroke-width="0.07">3,000</text>
<line x1="292" y1="495" x2="293.8" y2="495" stroke="#3a3a3a" stroke-width="0.6" stroke-linecap="butt"/>
<text x="291.3" y="496.5" font-size="4.4" text-anchor="end" fill="#222" stroke="#222" stroke-width="0.07">3,500</text>
<line x1="292" y1="478.3" x2="293.8" y2="478.3" stroke="#3a3a3a" stroke-width="0.6" stroke-linecap="butt"/>
<text x="291.3" y="479.8" font-size="4.4" text-anchor="end" fill="#222" stroke="#222" stroke-width="0.07">4,000</text>
<line x1="292" y1="461.6" x2="293.8" y2="461.6" stroke="#3a3a3a" stroke-width="0.6" stroke-linecap="butt"/>
<text x="291.3" y="463.1" font-size="4.4" text-anchor="end" fill="#222" stroke="#222" stroke-width="0.07">4,500</text>
<line x1="300.1" y1="611.9" x2="300.1" y2="613.7" stroke="#3a3a3a" stroke-width="0.6" stroke-linecap="butt"/>
<text x="300.1" y="617.7" font-size="4.3" text-anchor="middle" fill="#222" stroke="#222" stroke-width="0.07">1</text>
<line x1="323.98" y1="611.9" x2="323.98" y2="613.7" stroke="#3a3a3a" stroke-width="0.6" stroke-linecap="butt"/>
<text x="323.98" y="617.7" font-size="4.3" text-anchor="middle" fill="#222" stroke="#222" stroke-width="0.07">5</text>
<line x1="335.92" y1="611.9" x2="335.92" y2="613.7" stroke="#3a3a3a" stroke-width="0.6" stroke-linecap="butt"/>
<text x="335.92" y="617.7" font-size="4.3" text-anchor="middle" fill="#222" stroke="#222" stroke-width="0.07">7</text>
<line x1="359.8" y1="611.9" x2="359.8" y2="613.7" stroke="#3a3a3a" stroke-width="0.6" stroke-linecap="butt"/>
<text x="359.8" y="617.7" font-size="4.3" text-anchor="middle" fill="#222" stroke="#222" stroke-width="0.07">11</text>
<line x1="377.71" y1="611.9" x2="377.71" y2="613.7" stroke="#3a3a3a" stroke-width="0.6" stroke-linecap="butt"/>
<text x="377.71" y="617.7" font-size="4.3" text-anchor="middle" fill="#222" stroke="#222" stroke-width="0.07">14</text>
<line x1="401.59" y1="611.9" x2="401.59" y2="613.7" stroke="#3a3a3a" stroke-width="0.6" stroke-linecap="butt"/>
<text x="401.59" y="617.7" font-size="4.3" text-anchor="middle" fill="#222" stroke="#222" stroke-width="0.07">18</text>
<line x1="419.5" y1="611.9" x2="419.5" y2="613.7" stroke="#3a3a3a" stroke-width="0.6" stroke-linecap="butt"/>
<text x="419.5" y="617.7" font-size="4.3" text-anchor="middle" fill="#222" stroke="#222" stroke-width="0.07">21</text>
<line x1="443.38" y1="611.9" x2="443.38" y2="613.7" stroke="#3a3a3a" stroke-width="0.6" stroke-linecap="butt"/>
<text x="443.38" y="617.7" font-size="4.3" text-anchor="middle" fill="#222" stroke="#222" stroke-width="0.07">25</text>
<line x1="461.29" y1="611.9" x2="461.29" y2="613.7" stroke="#3a3a3a" stroke-width="0.6" stroke-linecap="butt"/>
<text x="461.29" y="617.7" font-size="4.3" text-anchor="middle" fill="#222" stroke="#222" stroke-width="0.07">28</text>
<text x="381.5" y="622.5" font-size="4.5" text-anchor="middle" fill="#333" stroke="#333" stroke-width="0.07">Day</text>
<text x="275.2" y="536.3" font-size="4.4" text-anchor="middle" fill="#333" transform="rotate(-90 275.2 536.3)">Tumor volume (mm<tspan dy="-1.5" font-size="3">3</tspan><tspan dy="1.5">)</tspan></text>
<line x1="298" y1="604.22" x2="469" y2="604.22" stroke="#333" stroke-width="0.7" stroke-dasharray="1.6,1.2" stroke-linecap="butt"/>
<path d="M300.1 605.22V603.22M299 605.22H301.2M299 603.22H301.2" stroke="#b81f48" stroke-width="0.6" fill="none"/>
<path d="M323.98 601.88V599.88M322.88 601.88H325.08M322.88 599.88H325.08" stroke="#b81f48" stroke-width="0.6" fill="none"/>
<path d="M335.92 603.62V601.61M334.82 603.62H337.02M334.82 601.61H337.02" stroke="#b81f48" stroke-width="0.6" fill="none"/>
<path d="M359.8 605.89V603.88M358.7 605.89H360.9M358.7 603.88H360.9" stroke="#b81f48" stroke-width="0.6" fill="none"/>
<path d="M377.71 605.89V603.88M376.61 605.89H378.81M376.61 603.88H378.81" stroke="#b81f48" stroke-width="0.6" fill="none"/>
<path d="M401.59 605.62V603.62M400.49 605.62H402.69M400.49 603.62H402.69" stroke="#b81f48" stroke-width="0.6" fill="none"/>
<path d="M419.5 605.62V603.62M418.4 605.62H420.6M418.4 603.62H420.6" stroke="#b81f48" stroke-width="0.6" fill="none"/>
<path d="M443.38 605.62V603.62M442.28 605.62H444.48M442.28 603.62H444.48" stroke="#b81f48" stroke-width="0.6" fill="none"/>
<path d="M461.29 605.62V603.62M460.19 605.62H462.39M460.19 603.62H462.39" stroke="#b81f48" stroke-width="0.6" fill="none"/>
<polyline points="300.1,604.22 323.98,600.88 335.92,602.61 359.8,604.89 377.71,604.89 401.59,604.62 419.5,604.62 443.38,604.62 461.29,604.62" fill="none" stroke="#b81f48" stroke-width="1.4" stroke-linejoin="round" stroke-linecap="round"/>
<circle cx="300.1" cy="604.22" r="1.4" fill="#b81f48" stroke="#b81f48" stroke-width="0.5"/>
<circle cx="323.98" cy="600.88" r="1.4" fill="#b81f48" stroke="#b81f48" stroke-width="0.5"/>
<circle cx="335.92" cy="602.61" r="1.4" fill="#b81f48" stroke="#b81f48" stroke-width="0.5"/>
<circle cx="359.8" cy="604.89" r="1.4" fill="#b81f48" stroke="#b81f48" stroke-width="0.5"/>
<circle cx="377.71" cy="604.89" r="1.4" fill="#b81f48" stroke="#b81f48" stroke-width="0.5"/>
<circle cx="401.59" cy="604.62" r="1.4" fill="#b81f48" stroke="#b81f48" stroke-width="0.5"/>
<circle cx="419.5" cy="604.62" r="1.4" fill="#b81f48" stroke="#b81f48" stroke-width="0.5"/>
<circle cx="443.38" cy="604.62" r="1.4" fill="#b81f48" stroke="#b81f48" stroke-width="0.5"/>
<circle cx="461.29" cy="604.62" r="1.4" fill="#b81f48" stroke="#b81f48" stroke-width="0.5"/>
<path d="M300.1 605.22V603.22M299 605.22H301.2M299 603.22H301.2" stroke="#7c1e3a" stroke-width="0.6" fill="none"/>
<path d="M323.98 601.88V599.88M322.88 601.88H325.08M322.88 599.88H325.08" stroke="#7c1e3a" stroke-width="0.6" fill="none"/>
<path d="M335.92 603.22V601.21M334.82 603.22H337.02M334.82 601.21H337.02" stroke="#7c1e3a" stroke-width="0.6" fill="none"/>
<path d="M359.8 605.55V603.55M358.7 605.55H360.9M358.7 603.55H360.9" stroke="#7c1e3a" stroke-width="0.6" fill="none"/>
<path d="M377.71 605.55V603.55M376.61 605.55H378.81M376.61 603.55H378.81" stroke="#7c1e3a" stroke-width="0.6" fill="none"/>
<path d="M401.59 605.22V603.22M400.49 605.22H402.69M400.49 603.22H402.69" stroke="#7c1e3a" stroke-width="0.6" fill="none"/>
<path d="M419.5 605.22V603.22M418.4 605.22H420.6M418.4 603.22H420.6" stroke="#7c1e3a" stroke-width="0.6" fill="none"/>
<path d="M443.38 605.22V603.22M442.28 605.22H444.48M442.28 603.22H444.48" stroke="#7c1e3a" stroke-width="0.6" fill="none"/>
<path d="M461.29 605.22V603.22M460.19 605.22H462.39M460.19 603.22H462.39" stroke="#7c1e3a" stroke-width="0.6" fill="none"/>
<polyline points="300.1,604.22 323.98,600.88 335.92,602.21 359.8,604.55 377.71,604.55 401.59,604.22 419.5,604.22 443.38,604.22 461.29,604.22" fill="none" stroke="#7c1e3a" stroke-width="1.4" stroke-linejoin="round" stroke-linecap="round"/>
<path d="M298.42,604.22 L300.1,602.82 L301.78,604.22 L300.1,605.62 Z" fill="#fff" fill-opacity="0.5" stroke="#7c1e3a" stroke-width="0.6"/>
<path d="M322.3,600.88 L323.98,599.48 L325.66,600.88 L323.98,602.28 Z" fill="#fff" fill-opacity="0.5" stroke="#7c1e3a" stroke-width="0.6"/>
<path d="M334.24,602.21 L335.92,600.81 L337.6,602.21 L335.92,603.61 Z" fill="#fff" fill-opacity="0.5" stroke="#7c1e3a" stroke-width="0.6"/>
<path d="M358.12,604.55 L359.8,603.15 L361.48,604.55 L359.8,605.95 Z" fill="#fff" fill-opacity="0.5" stroke="#7c1e3a" stroke-width="0.6"/>
<path d="M376.03,604.55 L377.71,603.15 L379.39,604.55 L377.71,605.95 Z" fill="#fff" fill-opacity="0.5" stroke="#7c1e3a" stroke-width="0.6"/>
<path d="M399.91,604.22 L401.59,602.82 L403.27,604.22 L401.59,605.62 Z" fill="#fff" fill-opacity="0.5" stroke="#7c1e3a" stroke-width="0.6"/>
<path d="M417.82,604.22 L419.5,602.82 L421.18,604.22 L419.5,605.62 Z" fill="#fff" fill-opacity="0.5" stroke="#7c1e3a" stroke-width="0.6"/>
<path d="M441.7,604.22 L443.38,602.82 L445.06,604.22 L443.38,605.62 Z" fill="#fff" fill-opacity="0.5" stroke="#7c1e3a" stroke-width="0.6"/>
<path d="M459.61,604.22 L461.29,602.82 L462.97,604.22 L461.29,605.62 Z" fill="#fff" fill-opacity="0.5" stroke="#7c1e3a" stroke-width="0.6"/>
<path d="M300.1 605.22V603.22M299 605.22H301.2M299 603.22H301.2" stroke="#1d1da6" stroke-width="0.6" fill="none"/>
<path d="M323.98 600.54V597.87M322.88 600.54H325.08M322.88 597.87H325.08" stroke="#1d1da6" stroke-width="0.6" fill="none"/>
<path d="M335.92 599.88V597.2M334.82 599.88H337.02M334.82 597.2H337.02" stroke="#1d1da6" stroke-width="0.6" fill="none"/>
<path d="M359.8 601.65V598.97M358.7 601.65H360.9M358.7 598.97H360.9" stroke="#1d1da6" stroke-width="0.6" fill="none"/>
<path d="M377.71 601.25V598.57M376.61 601.25H378.81M376.61 598.57H378.81" stroke="#1d1da6" stroke-width="0.6" fill="none"/>
<path d="M401.59 602.75V600.08M400.49 602.75H402.69M400.49 600.08H402.69" stroke="#1d1da6" stroke-width="0.6" fill="none"/>
<path d="M419.5 601.25V598.57M418.4 601.25H420.6M418.4 598.57H420.6" stroke="#1d1da6" stroke-width="0.6" fill="none"/>
<path d="M443.38 601.25V598.57M442.28 601.25H444.48M442.28 598.57H444.48" stroke="#1d1da6" stroke-width="0.6" fill="none"/>
<path d="M461.29 602.75V600.08M460.19 602.75H462.39M460.19 600.08H462.39" stroke="#1d1da6" stroke-width="0.6" fill="none"/>
<polyline points="300.1,604.22 323.98,599.21 335.92,598.54 359.8,600.31 377.71,599.91 401.59,601.41 419.5,599.91 443.38,599.91 461.29,601.41" fill="none" stroke="#1d1da6" stroke-width="1.35" stroke-linejoin="round" stroke-linecap="round"/>
<path d="M298.56,605.34 L301.64,605.34 L300.1,602.68 Z" fill="#1d1da6"/>
<path d="M322.44,600.33 L325.52,600.33 L323.98,597.67 Z" fill="#1d1da6"/>
<path d="M334.38,599.66 L337.46,599.66 L335.92,597 Z" fill="#1d1da6"/>
<path d="M358.26,601.43 L361.34,601.43 L359.8,598.77 Z" fill="#1d1da6"/>
<path d="M376.17,601.03 L379.25,601.03 L377.71,598.37 Z" fill="#1d1da6"/>
<path d="M400.05,602.53 L403.13,602.53 L401.59,599.87 Z" fill="#1d1da6"/>
<path d="M417.96,601.03 L421.04,601.03 L419.5,598.37 Z" fill="#1d1da6"/>
<path d="M441.84,601.03 L444.92,601.03 L443.38,598.37 Z" fill="#1d1da6"/>
<path d="M459.75,602.53 L462.83,602.53 L461.29,599.87 Z" fill="#1d1da6"/>
<path d="M300.1 605.22V603.22M299 605.22H301.2M299 603.22H301.2" stroke="#e67c98" stroke-width="0.6" fill="none"/>
<path d="M323.98 598.54V593.2M322.88 598.54H325.08M322.88 593.2H325.08" stroke="#e67c98" stroke-width="0.6" fill="none"/>
<path d="M335.92 596.54V589.86M334.82 596.54H337.02M334.82 589.86H337.02" stroke="#e67c98" stroke-width="0.6" fill="none"/>
<path d="M359.8 594.2V584.18M358.7 594.2H360.9M358.7 584.18H360.9" stroke="#e67c98" stroke-width="0.6" fill="none"/>
<path d="M377.71 582.21V572.19M376.61 582.21H378.81M376.61 572.19H378.81" stroke="#e67c98" stroke-width="0.6" fill="none"/>
<path d="M401.59 579.2V569.18M400.49 579.2H402.69M400.49 569.18H402.69" stroke="#e67c98" stroke-width="0.6" fill="none"/>
<path d="M419.5 576.8V566.78M418.4 576.8H420.6M418.4 566.78H420.6" stroke="#e67c98" stroke-width="0.6" fill="none"/>
<path d="M443.38 576.8V566.78M442.28 576.8H444.48M442.28 566.78H444.48" stroke="#e67c98" stroke-width="0.6" fill="none"/>
<path d="M461.29 576.8V566.78M460.19 576.8H462.39M460.19 566.78H462.39" stroke="#e67c98" stroke-width="0.6" fill="none"/>
<polyline points="300.1,604.22 323.98,595.87 335.92,593.2 359.8,589.19 377.71,577.2 401.59,574.19 419.5,571.79 443.38,571.79 461.29,571.79" fill="none" stroke="#e67c98" stroke-width="1.3" stroke-linejoin="round" stroke-linecap="round"/>
<circle cx="300.1" cy="604.22" r="1.4" fill="#e67c98" stroke="#e67c98" stroke-width="0.5"/>
<circle cx="323.98" cy="595.87" r="1.4" fill="#e67c98" stroke="#e67c98" stroke-width="0.5"/>
<circle cx="335.92" cy="593.2" r="1.4" fill="#e67c98" stroke="#e67c98" stroke-width="0.5"/>
<circle cx="359.8" cy="589.19" r="1.4" fill="#e67c98" stroke="#e67c98" stroke-width="0.5"/>
<circle cx="377.71" cy="577.2" r="1.4" fill="#e67c98" stroke="#e67c98" stroke-width="0.5"/>
<circle cx="401.59" cy="574.19" r="1.4" fill="#e67c98" stroke="#e67c98" stroke-width="0.5"/>
<circle cx="419.5" cy="571.79" r="1.4" fill="#e67c98" stroke="#e67c98" stroke-width="0.5"/>
<circle cx="443.38" cy="571.79" r="1.4" fill="#e67c98" stroke="#e67c98" stroke-width="0.5"/>
<circle cx="461.29" cy="571.79" r="1.4" fill="#e67c98" stroke="#e67c98" stroke-width="0.5"/>
<path d="M300.1 605.22V603.22M299 605.22H301.2M299 603.22H301.2" stroke="#f5b1c8" stroke-width="0.6" fill="none"/>
<path d="M323.98 598.54V593.2M322.88 598.54H325.08M322.88 593.2H325.08" stroke="#f5b1c8" stroke-width="0.6" fill="none"/>
<path d="M335.92 596.54V589.86M334.82 596.54H337.02M334.82 589.86H337.02" stroke="#f5b1c8" stroke-width="0.6" fill="none"/>
<path d="M359.8 595.53V585.51M358.7 595.53H360.9M358.7 585.51H360.9" stroke="#f5b1c8" stroke-width="0.6" fill="none"/>
<path d="M377.71 587.89V574.53M376.61 587.89H378.81M376.61 574.53H378.81" stroke="#f5b1c8" stroke-width="0.6" fill="none"/>
<path d="M401.59 584.01V573.99M400.49 584.01H402.69M400.49 573.99H402.69" stroke="#f5b1c8" stroke-width="0.6" fill="none"/>
<path d="M419.5 573.69V560.33M418.4 573.69H420.6M418.4 560.33H420.6" stroke="#f5b1c8" stroke-width="0.6" fill="none"/>
<path d="M443.38 572.02V562M442.28 572.02H444.48M442.28 562H444.48" stroke="#f5b1c8" stroke-width="0.6" fill="none"/>
<path d="M461.29 570.42V560.4M460.19 570.42H462.39M460.19 560.4H462.39" stroke="#f5b1c8" stroke-width="0.6" fill="none"/>
<polyline points="300.1,604.22 323.98,595.87 335.92,593.2 359.8,590.52 377.71,581.21 401.59,579 419.5,567.01 443.38,567.01 461.29,565.41" fill="none" stroke="#f5b1c8" stroke-width="1.25" stroke-linejoin="round" stroke-linecap="round"/>
<path d="M298.42,604.22 L300.1,602.82 L301.78,604.22 L300.1,605.62 Z" fill="#f5b1c8"/>
<path d="M322.3,595.87 L323.98,594.47 L325.66,595.87 L323.98,597.27 Z" fill="#f5b1c8"/>
<path d="M334.24,593.2 L335.92,591.8 L337.6,593.2 L335.92,594.6 Z" fill="#f5b1c8"/>
<path d="M358.12,590.52 L359.8,589.12 L361.48,590.52 L359.8,591.92 Z" fill="#f5b1c8"/>
<path d="M376.03,581.21 L377.71,579.81 L379.39,581.21 L377.71,582.61 Z" fill="#f5b1c8"/>
<path d="M399.91,579 L401.59,577.6 L403.27,579 L401.59,580.4 Z" fill="#f5b1c8"/>
<path d="M417.82,567.01 L419.5,565.61 L421.18,567.01 L419.5,568.41 Z" fill="#f5b1c8"/>
<path d="M441.7,567.01 L443.38,565.61 L445.06,567.01 L443.38,568.41 Z" fill="#f5b1c8"/>
<path d="M459.61,565.41 L461.29,564.01 L462.97,565.41 L461.29,566.81 Z" fill="#f5b1c8"/>
<path d="M300.1 605.22V603.22M299 605.22H301.2M299 603.22H301.2" stroke="#2e8079" stroke-width="0.6" fill="none"/>
<path d="M323.98 594.53V589.19M322.88 594.53H325.08M322.88 589.19H325.08" stroke="#2e8079" stroke-width="0.6" fill="none"/>
<path d="M335.92 591.19V584.51M334.82 591.19H337.02M334.82 584.51H337.02" stroke="#2e8079" stroke-width="0.6" fill="none"/>
<path d="M359.8 587.32V577.3M358.7 587.32H360.9M358.7 577.3H360.9" stroke="#2e8079" stroke-width="0.6" fill="none"/>
<path d="M377.71 580.4V570.38M376.61 580.4H378.81M376.61 570.38H378.81" stroke="#2e8079" stroke-width="0.6" fill="none"/>
<path d="M401.59 576V565.98M400.49 576H402.69M400.49 565.98H402.69" stroke="#2e8079" stroke-width="0.6" fill="none"/>
<path d="M419.5 569.68V556.32M418.4 569.68H420.6M418.4 556.32H420.6" stroke="#2e8079" stroke-width="0.6" fill="none"/>
<path d="M443.38 561.3V551.28M442.28 561.3H444.48M442.28 551.28H444.48" stroke="#2e8079" stroke-width="0.6" fill="none"/>
<path d="M461.29 568.25V561.57M460.19 568.25H462.39M460.19 561.57H462.39" stroke="#2e8079" stroke-width="0.6" fill="none"/>
<polyline points="300.1,604.22 323.98,591.86 335.92,587.85 359.8,582.31 377.71,575.39 401.59,570.99 419.5,563 443.38,556.29 461.29,564.91" fill="none" stroke="#2e8079" stroke-width="1.25" stroke-linejoin="round" stroke-linecap="round"/>
<circle cx="300.1" cy="604.22" r="1.4" fill="#fff" fill-opacity="0.6" stroke="#2e8079" stroke-width="0.6"/>
<circle cx="323.98" cy="591.86" r="1.4" fill="#fff" fill-opacity="0.6" stroke="#2e8079" stroke-width="0.6"/>
<circle cx="335.92" cy="587.85" r="1.4" fill="#fff" fill-opacity="0.6" stroke="#2e8079" stroke-width="0.6"/>
<circle cx="359.8" cy="582.31" r="1.4" fill="#fff" fill-opacity="0.6" stroke="#2e8079" stroke-width="0.6"/>
<circle cx="377.71" cy="575.39" r="1.4" fill="#fff" fill-opacity="0.6" stroke="#2e8079" stroke-width="0.6"/>
<circle cx="401.59" cy="570.99" r="1.4" fill="#fff" fill-opacity="0.6" stroke="#2e8079" stroke-width="0.6"/>
<circle cx="419.5" cy="563" r="1.4" fill="#fff" fill-opacity="0.6" stroke="#2e8079" stroke-width="0.6"/>
<circle cx="443.38" cy="556.29" r="1.4" fill="#fff" fill-opacity="0.6" stroke="#2e8079" stroke-width="0.6"/>
<circle cx="461.29" cy="564.91" r="1.4" fill="#fff" fill-opacity="0.6" stroke="#2e8079" stroke-width="0.6"/>
<path d="M300.1 605.22V603.22M299 605.22H301.2M299 603.22H301.2" stroke="#6fcdd6" stroke-width="0.6" fill="none"/>
<path d="M323.98 593.86V588.52M322.88 593.86H325.08M322.88 588.52H325.08" stroke="#6fcdd6" stroke-width="0.6" fill="none"/>
<path d="M335.92 586.85V580.17M334.82 586.85H337.02M334.82 580.17H337.02" stroke="#6fcdd6" stroke-width="0.6" fill="none"/>
<path d="M359.8 574.63V564.61M358.7 574.63H360.9M358.7 564.61H360.9" stroke="#6fcdd6" stroke-width="0.6" fill="none"/>
<path d="M377.71 569.45V552.75M376.61 569.45H378.81M376.61 552.75H378.81" stroke="#6fcdd6" stroke-width="0.6" fill="none"/>
<path d="M401.59 561.77V545.07M400.49 561.77H402.69M400.49 545.07H402.69" stroke="#6fcdd6" stroke-width="0.6" fill="none"/>
<path d="M419.5 549.01V528.97M418.4 549.01H420.6M418.4 528.97H420.6" stroke="#6fcdd6" stroke-width="0.6" fill="none"/>
<path d="M443.38 553.22V523.16M442.28 553.22H444.48M442.28 523.16H444.48" stroke="#6fcdd6" stroke-width="0.6" fill="none"/>
<polyline points="300.1,604.22 323.98,591.19 335.92,583.51 359.8,569.62 377.71,561.1 401.59,553.42 419.5,538.99 443.38,538.19" fill="none" stroke="#6fcdd6" stroke-width="1.25" stroke-linejoin="round" stroke-linecap="round"/>
<path d="M298.42,604.22 L300.1,602.82 L301.78,604.22 L300.1,605.62 Z" fill="#6fcdd6"/>
<path d="M322.3,591.19 L323.98,589.79 L325.66,591.19 L323.98,592.59 Z" fill="#6fcdd6"/>
<path d="M334.24,583.51 L335.92,582.11 L337.6,583.51 L335.92,584.91 Z" fill="#6fcdd6"/>
<path d="M358.12,569.62 L359.8,568.22 L361.48,569.62 L359.8,571.02 Z" fill="#6fcdd6"/>
<path d="M376.03,561.1 L377.71,559.7 L379.39,561.1 L377.71,562.5 Z" fill="#6fcdd6"/>
<path d="M399.91,553.42 L401.59,552.02 L403.27,553.42 L401.59,554.82 Z" fill="#6fcdd6"/>
<path d="M417.82,538.99 L419.5,537.59 L421.18,538.99 L419.5,540.39 Z" fill="#6fcdd6"/>
<path d="M441.7,538.19 L443.38,536.79 L445.06,538.19 L443.38,539.59 Z" fill="#6fcdd6"/>
<path d="M300.1 605.22V603.22M299 605.22H301.2M299 603.22H301.2" stroke="#7b7bd8" stroke-width="0.6" fill="none"/>
<path d="M323.98 593.2V587.85M322.88 593.2H325.08M322.88 587.85H325.08" stroke="#7b7bd8" stroke-width="0.6" fill="none"/>
<path d="M335.92 588.52V581.84M334.82 588.52H337.02M334.82 581.84H337.02" stroke="#7b7bd8" stroke-width="0.6" fill="none"/>
<path d="M359.8 579.23V569.21M358.7 579.23H360.9M358.7 569.21H360.9" stroke="#7b7bd8" stroke-width="0.6" fill="none"/>
<path d="M377.71 573.49V563.47M376.61 573.49H378.81M376.61 563.47H378.81" stroke="#7b7bd8" stroke-width="0.6" fill="none"/>
<path d="M401.59 570.48V557.12M400.49 570.48H402.69M400.49 557.12H402.69" stroke="#7b7bd8" stroke-width="0.6" fill="none"/>
<path d="M419.5 565.67V552.31M418.4 565.67H420.6M418.4 552.31H420.6" stroke="#7b7bd8" stroke-width="0.6" fill="none"/>
<path d="M443.38 561.3V551.28M442.28 561.3H444.48M442.28 551.28H444.48" stroke="#7b7bd8" stroke-width="0.6" fill="none"/>
<path d="M461.29 562.4V552.38M460.19 562.4H462.39M460.19 552.38H462.39" stroke="#7b7bd8" stroke-width="0.6" fill="none"/>
<polyline points="300.1,604.22 323.98,590.52 335.92,585.18 359.8,574.22 377.71,568.48 401.59,563.8 419.5,558.99 443.38,556.29 461.29,557.39" fill="none" stroke="#7b7bd8" stroke-width="1.25" stroke-linejoin="round" stroke-linecap="round"/>
<path d="M298.42,604.22 L300.1,602.82 L301.78,604.22 L300.1,605.62 Z" fill="#7b7bd8"/>
<path d="M322.3,590.52 L323.98,589.12 L325.66,590.52 L323.98,591.92 Z" fill="#7b7bd8"/>
<path d="M334.24,585.18 L335.92,583.78 L337.6,585.18 L335.92,586.58 Z" fill="#7b7bd8"/>
<path d="M358.12,574.22 L359.8,572.82 L361.48,574.22 L359.8,575.62 Z" fill="#7b7bd8"/>
<path d="M376.03,568.48 L377.71,567.08 L379.39,568.48 L377.71,569.88 Z" fill="#7b7bd8"/>
<path d="M399.91,563.8 L401.59,562.4 L403.27,563.8 L401.59,565.2 Z" fill="#7b7bd8"/>
<path d="M417.82,558.99 L419.5,557.59 L421.18,558.99 L419.5,560.39 Z" fill="#7b7bd8"/>
<path d="M441.7,556.29 L443.38,554.89 L445.06,556.29 L443.38,557.69 Z" fill="#7b7bd8"/>
<path d="M459.61,557.39 L461.29,555.99 L462.97,557.39 L461.29,558.79 Z" fill="#7b7bd8"/>
<path d="M300.1 605.22V603.22M299 605.22H301.2M299 603.22H301.2" stroke="#111111" stroke-width="0.6" fill="none"/>
<path d="M323.98 591.53V586.18M322.88 591.53H325.08M322.88 586.18H325.08" stroke="#111111" stroke-width="0.6" fill="none"/>
<path d="M335.92 582.84V574.83M334.82 582.84H337.02M334.82 574.83H337.02" stroke="#111111" stroke-width="0.6" fill="none"/>
<path d="M359.8 571.69V558.33M358.7 571.69H360.9M358.7 558.33H360.9" stroke="#111111" stroke-width="0.6" fill="none"/>
<path d="M377.71 553.05V536.35M376.61 553.05H378.81M376.61 536.35H378.81" stroke="#111111" stroke-width="0.6" fill="none"/>
<path d="M401.59 560.56V523.82M400.49 560.56H402.69M400.49 523.82H402.69" stroke="#111111" stroke-width="0.6" fill="none"/>
<path d="M419.5 561.3V551.28M418.4 561.3H420.6M418.4 551.28H420.6" stroke="#111111" stroke-width="0.6" fill="none"/>
<path d="M443.38 556.22V536.18M442.28 556.22H444.48M442.28 536.18H444.48" stroke="#111111" stroke-width="0.6" fill="none"/>
<polyline points="300.1,604.22 323.98,588.85 335.92,578.83 359.8,565.01 377.71,544.7 401.59,542.19 419.5,556.29 443.38,546.2" fill="none" stroke="#111111" stroke-width="1.5" stroke-linejoin="round" stroke-linecap="round"/>
<circle cx="300.1" cy="604.22" r="1.4" fill="#fff" fill-opacity="0.6" stroke="#111111" stroke-width="0.6"/>
<circle cx="323.98" cy="588.85" r="1.4" fill="#fff" fill-opacity="0.6" stroke="#111111" stroke-width="0.6"/>
<circle cx="335.92" cy="578.83" r="1.4" fill="#fff" fill-opacity="0.6" stroke="#111111" stroke-width="0.6"/>
<circle cx="359.8" cy="565.01" r="1.4" fill="#fff" fill-opacity="0.6" stroke="#111111" stroke-width="0.6"/>
<circle cx="377.71" cy="544.7" r="1.4" fill="#fff" fill-opacity="0.6" stroke="#111111" stroke-width="0.6"/>
<circle cx="401.59" cy="542.19" r="1.4" fill="#fff" fill-opacity="0.6" stroke="#111111" stroke-width="0.6"/>
<circle cx="419.5" cy="556.29" r="1.4" fill="#fff" fill-opacity="0.6" stroke="#111111" stroke-width="0.6"/>
<circle cx="443.38" cy="546.2" r="1.4" fill="#fff" fill-opacity="0.6" stroke="#111111" stroke-width="0.6"/>
<line x1="305.5" y1="461.4" x2="312.7" y2="461.4" stroke="#111111" stroke-width="1.2" stroke-linecap="butt"/>
<path d="M306.94,461.4 L309.1,459.6 L311.26,461.4 L309.1,463.2 Z" fill="#111111"/>
<text x="315.4" y="463" font-size="4.7" text-anchor="start" fill="#111" stroke="#111" stroke-width="0.07">Vehicle</text>
<line x1="305.5" y1="469.45" x2="312.7" y2="469.45" stroke="#7b7bd8" stroke-width="1.2" stroke-linecap="butt"/>
<path d="M306.94,469.45 L309.1,467.65 L311.26,469.45 L309.1,471.25 Z" fill="#7b7bd8"/>
<text x="315.4" y="471.05" font-size="4.7" text-anchor="start" fill="#111" stroke="#111" stroke-width="0.07">OP-1250 1 mg/kg</text>
<line x1="305.5" y1="477.5" x2="312.7" y2="477.5" stroke="#1d1da6" stroke-width="1.2" stroke-linecap="butt"/>
<path d="M307.12,478.94 L311.08,478.94 L309.1,475.52 Z" fill="#1d1da6"/>
<text x="315.4" y="479.1" font-size="4.7" text-anchor="start" fill="#111" stroke="#111" stroke-width="0.07">OP-1250 10 mg/kg</text>
<line x1="305.5" y1="485.55" x2="312.7" y2="485.55" stroke="#6fcdd6" stroke-width="1.2" stroke-linecap="butt"/>
<path d="M306.94,485.55 L309.1,483.75 L311.26,485.55 L309.1,487.35 Z" fill="#6fcdd6"/>
<text x="315.4" y="487.15" font-size="4.7" text-anchor="start" fill="#111" stroke="#111" stroke-width="0.07">Ribociclib 25 mg/kg</text>
<line x1="305.5" y1="493.6" x2="312.7" y2="493.6" stroke="#2e8079" stroke-width="1.2" stroke-linecap="butt"/>
<path d="M306.94,493.6 L309.1,491.8 L311.26,493.6 L309.1,495.4 Z" fill="#2e8079"/>
<text x="315.4" y="495.2" font-size="4.7" text-anchor="start" fill="#111" stroke="#111" stroke-width="0.07">Ribociclib 75 mg/kg</text>
<line x1="357.4" y1="461.1" x2="364.6" y2="461.1" stroke="#f5b1c8" stroke-width="1.2" stroke-linecap="butt"/>
<path d="M358.84,461.1 L361,459.3 L363.16,461.1 L361,462.9 Z" fill="#f5b1c8"/>
<text x="367.7" y="462.7" font-size="4.7" text-anchor="start" fill="#111" stroke="#111" stroke-width="0.07">OP-1250 1 mg/kg + Ribociclib 25 mg/kg</text>
<line x1="357.4" y1="469.1" x2="364.6" y2="469.1" stroke="#e67c98" stroke-width="1.2" stroke-linecap="butt"/>
<path d="M358.84,469.1 L361,467.3 L363.16,469.1 L361,470.9 Z" fill="#e67c98"/>
<text x="367.7" y="470.7" font-size="4.7" text-anchor="start" fill="#111" stroke="#111" stroke-width="0.07">OP-1250 1 mg/kg + Ribociclib 75 mg/kg</text>
<line x1="357.4" y1="477.1" x2="364.6" y2="477.1" stroke="#b81f48" stroke-width="1.2" stroke-linecap="butt"/>
<path d="M358.84,477.1 L361,475.3 L363.16,477.1 L361,478.9 Z" fill="#b81f48"/>
<text x="367.7" y="478.7" font-size="4.7" text-anchor="start" fill="#111" stroke="#111" stroke-width="0.07">OP-1250 10 mg/kg + Ribociclib 25 mg/kg</text>
<line x1="357.4" y1="485.1" x2="364.6" y2="485.1" stroke="#7c1e3a" stroke-width="1.2" stroke-linecap="butt"/>
<path d="M358.84,485.1 L361,483.3 L363.16,485.1 L361,486.9 Z" fill="#7c1e3a"/>
<text x="367.7" y="486.7" font-size="4.7" text-anchor="start" fill="#111" stroke="#111" stroke-width="0.07">OP-1250 10 mg/kg + Ribociclib 75 mg/kg</text>
<text x="96.7" y="451.5" font-size="9.1" font-weight="bold" fill="#111">ST941 (<tspan font-style="italic">ESR1</tspan><tspan dy="-3.4" font-size="4.6">Y537S</tspan><tspan dy="3.4">)</tspan></text>
<text x="348.6" y="451.5" font-size="9.1" font-weight="bold" fill="#111">ST941 (<tspan font-style="italic">ESR1</tspan><tspan dy="-3.4" font-size="4.6">Y537S</tspan><tspan dy="3.4">)</tspan></text>
<rect x="11.8" y="339.2" width="3.04" height="23.1" fill="#fef0af"/>
<rect x="14.24" y="339.2" width="3.04" height="23.1" fill="#fef1b2"/>
<rect x="16.68" y="339.2" width="3.04" height="23.1" fill="#fef0af"/>
<rect x="19.11" y="339.2" width="3.04" height="23.1" fill="#fef0af"/>
<rect x="21.55" y="339.2" width="3.04" height="23.1" fill="#feefad"/>
<rect x="23.99" y="339.2" width="3.04" height="23.1" fill="#fef0af"/>
<rect x="26.43" y="339.2" width="3.04" height="23.1" fill="#fef2b3"/>
<rect x="28.86" y="339.2" width="3.04" height="23.1" fill="#fef1b1"/>
<rect x="31.3" y="339.2" width="3.04" height="23.1" fill="#fef2b3"/>
<rect x="33.74" y="339.2" width="3.04" height="23.1" fill="#fef0b1"/>
<rect x="36.17" y="339.2" width="3.04" height="23.1" fill="#fef1b1"/>
<rect x="38.61" y="339.2" width="3.04" height="23.1" fill="#fef0b1"/>
<rect x="41.05" y="339.2" width="3.04" height="23.1" fill="#feeeab"/>
<rect x="43.49" y="339.2" width="3.04" height="23.1" fill="#fef1b3"/>
<rect x="45.92" y="339.2" width="3.04" height="23.1" fill="#fef1b2"/>
<rect x="48.36" y="339.2" width="3.04" height="23.1" fill="#fef1b1"/>
<rect x="50.8" y="339.2" width="3.01" height="23.1" fill="#feedab"/>
<rect x="53.21" y="339.2" width="3.01" height="23.1" fill="#feedab"/>
<rect x="55.62" y="339.2" width="3.01" height="23.1" fill="#feefad"/>
<rect x="58.03" y="339.2" width="3.01" height="23.1" fill="#feefaf"/>
<rect x="60.44" y="339.2" width="3.01" height="23.1" fill="#fef0b1"/>
<rect x="62.86" y="339.2" width="3.01" height="23.1" fill="#fef0b0"/>
<rect x="65.27" y="339.2" width="3.01" height="23.1" fill="#fef1b2"/>
<rect x="67.68" y="339.2" width="3.01" height="23.1" fill="#feefae"/>
<rect x="70.09" y="339.2" width="3.01" height="23.1" fill="#fef0b1"/>
<rect x="72.5" y="339.2" width="2.97" height="23.1" fill="#fef3b7"/>
<rect x="74.87" y="339.2" width="2.97" height="23.1" fill="#fef1b4"/>
<rect x="77.23" y="339.2" width="2.97" height="23.1" fill="#fef5bb"/>
<rect x="79.6" y="339.2" width="2.97" height="23.1" fill="#fef3b8"/>
<rect x="81.97" y="339.2" width="2.97" height="23.1" fill="#fef4ba"/>
<rect x="84.33" y="339.2" width="2.97" height="23.1" fill="#fef1b4"/>
<rect x="86.7" y="339.2" width="2.97" height="23.1" fill="#fef1b4"/>
<rect x="89.07" y="339.2" width="2.97" height="23.1" fill="#fef1b5"/>
<rect x="91.43" y="339.2" width="2.97" height="23.1" fill="#fef2b6"/>
<rect x="93.8" y="339.2" width="2.97" height="23.1" fill="#fef3b8"/>
<rect x="96.17" y="339.2" width="2.97" height="23.1" fill="#fef2b7"/>
<rect x="98.53" y="339.2" width="2.97" height="23.1" fill="#fef1b5"/>
<rect x="100.9" y="339.2" width="2.97" height="23.1" fill="#fef1b3"/>
<rect x="103.27" y="339.2" width="2.97" height="23.1" fill="#fef1b4"/>
<rect x="105.63" y="339.2" width="2.97" height="23.1" fill="#fef4ba"/>
<rect x="108" y="339.2" width="2.98" height="23.1" fill="#feefb0"/>
<rect x="110.38" y="339.2" width="2.98" height="23.1" fill="#fef0b3"/>
<rect x="112.75" y="339.2" width="2.98" height="23.1" fill="#fef1b3"/>
<rect x="115.12" y="339.2" width="2.98" height="23.1" fill="#feeeae"/>
<rect x="117.5" y="339.2" width="2.98" height="23.1" fill="#fef0b2"/>
<rect x="119.88" y="339.2" width="2.98" height="23.1" fill="#fef2b6"/>
<rect x="122.25" y="339.2" width="2.98" height="23.1" fill="#fdedac"/>
<rect x="124.62" y="339.2" width="2.98" height="23.1" fill="#fef0b1"/>
<rect x="127" y="339.2" width="2.98" height="23.1" fill="#fef0b2"/>
<rect x="129.38" y="339.2" width="2.98" height="23.1" fill="#feefb0"/>
<rect x="131.75" y="339.2" width="2.98" height="23.1" fill="#fef1b3"/>
<rect x="134.12" y="339.2" width="2.98" height="23.1" fill="#fef0b2"/>
<rect x="136.5" y="339.2" width="2.98" height="23.1" fill="#feeeae"/>
<rect x="138.88" y="339.2" width="2.98" height="23.1" fill="#fef1b4"/>
<rect x="141.25" y="339.2" width="2.98" height="23.1" fill="#fef1b4"/>
<rect x="143.62" y="339.2" width="2.98" height="23.1" fill="#fef1b5"/>
<rect x="146" y="339.2" width="2.98" height="23.1" fill="#fef2b6"/>
<rect x="148.38" y="339.2" width="2.98" height="23.1" fill="#fef1b3"/>
<rect x="150.75" y="339.2" width="2.98" height="23.1" fill="#fef0b2"/>
<rect x="153.12" y="339.2" width="2.98" height="23.1" fill="#feeeae"/>
<rect x="155.5" y="339.2" width="2.98" height="23.1" fill="#fef1b4"/>
<rect x="157.88" y="339.2" width="2.98" height="23.1" fill="#feefb0"/>
<rect x="160.25" y="339.2" width="2.98" height="23.1" fill="#feefb1"/>
<rect x="162.62" y="339.2" width="2.98" height="23.1" fill="#feeeae"/>
<rect x="165" y="339.2" width="2.98" height="23.1" fill="#fde8a3"/>
<rect x="167.38" y="339.2" width="2.98" height="23.1" fill="#fde8a4"/>
<rect x="169.75" y="339.2" width="2.98" height="23.1" fill="#fdebaa"/>
<rect x="172.12" y="339.2" width="2.98" height="23.1" fill="#fce6a0"/>
<rect x="174.5" y="339.2" width="2.98" height="23.1" fill="#fde7a2"/>
<rect x="176.88" y="339.2" width="2.98" height="23.1" fill="#fde9a7"/>
<rect x="179.25" y="339.2" width="2.98" height="23.1" fill="#fdebaa"/>
<rect x="181.62" y="339.2" width="2.98" height="23.1" fill="#fdeaa8"/>
<rect x="184" y="339.2" width="2.98" height="23.1" fill="#fde6a0"/>
<rect x="186.38" y="339.2" width="2.98" height="23.1" fill="#fce59e"/>
<rect x="188.75" y="339.2" width="2.98" height="23.1" fill="#fdeaa7"/>
<rect x="191.12" y="339.2" width="2.98" height="23.1" fill="#fde8a4"/>
<rect x="193.5" y="339.2" width="2.95" height="23.1" fill="#fef4cf"/>
<rect x="195.85" y="339.2" width="2.95" height="23.1" fill="#fef7d5"/>
<rect x="198.21" y="339.2" width="2.95" height="23.1" fill="#fef8d5"/>
<rect x="200.56" y="339.2" width="2.95" height="23.1" fill="#fef6d2"/>
<rect x="202.92" y="339.2" width="2.95" height="23.1" fill="#fef6d3"/>
<rect x="205.27" y="339.2" width="2.95" height="23.1" fill="#fef7d3"/>
<rect x="207.63" y="339.2" width="2.95" height="23.1" fill="#fef8d7"/>
<rect x="209.98" y="339.2" width="2.95" height="23.1" fill="#fef7d4"/>
<rect x="212.34" y="339.2" width="2.95" height="23.1" fill="#fef7d4"/>
<rect x="214.69" y="339.2" width="2.95" height="23.1" fill="#fef7d4"/>
<rect x="217.05" y="339.2" width="2.95" height="23.1" fill="#fef4cd"/>
<rect x="219.4" y="339.2" width="2.95" height="23.1" fill="#fef8d6"/>
<rect x="221.75" y="339.2" width="2.95" height="23.1" fill="#fef7d5"/>
<rect x="224.11" y="339.2" width="2.95" height="23.1" fill="#fef7d4"/>
<rect x="226.46" y="339.2" width="2.95" height="23.1" fill="#fef3cc"/>
<rect x="228.82" y="339.2" width="2.95" height="23.1" fill="#fef5d0"/>
<rect x="231.17" y="339.2" width="2.95" height="23.1" fill="#fef7d5"/>
<rect x="233.53" y="339.2" width="2.95" height="23.1" fill="#fef3cd"/>
<rect x="235.88" y="339.2" width="2.95" height="23.1" fill="#fef6d1"/>
<rect x="238.24" y="339.2" width="2.95" height="23.1" fill="#fef8d5"/>
<rect x="240.59" y="339.2" width="2.95" height="23.1" fill="#fef4ce"/>
<rect x="242.95" y="339.2" width="2.35" height="23.1" fill="#fef8d7"/>
<rect x="11.8" y="361.8" width="3.04" height="24.3" fill="#fdeead"/>
<rect x="14.24" y="361.8" width="3.04" height="24.3" fill="#fdedab"/>
<rect x="16.68" y="361.8" width="3.04" height="24.3" fill="#fdedac"/>
<rect x="19.11" y="361.8" width="3.04" height="24.3" fill="#fdeead"/>
<rect x="21.55" y="361.8" width="3.04" height="24.3" fill="#fdedab"/>
<rect x="23.99" y="361.8" width="3.04" height="24.3" fill="#fdefae"/>
<rect x="26.43" y="361.8" width="3.04" height="24.3" fill="#fdeca9"/>
<rect x="28.86" y="361.8" width="3.04" height="24.3" fill="#fdecaa"/>
<rect x="31.3" y="361.8" width="3.04" height="24.3" fill="#fdefae"/>
<rect x="33.74" y="361.8" width="3.04" height="24.3" fill="#fdedab"/>
<rect x="36.17" y="361.8" width="3.04" height="24.3" fill="#fdeca8"/>
<rect x="38.61" y="361.8" width="3.04" height="24.3" fill="#fdeeae"/>
<rect x="41.05" y="361.8" width="3.04" height="24.3" fill="#fdefaf"/>
<rect x="43.49" y="361.8" width="3.04" height="24.3" fill="#fdecaa"/>
<rect x="45.92" y="361.8" width="3.04" height="24.3" fill="#fdeba7"/>
<rect x="48.36" y="361.8" width="3.04" height="24.3" fill="#fdedab"/>
<rect x="50.8" y="361.8" width="3.01" height="24.3" fill="#fdeaa6"/>
<rect x="53.21" y="361.8" width="3.01" height="24.3" fill="#fdeaa5"/>
<rect x="55.62" y="361.8" width="3.01" height="24.3" fill="#fdecaa"/>
<rect x="58.03" y="361.8" width="3.01" height="24.3" fill="#fde8a3"/>
<rect x="60.44" y="361.8" width="3.01" height="24.3" fill="#fdecaa"/>
<rect x="62.86" y="361.8" width="3.01" height="24.3" fill="#fde8a2"/>
<rect x="65.27" y="361.8" width="3.01" height="24.3" fill="#fde9a4"/>
<rect x="67.68" y="361.8" width="3.01" height="24.3" fill="#fdeba8"/>
<rect x="70.09" y="361.8" width="3.01" height="24.3" fill="#fdeca9"/>
<rect x="72.5" y="361.8" width="2.97" height="24.3" fill="#fdf0b3"/>
<rect x="74.87" y="361.8" width="2.97" height="24.3" fill="#fdf0b1"/>
<rect x="77.23" y="361.8" width="2.97" height="24.3" fill="#fdefb0"/>
<rect x="79.6" y="361.8" width="2.97" height="24.3" fill="#fdefb0"/>
<rect x="81.97" y="361.8" width="2.97" height="24.3" fill="#fdf0b2"/>
<rect x="84.33" y="361.8" width="2.97" height="24.3" fill="#fdefaf"/>
<rect x="86.7" y="361.8" width="2.97" height="24.3" fill="#fdefb1"/>
<rect x="89.07" y="361.8" width="2.97" height="24.3" fill="#fdf0b2"/>
<rect x="91.43" y="361.8" width="2.97" height="24.3" fill="#fdefb0"/>
<rect x="93.8" y="361.8" width="2.97" height="24.3" fill="#fdf0b2"/>
<rect x="96.17" y="361.8" width="2.97" height="24.3" fill="#fdf0b2"/>
<rect x="98.53" y="361.8" width="2.97" height="24.3" fill="#fef2b6"/>
<rect x="100.9" y="361.8" width="2.97" height="24.3" fill="#fdefb1"/>
<rect x="103.27" y="361.8" width="2.97" height="24.3" fill="#fdeeaf"/>
<rect x="105.63" y="361.8" width="2.97" height="24.3" fill="#fdeeaf"/>
<rect x="108" y="361.8" width="2.98" height="24.3" fill="#fdedac"/>
<rect x="110.38" y="361.8" width="2.98" height="24.3" fill="#fdeeaf"/>
<rect x="112.75" y="361.8" width="2.98" height="24.3" fill="#fdecab"/>
<rect x="115.12" y="361.8" width="2.98" height="24.3" fill="#fdeead"/>
<rect x="117.5" y="361.8" width="2.98" height="24.3" fill="#fdf0b2"/>
<rect x="119.88" y="361.8" width="2.98" height="24.3" fill="#fce9a4"/>
<rect x="122.25" y="361.8" width="2.98" height="24.3" fill="#fdeba9"/>
<rect x="124.62" y="361.8" width="2.98" height="24.3" fill="#fdedad"/>
<rect x="127" y="361.8" width="2.98" height="24.3" fill="#fdeead"/>
<rect x="129.38" y="361.8" width="2.98" height="24.3" fill="#fdedad"/>
<rect x="131.75" y="361.8" width="2.98" height="24.3" fill="#fdecab"/>
<rect x="134.12" y="361.8" width="2.98" height="24.3" fill="#fdeeae"/>
<rect x="136.5" y="361.8" width="2.98" height="24.3" fill="#fdedad"/>
<rect x="138.88" y="361.8" width="2.98" height="24.3" fill="#fdecaa"/>
<rect x="141.25" y="361.8" width="2.98" height="24.3" fill="#fef1b3"/>
<rect x="143.62" y="361.8" width="2.98" height="24.3" fill="#fdeead"/>
<rect x="146" y="361.8" width="2.98" height="24.3" fill="#fdecaa"/>
<rect x="148.38" y="361.8" width="2.98" height="24.3" fill="#fdedac"/>
<rect x="150.75" y="361.8" width="2.98" height="24.3" fill="#fdedab"/>
<rect x="153.12" y="361.8" width="2.98" height="24.3" fill="#fdedac"/>
<rect x="155.5" y="361.8" width="2.98" height="24.3" fill="#fce9a4"/>
<rect x="157.88" y="361.8" width="2.98" height="24.3" fill="#fdecab"/>
<rect x="160.25" y="361.8" width="2.98" height="24.3" fill="#fdefaf"/>
<rect x="162.62" y="361.8" width="2.98" height="24.3" fill="#fdeba8"/>
<rect x="165" y="361.8" width="2.98" height="24.3" fill="#fde9a6"/>
<rect x="167.38" y="361.8" width="2.98" height="24.3" fill="#fdeaa9"/>
<rect x="169.75" y="361.8" width="2.98" height="24.3" fill="#fdeaa9"/>
<rect x="172.12" y="361.8" width="2.98" height="24.3" fill="#fdebaa"/>
<rect x="174.5" y="361.8" width="2.98" height="24.3" fill="#fde6a1"/>
<rect x="176.88" y="361.8" width="2.98" height="24.3" fill="#fde8a5"/>
<rect x="179.25" y="361.8" width="2.98" height="24.3" fill="#fde8a5"/>
<rect x="181.62" y="361.8" width="2.98" height="24.3" fill="#fdeaa8"/>
<rect x="184" y="361.8" width="2.98" height="24.3" fill="#fdeba9"/>
<rect x="186.38" y="361.8" width="2.98" height="24.3" fill="#fce59e"/>
<rect x="188.75" y="361.8" width="2.98" height="24.3" fill="#fdeba9"/>
<rect x="191.12" y="361.8" width="2.98" height="24.3" fill="#fde7a2"/>
<rect x="193.5" y="361.8" width="2.95" height="24.3" fill="#fef6d0"/>
<rect x="195.85" y="361.8" width="2.95" height="24.3" fill="#fef3ca"/>
<rect x="198.21" y="361.8" width="2.95" height="24.3" fill="#fef5cf"/>
<rect x="200.56" y="361.8" width="2.95" height="24.3" fill="#fef7d2"/>
<rect x="202.92" y="361.8" width="2.95" height="24.3" fill="#fef5ce"/>
<rect x="205.27" y="361.8" width="2.95" height="24.3" fill="#fef5cf"/>
<rect x="207.63" y="361.8" width="2.95" height="24.3" fill="#fef6d0"/>
<rect x="209.98" y="361.8" width="2.95" height="24.3" fill="#fef5ce"/>
<rect x="212.34" y="361.8" width="2.95" height="24.3" fill="#fef5ce"/>
<rect x="214.69" y="361.8" width="2.95" height="24.3" fill="#fef7d3"/>
<rect x="217.05" y="361.8" width="2.95" height="24.3" fill="#fef7d1"/>
<rect x="219.4" y="361.8" width="2.95" height="24.3" fill="#fef5cd"/>
<rect x="221.75" y="361.8" width="2.95" height="24.3" fill="#fff9d6"/>
<rect x="224.11" y="361.8" width="2.95" height="24.3" fill="#fef3cb"/>
<rect x="226.46" y="361.8" width="2.95" height="24.3" fill="#fef6d1"/>
<rect x="228.82" y="361.8" width="2.95" height="24.3" fill="#fef5cd"/>
<rect x="231.17" y="361.8" width="2.95" height="24.3" fill="#fef5ce"/>
<rect x="233.53" y="361.8" width="2.95" height="24.3" fill="#fef6d0"/>
<rect x="235.88" y="361.8" width="2.95" height="24.3" fill="#fef5cf"/>
<rect x="238.24" y="361.8" width="2.95" height="24.3" fill="#fef6d0"/>
<rect x="240.59" y="361.8" width="2.95" height="24.3" fill="#fef3c9"/>
<rect x="242.95" y="361.8" width="2.35" height="24.3" fill="#fef3c9"/>
<rect x="11.8" y="385.6" width="3.04" height="22.4" fill="#e6f1f3"/>
<rect x="14.24" y="385.6" width="3.04" height="22.4" fill="#e6efee"/>
<rect x="16.68" y="385.6" width="3.04" height="22.4" fill="#e6eeee"/>
<rect x="19.11" y="385.6" width="3.04" height="22.4" fill="#e6eeed"/>
<rect x="21.55" y="385.6" width="3.04" height="22.4" fill="#e6f2f5"/>
<rect x="23.99" y="385.6" width="3.04" height="22.4" fill="#e6f1f3"/>
<rect x="26.43" y="385.6" width="3.04" height="22.4" fill="#e6f2f5"/>
<rect x="28.86" y="385.6" width="3.04" height="22.4" fill="#e6efee"/>
<rect x="31.3" y="385.6" width="3.04" height="22.4" fill="#e6f0f1"/>
<rect x="33.74" y="385.6" width="3.04" height="22.4" fill="#e6eeee"/>
<rect x="36.17" y="385.6" width="3.04" height="22.4" fill="#e6f1f3"/>
<rect x="38.61" y="385.6" width="3.04" height="22.4" fill="#e6f2f6"/>
<rect x="41.05" y="385.6" width="3.04" height="22.4" fill="#e6efee"/>
<rect x="43.49" y="385.6" width="3.04" height="22.4" fill="#e6f2f6"/>
<rect x="45.92" y="385.6" width="3.04" height="22.4" fill="#e6f1f4"/>
<rect x="48.36" y="385.6" width="3.04" height="22.4" fill="#e6f0f0"/>
<rect x="50.8" y="385.6" width="3.01" height="22.4" fill="#b7d0e9"/>
<rect x="53.21" y="385.6" width="3.01" height="22.4" fill="#b7d5f3"/>
<rect x="55.62" y="385.6" width="3.01" height="22.4" fill="#b7d3ef"/>
<rect x="58.03" y="385.6" width="3.01" height="22.4" fill="#b7d2ed"/>
<rect x="60.44" y="385.6" width="3.01" height="22.4" fill="#b7d4f0"/>
<rect x="62.86" y="385.6" width="3.01" height="22.4" fill="#b7d4f0"/>
<rect x="65.27" y="385.6" width="3.01" height="22.4" fill="#b7d5f3"/>
<rect x="67.68" y="385.6" width="3.01" height="22.4" fill="#b7d1ec"/>
<rect x="70.09" y="385.6" width="3.01" height="22.4" fill="#b7d5f2"/>
<rect x="72.5" y="385.6" width="3.04" height="22.4" fill="#fcf8d8"/>
<rect x="74.94" y="385.6" width="3.04" height="22.4" fill="#fcf8d8"/>
<rect x="77.38" y="385.6" width="3.04" height="22.4" fill="#fcf6d3"/>
<rect x="79.82" y="385.6" width="3.04" height="22.4" fill="#fcf5d2"/>
<rect x="82.26" y="385.6" width="3.04" height="22.4" fill="#fcf8d7"/>
<rect x="84.71" y="385.6" width="3.04" height="22.4" fill="#fcf6d4"/>
<rect x="87.15" y="385.6" width="3.04" height="22.4" fill="#fcf6d4"/>
<rect x="89.59" y="385.6" width="3.04" height="22.4" fill="#fcf8d8"/>
<rect x="92.03" y="385.6" width="3.04" height="22.4" fill="#fcf6d3"/>
<rect x="94.47" y="385.6" width="3.04" height="22.4" fill="#fbf3cd"/>
<rect x="96.91" y="385.6" width="3.04" height="22.4" fill="#fcf5d3"/>
<rect x="99.35" y="385.6" width="3.04" height="22.4" fill="#fcf3ce"/>
<rect x="101.79" y="385.6" width="3.04" height="22.4" fill="#fcf7d6"/>
<rect x="104.24" y="385.6" width="3.04" height="22.4" fill="#fcf6d5"/>
<rect x="106.68" y="385.6" width="3.04" height="22.4" fill="#fcf5d2"/>
<rect x="109.12" y="385.6" width="3.04" height="22.4" fill="#fcf6d4"/>
<rect x="111.56" y="385.6" width="3.04" height="22.4" fill="#fcf7d6"/>
<rect x="114" y="385.6" width="2.93" height="22.4" fill="#fcf1c4"/>
<rect x="116.33" y="385.6" width="2.93" height="22.4" fill="#fcf3c8"/>
<rect x="118.67" y="385.6" width="2.93" height="22.4" fill="#fcf1c4"/>
<rect x="121" y="385.6" width="2.93" height="22.4" fill="#fcf3c7"/>
<rect x="123.33" y="385.6" width="2.93" height="22.4" fill="#fcf3c8"/>
<rect x="125.67" y="385.6" width="2.93" height="22.4" fill="#fcf3c9"/>
<rect x="128" y="385.6" width="2.93" height="22.4" fill="#fcf0c2"/>
<rect x="130.33" y="385.6" width="2.93" height="22.4" fill="#fcf2c7"/>
<rect x="132.67" y="385.6" width="2.93" height="22.4" fill="#fceebe"/>
<rect x="135" y="385.6" width="2.93" height="22.4" fill="#fcefc1"/>
<rect x="137.33" y="385.6" width="2.93" height="22.4" fill="#fceebe"/>
<rect x="139.67" y="385.6" width="2.93" height="22.4" fill="#fcf3c7"/>
<rect x="142" y="385.6" width="2.93" height="22.4" fill="#fcefc0"/>
<rect x="144.33" y="385.6" width="2.93" height="22.4" fill="#fcf1c4"/>
<rect x="146.67" y="385.6" width="2.93" height="22.4" fill="#fcf1c3"/>
<rect x="149" y="385.6" width="2.94" height="22.4" fill="#fdeaab"/>
<rect x="151.34" y="385.6" width="2.94" height="22.4" fill="#fde9a9"/>
<rect x="153.68" y="385.6" width="2.94" height="22.4" fill="#fdeaac"/>
<rect x="156.03" y="385.6" width="2.94" height="22.4" fill="#fdedb0"/>
<rect x="158.37" y="385.6" width="2.94" height="22.4" fill="#fdeaab"/>
<rect x="160.71" y="385.6" width="2.94" height="22.4" fill="#fdebad"/>
<rect x="163.05" y="385.6" width="2.94" height="22.4" fill="#fdecae"/>
<rect x="165.39" y="385.6" width="2.94" height="22.4" fill="#fdeaaa"/>
<rect x="167.74" y="385.6" width="2.94" height="22.4" fill="#fde8a7"/>
<rect x="170.08" y="385.6" width="2.94" height="22.4" fill="#fde9a9"/>
<rect x="172.42" y="385.6" width="2.94" height="22.4" fill="#fdecae"/>
<rect x="174.76" y="385.6" width="2.94" height="22.4" fill="#fde8a6"/>
<rect x="177.11" y="385.6" width="2.94" height="22.4" fill="#fde9a9"/>
<rect x="179.45" y="385.6" width="2.94" height="22.4" fill="#fdecae"/>
<rect x="181.79" y="385.6" width="2.94" height="22.4" fill="#fdebad"/>
<rect x="184.13" y="385.6" width="2.94" height="22.4" fill="#fdeaab"/>
<rect x="186.47" y="385.6" width="2.94" height="22.4" fill="#fdebad"/>
<rect x="188.82" y="385.6" width="2.94" height="22.4" fill="#fdeaab"/>
<rect x="191.16" y="385.6" width="2.94" height="22.4" fill="#fde8a7"/>
<rect x="193.5" y="385.6" width="2.95" height="22.4" fill="#5c8cce"/>
<rect x="195.85" y="385.6" width="2.95" height="22.4" fill="#6191d0"/>
<rect x="198.21" y="385.6" width="2.95" height="22.4" fill="#6999d4"/>
<rect x="200.56" y="385.6" width="2.95" height="22.4" fill="#81afe1"/>
<rect x="202.92" y="385.6" width="2.95" height="22.4" fill="#7fade0"/>
<rect x="205.27" y="385.6" width="2.95" height="22.4" fill="#80aee0"/>
<rect x="207.63" y="385.6" width="2.95" height="22.4" fill="#7caade"/>
<rect x="209.98" y="385.6" width="2.95" height="22.4" fill="#83b1e2"/>
<rect x="212.34" y="385.6" width="2.95" height="22.4" fill="#7eacdf"/>
<rect x="214.69" y="385.6" width="2.95" height="22.4" fill="#86b4e3"/>
<rect x="217.05" y="385.6" width="2.95" height="22.4" fill="#98c0e8"/>
<rect x="219.4" y="385.6" width="2.95" height="22.4" fill="#a6ceef"/>
<rect x="221.75" y="385.6" width="2.95" height="22.4" fill="#7babde"/>
<rect x="224.11" y="385.6" width="2.95" height="22.4" fill="#74a4db"/>
<rect x="226.46" y="385.6" width="2.95" height="22.4" fill="#82b2e2"/>
<rect x="228.82" y="385.6" width="2.95" height="22.4" fill="#406cb6"/>
<rect x="231.17" y="385.6" width="2.95" height="22.4" fill="#3662b1"/>
<rect x="233.53" y="385.6" width="2.95" height="22.4" fill="#3d69b5"/>
<rect x="235.88" y="385.6" width="2.95" height="22.4" fill="#426eb8"/>
<rect x="238.24" y="385.6" width="2.95" height="22.4" fill="#3f6bb6"/>
<rect x="240.59" y="385.6" width="2.95" height="22.4" fill="#4571b9"/>
<rect x="242.95" y="385.6" width="2.35" height="22.4" fill="#90bce8"/>
<rect x="68.8" y="361.8" width="2.1" height="23.8" fill="#fbdc98"/>
<rect x="105.5" y="361.8" width="2.1" height="23.8" fill="#fbdf9c"/>
<rect x="107.6" y="361.8" width="2.1" height="23.8" fill="#fad994"/>
<rect x="245.9" y="339.2" width="1.8" height="22.6" fill="#dc4a32"/>
<rect x="247.7" y="339.2" width="7" height="22.6" fill="#f4a566"/>
<rect x="245.9" y="361.8" width="2.6" height="23.8" fill="#f5a565"/>
<rect x="248.5" y="361.8" width="6.2" height="23.8" fill="#fde9ae"/>
<rect x="245.9" y="385.6" width="8.8" height="22.4" fill="#f5a262"/>
<rect x="245.9" y="385.6" width="1.2" height="22.4" fill="#ec7a52"/>
<path d="M12,408.4 l-0.31,4.62 M12.94,408.4 l0.34,5.64 M14.38,408.4 l0.26,4.76 M15.68,408.4 l0.46,4.74 M17.16,408.4 l0.54,4.87 M18.3,408.4 l0.59,5.33 M19.7,408.4 l-0.08,4.77 M20.91,408.4 l-0.37,5.08 M22,408.4 l-0.58,5.73 M23.23,408.4 l-0.58,5.25 M24.33,408.4 l0.01,5.56 M25.27,408.4 l0.35,6.17 M26.75,408.4 l-0.28,4.68 M27.67,408.4 l-0.28,5.82 M28.65,408.4 l0.49,5.22 M30.04,408.4 l-0.42,4.94 M31.49,408.4 l0.24,5.47 M32.45,408.4 l0.23,4.6 M33.6,408.4 l0.53,4.62 M34.88,408.4 l-0.5,5.86 M36.3,408.4 l0.44,4.61 M37.47,408.4 l0.06,5.08 M38.93,408.4 l-0.44,4.96 M40.14,408.4 l-0.47,4.91 M41.14,408.4 l-0.36,4.59 M42.23,408.4 l0.31,5.02 M43.3,408.4 l-0.39,5.35 M44.41,408.4 l-0.3,4.53 M45.32,408.4 l0.06,5.75 M46.33,408.4 l0.52,5.31 M47.3,408.4 l-0.08,5.89 M48.49,408.4 l-0.13,5.92 M49.7,408.4 l0.58,5.67 M50.8,408.4 l0.25,5.91 M52.08,408.4 l-0.18,5.19 M53.02,408.4 l-0.52,4.72 M54.36,408.4 l-0.4,4.93 M55.31,408.4 l0.44,5.93 M56.61,408.4 l-0.31,4.98 M57.69,408.4 l-0.41,5.28 M58.86,408.4 l0.55,4.95 M60.34,408.4 l-0.31,5.43 M61.82,408.4 l-0.17,5.03 M62.72,408.4 l-0.03,5.15 M63.92,408.4 l0.01,4.84 M64.83,408.4 l-0.49,4.95 M65.97,408.4 l-0.57,4.57 M67.05,408.4 l0.1,4.9 M68.27,408.4 l0.19,5.78 M69.59,408.4 l-0.13,5.99 M70.69,408.4 l-0.42,6.17 M72.03,408.4 l-0.55,5.59 M73.43,408.4 l0.15,6.02 M74.77,408.4 l-0.43,5.88 M75.98,408.4 l0.4,5.36 M77.36,408.4 l0.1,5.9 M78.8,408.4 l0.23,5.66 M79.84,408.4 l-0.44,4.55 M80.95,408.4 l0.4,4.68 M82.19,408.4 l0.15,5.57 M83.5,408.4 l-0.6,5.33 M84.88,408.4 l0,5.77 M86.1,408.4 l-0.52,5.62 M87.44,408.4 l-0.51,4.93 M88.5,408.4 l-0.35,5.74 M89.84,408.4 l-0.01,6.16 M90.97,408.4 l0.22,5.31 M92.33,408.4 l0.17,5.55 M93.28,408.4 l-0.3,4.75 M94.62,408.4 l0.08,5.02 M95.53,408.4 l-0.28,4.6 M96.84,408.4 l0.21,5.68 M97.91,408.4 l-0.04,5.38 M99.09,408.4 l0.47,4.7 M100.11,408.4 l0.52,6.16 M101.02,408.4 l0.38,5.28 M102.5,408.4 l-0.28,5.26 M103.53,408.4 l-0.35,6.11 M104.78,408.4 l0.03,4.74 M106.25,408.4 l0.38,4.73 M107.45,408.4 l0.24,6.01 M108.49,408.4 l-0.02,6.03 M109.41,408.4 l-0.01,4.51 M110.58,408.4 l-0.43,5.01 M111.68,408.4 l0.41,5.04 M112.58,408.4 l0.41,5.78 M113.56,408.4 l0.26,6.07 M115,408.4 l-0.15,4.99 M116.13,408.4 l0.11,6.2 M117.25,408.4 l-0.27,5.23 M118.18,408.4 l0.4,4.67 M119.25,408.4 l-0.3,6.09 M120.31,408.4 l-0.37,5.37 M121.43,408.4 l0.46,6.13 M122.82,408.4 l0.5,5.57 M124.28,408.4 l0.26,5.43 M125.21,408.4 l-0.06,5.74 M126.57,408.4 l-0.26,5.6 M127.49,408.4 l-0.45,6.08 M128.68,408.4 l-0.24,5.08 M130.02,408.4 l-0.29,6.16 M131.32,408.4 l0.07,5.01 M132.45,408.4 l-0.41,4.78 M133.48,408.4 l-0,6.04 M134.51,408.4 l0.6,6.04 M135.68,408.4 l-0.37,4.74 M136.63,408.4 l-0.49,5.08 M137.68,408.4 l0.08,4.94 M139.11,408.4 l-0.1,5.77 M140.26,408.4 l-0.15,5.39 M141.36,408.4 l-0.27,4.61 M142.84,408.4 l0,4.71 M144.12,408.4 l-0.34,5.97 M145.18,408.4 l-0.12,4.92 M146.35,408.4 l0.42,6.12 M147.77,408.4 l-0.56,4.54 M149.1,408.4 l-0.03,6.02 M150.35,408.4 l-0.13,4.5 M151.81,408.4 l0.43,5.9 M153.29,408.4 l-0.47,4.92 M154.28,408.4 l0.22,5.39 M155.75,408.4 l0.18,5.73 M157.11,408.4 l0.06,5.28 M158.03,408.4 l-0.32,5.83 M159.48,408.4 l-0.24,5.6 M160.46,408.4 l0.16,4.93 M161.78,408.4 l-0.52,4.69 M162.99,408.4 l-0.13,5.49 M164.03,408.4 l-0.59,5.52 M165.11,408.4 l0.55,5.28 M166.39,408.4 l-0.03,6 M167.43,408.4 l0.55,4.92 M168.76,408.4 l-0.57,5.02 M169.96,408.4 l-0.1,5.65 M171.01,408.4 l0.51,5.63 M172.05,408.4 l-0.19,4.56 M173.2,408.4 l-0.36,5.66 M174.58,408.4 l0.01,5.76 M175.6,408.4 l-0.23,6.15 M176.99,408.4 l-0.33,4.89 M178.35,408.4 l0.54,5 M179.55,408.4 l-0.33,4.82 M180.7,408.4 l0.54,5.63 M181.68,408.4 l-0.34,5.17 M183.17,408.4 l-0.54,4.74 M184.11,408.4 l0.48,5.17 M185.54,408.4 l0.6,5.75 M186.99,408.4 l-0.38,5.06 M188.46,408.4 l-0.56,5.77 M189.75,408.4 l-0.15,5.14 M190.85,408.4 l-0.6,4.79 M191.92,408.4 l0.55,5.1 M192.9,408.4 l-0.35,6.14 M194.01,408.4 l0.39,5.9 M195.17,408.4 l-0.03,4.58 M196.29,408.4 l-0.37,6.06 M197.41,408.4 l-0.56,6.02 M198.56,408.4 l0.32,5.88 M199.48,408.4 l-0.52,4.56 M200.93,408.4 l0.3,4.94 M202.37,408.4 l-0.27,5.08 M203.85,408.4 l-0.29,5.55 M205.18,408.4 l-0.27,5.04 M206.08,408.4 l0.5,5.78 M207.36,408.4 l-0.57,6.1 M208.4,408.4 l0.55,5.31 M209.87,408.4 l-0.3,5.16 M211.03,408.4 l0.51,5.34 M212.04,408.4 l0.29,5.86 M213.43,408.4 l0.13,5.81 M214.53,408.4 l-0.17,5.04 M215.9,408.4 l-0.36,4.63 M217.25,408.4 l-0.52,4.92 M218.17,408.4 l-0.21,5.44 M219.66,408.4 l0.59,6 M220.72,408.4 l-0.48,4.64 M221.92,408.4 l-0.06,5.71 M222.96,408.4 l0.14,5.21 M224.26,408.4 l0.42,5.77 M225.56,408.4 l0.41,4.71 M226.64,408.4 l-0.15,5.46 M227.98,408.4 l-0.3,4.84 M229.03,408.4 l0.46,4.76 M230.28,408.4 l-0.12,5.05 M231.77,408.4 l-0.32,5.36 M233.16,408.4 l0.59,5.61 M234.12,408.4 l0.38,5.31 M235.52,408.4 l-0.55,6.05 M236.6,408.4 l-0.37,4.7 M238.08,408.4 l0.52,5.49 M239.21,408.4 l-0.06,5.97 M240.26,408.4 l0.53,5.82 M241.22,408.4 l0.14,5.51 M242.26,408.4 l-0.43,5.13 M243.28,408.4 l0.12,4.93 M244.57,408.4 l-0.59,4.85 M246.97,408.4 l-0.23,4.81 M247.99,408.4 l0.06,5.85 M248.93,408.4 l-0.13,4.67 M250.16,408.4 l-0.49,5.59 M251.16,408.4 l-0.11,5.68 M252.23,408.4 l0.54,5.02 M253.32,408.4 l-0.17,5.46 M254.47,408.4 l0.6,5.97" stroke="#a0a0a8" stroke-width="0.8" fill="none"/>
<rect x="11.8" y="409.6" width="242.8" height="3.6" fill="#cfcfd6"/>
<path d="M11.8,338.4 L13.13,338.4 L13.73,337.7 L14.76,337.78 L15.76,337.72 L16.82,338.44 L17.44,338.05 L18.68,337.69 L19.37,337.98 L20.34,338.1 L21.09,338.32 L22.21,337.67 L22.92,338.11 L24.32,337.63 L25.12,338.47 L26.66,337.62 L27.74,338.55 L29.27,338.21 L30.77,337.98 L32.2,338.44 L33.58,338.38 L34.59,337.75 L36.02,338.42 L36.84,338.2 L37.95,338.22 L38.68,338.35 L40,337.7 L40.64,338.04 L42,338.56 L43.44,338.48 L44.64,338.05 L45.87,338.29 L46.89,338.02 L47.91,337.94 L48.96,338.16 L49.58,337.98 L50.67,338.36 L52.03,337.82 L53.09,338.42 L54.17,338.49 L54.89,338.17 L55.59,338.16 L56.7,338.56 L57.93,338.52 L59.27,337.82 L60.38,338.55 L61.48,338.22 L63.03,338.46 L64.49,337.6 L65.82,337.79 L66.62,337.62 L67.71,337.64 L69.22,338.43 L70.61,337.67 L71.28,338.25 L72.63,338.44 L74.13,338.33 L75.55,338.46 L76.65,337.68 L77.46,338.34 L78.56,338.28 L79.2,338.42 L79.96,337.66 L81.24,337.7 L82.01,337.82 L82.72,338.07 L83.96,338.24 L85.43,338.04 L86.61,337.72 L87.32,337.61 L88.55,338.21 L89.95,338.34 L91.54,338.02 L92.5,337.84 L93.54,338.42 L94.88,338.55 L96.3,338.35 L97.54,337.62 L98.73,337.94 L99.64,338.6 L100.27,338.45 L101.49,338.17 L102.6,337.7 L103.33,338.37 L104.59,338.58 L105.19,338.25 L105.9,338.24 L106.72,338.02 L107.91,338.4 L109.13,338.13 L109.87,337.66 L110.71,338.45 L111.41,337.96 L112.88,337.82 L113.88,338.34 L114.49,337.96 L115.65,338.25 L116.9,338.16 L118.44,337.87 L119.29,337.7 L119.93,338.07 L120.94,338.36 L121.59,337.82 L122.21,338.05 L123.75,338.46 L124.55,337.99 L125.65,337.96 L127.07,338.43 L127.98,338.3 L128.63,337.71 L130.01,337.88 L130.61,337.76 L131.96,338.13 L133.3,338.15 L134.13,338.49 L134.96,338.56 L135.9,337.85 L137.19,337.75 L138.5,338.33 L139.66,338.16 L141.04,338.08 L141.91,337.96 L143.47,338.38 L144.95,338.58 L145.82,338.36 L147.16,337.66 L148.51,338.27 L149.99,338.27 L150.82,337.69 L152.06,337.91 L153.32,337.62 L154.39,337.76 L155.69,337.74 L156.72,337.88 L157.9,338.29 L158.71,337.98 L159.38,337.69 L160.13,338.57 L160.84,337.67 L161.78,338.46 L162.41,338.56 L163.7,337.97 L165,337.86 L165.67,338.01 L166.63,337.78 L168.05,337.71 L168.71,337.73 L170.23,337.66 L170.94,338.39 L171.65,338.57 L173.1,337.79 L174.33,337.77 L175.56,338.31 L176.26,338.5 L177.62,338.4 L178.54,338.18 L179.16,338.34 L180.04,337.88 L181.01,338.28 L182.57,338.1 L184.02,337.98 L184.66,338.19 L185.69,337.83 L186.64,337.9 L187.78,338.38 L189.24,338.51 L190.66,338.43 L191.26,338.4 L192.62,337.62 L193.23,338.11 L194.32,337.8 L195.1,338.11 L196.05,337.77 L196.91,337.66 L197.79,338.39 L199.09,338.1 L199.8,337.96 L200.48,337.81 L201.78,337.81 L203.01,338.24 L204.01,338.21 L205.5,338.51 L206.99,338.57 L207.8,338.34 L209.3,338.1 L210.28,337.72 L211.11,338.14 L212.24,337.85 L213.59,337.95 L214.54,338.27 L215.3,337.76 L216.56,337.86 L217.33,338.16 L218.7,338.02 L219.43,338.14 L220.91,338.36 L221.71,338.3 L223.01,337.76 L223.76,338.44 L224.61,338.27 L225.73,338.44 L226.66,338.41 L228.24,337.87 L228.94,337.64 L229.64,338.22 L231.22,337.81 L232.56,338.17 L233.35,337.96 L234.06,338.39 L235.05,338.57 L236.05,337.81 L237.34,338.1 L238.57,338.14 L239.32,338 L240.32,337.86 L241.83,338.17 L243,337.85 L244.02,338.37" fill="none" stroke="#111" stroke-width="1.1"/>
<rect x="11.8" y="337.9" width="233.5" height="1.4" fill="#2a2a2a"/>
<path d="M51.5,337.8 L51.5,334.5 L130.4,334.5 L130.4,337.8" fill="none" stroke="#333" stroke-width="0.5"/>
<path d="M91.2,334.5 L91.2,332.1 L237,332.1 L237,335" fill="none" stroke="#333" stroke-width="0.5"/>
<path d="M163.5,332.1 L163.5,328.7 L248.5,328.7 L248.5,334.6" fill="none" stroke="#333" stroke-width="0.5"/>
<path d="M200,337.5 L200,334.6 L236,334.6 L236,335" fill="none" stroke="#333" stroke-width="0.5"/>
<path d="M246.3,338 L246.3,334.6 L250.6,334.6 L250.6,338" fill="none" stroke="#333" stroke-width="0.5"/>
<path d="M222,337.6 L222,335.8 L244,335.8 L244,337.6" fill="none" stroke="#333" stroke-width="0.5"/>
<path d="M11.6,351 L10,351 L10,374 L11.6,374" fill="none" stroke="#333" stroke-width="0.5"/>
<path d="M10,362.8 L5.6,362.8 L5.6,396.9 L11.6,396.9" fill="none" stroke="#333" stroke-width="0.5"/>
<text x="140.1" y="323.2" font-size="5.75" text-anchor="middle" fill="#222">G<tspan dy="1.3" font-size="3.8">2</tspan><tspan dy="-1.3">–M Gene signature</tspan></text>
<text x="266.2" y="349.4" font-size="4.6" text-anchor="middle" fill="#222" stroke="#222" stroke-width="0.07">1 mg/kg</text>
<text x="266.2" y="354.9" font-size="4.6" text-anchor="middle" fill="#222" stroke="#222" stroke-width="0.07">OP-1250</text>
<text x="266.2" y="372.6" font-size="4.6" text-anchor="middle" fill="#222" stroke="#222" stroke-width="0.07">25 mg/kg</text>
<text x="266.2" y="378.2" font-size="4.6" text-anchor="middle" fill="#222" stroke="#222" stroke-width="0.07">Palbociclib</text>
<text x="266.2" y="391.2" font-size="4.6" text-anchor="middle" fill="#222" stroke="#222" stroke-width="0.07">1 mg/kg</text>
<text x="266.2" y="396.4" font-size="4.6" text-anchor="middle" fill="#222" stroke="#222" stroke-width="0.07">OP-1250</text>
<text x="266.2" y="401.8" font-size="4.6" text-anchor="middle" fill="#222" stroke="#222" stroke-width="0.07">+ 25 mg/kg</text>
<text x="266.2" y="407.2" font-size="4.6" text-anchor="middle" fill="#222" stroke="#222" stroke-width="0.07">Palbociclib</text>
<defs><linearGradient id="hg" x1="0" x2="1" y1="0" y2="0"><stop offset="0" stop-color="#4670b2"/><stop offset="0.16" stop-color="#86aed8"/><stop offset="0.3" stop-color="#cfe2ef"/><stop offset="0.4" stop-color="#f6f6e6"/><stop offset="0.52" stop-color="#fbe8a0"/><stop offset="0.7" stop-color="#f7b672"/><stop offset="0.86" stop-color="#e8714c"/><stop offset="1" stop-color="#c9342a"/></linearGradient></defs>
<rect x="10.8" y="424.8" width="44" height="2.7" fill="url(#hg)"/>
<text x="10" y="432.3" font-size="4.5" text-anchor="middle" fill="#333" stroke="#333" stroke-width="0.07">−4</text>
<text x="18" y="432.3" font-size="4.5" text-anchor="middle" fill="#333" stroke="#333" stroke-width="0.07">−3</text>
<text x="25.2" y="432.3" font-size="4.5" text-anchor="middle" fill="#333" stroke="#333" stroke-width="0.07">−2</text>
<text x="32.2" y="432.3" font-size="4.5" text-anchor="middle" fill="#333" stroke="#333" stroke-width="0.07">−1</text>
<text x="38.9" y="432.3" font-size="4.5" text-anchor="middle" fill="#333" stroke="#333" stroke-width="0.07">0</text>
<text x="46.5" y="432.3" font-size="4.5" text-anchor="middle" fill="#333" stroke="#333" stroke-width="0.07">1</text>
<text x="54" y="432.3" font-size="4.5" text-anchor="middle" fill="#333" stroke="#333" stroke-width="0.07">2</text>
<line x1="308" y1="413" x2="496.3" y2="413" stroke="#ececec" stroke-width="0.5" stroke-linecap="butt"/>
<line x1="308" y1="399.65" x2="496.3" y2="399.65" stroke="#f4f4f4" stroke-width="0.5" stroke-linecap="butt"/>
<line x1="308" y1="386.3" x2="496.3" y2="386.3" stroke="#ececec" stroke-width="0.5" stroke-linecap="butt"/>
<line x1="308" y1="372.95" x2="496.3" y2="372.95" stroke="#f4f4f4" stroke-width="0.5" stroke-linecap="butt"/>
<line x1="308" y1="359.6" x2="496.3" y2="359.6" stroke="#ececec" stroke-width="0.5" stroke-linecap="butt"/>
<line x1="308" y1="346.25" x2="496.3" y2="346.25" stroke="#f4f4f4" stroke-width="0.5" stroke-linecap="butt"/>
<line x1="308" y1="332.9" x2="496.3" y2="332.9" stroke="#ececec" stroke-width="0.5" stroke-linecap="butt"/>
<line x1="308" y1="319.55" x2="496.3" y2="319.55" stroke="#f4f4f4" stroke-width="0.5" stroke-linecap="butt"/>
<line x1="308" y1="306.2" x2="496.3" y2="306.2" stroke="#ececec" stroke-width="0.5" stroke-linecap="butt"/>
<line x1="326.8" y1="301.5" x2="326.8" y2="417.7" stroke="#ececec" stroke-width="0.5" stroke-linecap="butt"/>
<line x1="357.1" y1="301.5" x2="357.1" y2="417.7" stroke="#ececec" stroke-width="0.5" stroke-linecap="butt"/>
<line x1="387.3" y1="301.5" x2="387.3" y2="417.7" stroke="#ececec" stroke-width="0.5" stroke-linecap="butt"/>
<line x1="418" y1="301.5" x2="418" y2="417.7" stroke="#ececec" stroke-width="0.5" stroke-linecap="butt"/>
<line x1="448.2" y1="301.5" x2="448.2" y2="417.7" stroke="#ececec" stroke-width="0.5" stroke-linecap="butt"/>
<line x1="478.2" y1="301.5" x2="478.2" y2="417.7" stroke="#ececec" stroke-width="0.5" stroke-linecap="butt"/>
<line x1="308" y1="301.5" x2="308" y2="417.7" stroke="#555" stroke-width="0.7" stroke-linecap="butt"/>
<line x1="308" y1="417.7" x2="496.3" y2="417.7" stroke="#555" stroke-width="0.7" stroke-linecap="butt"/>
<line x1="306.5" y1="306.2" x2="308" y2="306.2" stroke="#555" stroke-width="0.5" stroke-linecap="butt"/>
<text x="305.7" y="307.8" font-size="4.6" text-anchor="end" fill="#444" stroke="#444" stroke-width="0.07">1.0</text>
<line x1="306.5" y1="332.9" x2="308" y2="332.9" stroke="#555" stroke-width="0.5" stroke-linecap="butt"/>
<text x="305.7" y="334.5" font-size="4.6" text-anchor="end" fill="#444" stroke="#444" stroke-width="0.07">0.5</text>
<line x1="306.5" y1="359.6" x2="308" y2="359.6" stroke="#555" stroke-width="0.5" stroke-linecap="butt"/>
<text x="305.7" y="361.2" font-size="4.6" text-anchor="end" fill="#444" stroke="#444" stroke-width="0.07">0.0</text>
<line x1="306.5" y1="386.3" x2="308" y2="386.3" stroke="#555" stroke-width="0.5" stroke-linecap="butt"/>
<text x="305.7" y="387.9" font-size="4.6" text-anchor="end" fill="#444" stroke="#444" stroke-width="0.07">−0.5</text>
<line x1="306.5" y1="413" x2="308" y2="413" stroke="#555" stroke-width="0.5" stroke-linecap="butt"/>
<text x="305.7" y="414.6" font-size="4.6" text-anchor="end" fill="#444" stroke="#444" stroke-width="0.07">−1.0</text>
<line x1="326.8" y1="417.7" x2="326.8" y2="419.2" stroke="#555" stroke-width="0.5" stroke-linecap="butt"/>
<text x="326.8" y="424.6" font-size="4.8" text-anchor="middle" fill="#444" stroke="#444" stroke-width="0.07">E2 Early</text>
<line x1="357.1" y1="417.7" x2="357.1" y2="419.2" stroke="#555" stroke-width="0.5" stroke-linecap="butt"/>
<text x="357.1" y="424.6" font-size="4.8" text-anchor="middle" fill="#444" stroke="#444" stroke-width="0.07">Apoptosis</text>
<line x1="387.3" y1="417.7" x2="387.3" y2="419.2" stroke="#555" stroke-width="0.5" stroke-linecap="butt"/>
<text x="387.3" y="424.6" font-size="4.8" text-anchor="middle" fill="#444" stroke="#444" stroke-width="0.07">E2 Late</text>
<line x1="418" y1="417.7" x2="418" y2="419.2" stroke="#555" stroke-width="0.5" stroke-linecap="butt"/>
<text x="418" y="424.6" font-size="4.8" text-anchor="middle" fill="#444" stroke="#444" stroke-width="0.07">DNA Repair</text>
<line x1="448.2" y1="417.7" x2="448.2" y2="419.2" stroke="#555" stroke-width="0.5" stroke-linecap="butt"/>
<text x="448.2" y="424.6" font-size="4.8" text-anchor="middle" fill="#444" stroke="#444" stroke-width="0.07">G<tspan dy="1.2" font-size="3.6">2</tspan><tspan dy="-1.2">–M</tspan></text>
<line x1="478.2" y1="417.7" x2="478.2" y2="419.2" stroke="#555" stroke-width="0.5" stroke-linecap="butt"/>
<text x="478.2" y="424.6" font-size="4.8" text-anchor="middle" fill="#444" stroke="#444" stroke-width="0.07">E2F</text>
<text x="402.5" y="433.3" font-size="6.2" text-anchor="middle" fill="#111" stroke="#111" stroke-width="0.07">Gene signature</text>
<text x="294" y="360.3" font-size="4.65" text-anchor="middle" fill="#000" transform="rotate(-90 294 360.3)" stroke="#000" stroke-width="0.07">Deviation of combination therapy from monotherapies</text>
<text x="498.5" y="353.4" font-size="4.3" text-anchor="start" fill="#000" stroke="#000" stroke-width="0.07">State</text>
<text x="498.5" y="360.9" font-size="4.3" text-anchor="start" fill="#e0305c" stroke="#e0305c" stroke-width="0.07">Enhanced</text>
<text x="498.5" y="367.9" font-size="4.3" text-anchor="start" fill="#4fc0d6" stroke="#4fc0d6" stroke-width="0.07">Repressed</text>
<path d="M323.37 361.08h1.3v1.3h-1.3zM325.15 368.41h1.3v1.3h-1.3zM329.55 364.71h1.3v1.3h-1.3zM324.56 378.61h1.3v1.3h-1.3zM326.91 360.05h1.3v1.3h-1.3zM325.91 368.77h1.3v1.3h-1.3zM325.23 378.04h1.3v1.3h-1.3zM325.61 360.67h1.3v1.3h-1.3zM327.67 361.01h1.3v1.3h-1.3zM324.23 366.01h1.3v1.3h-1.3zM325 377.31h1.3v1.3h-1.3zM324.35 367.84h1.3v1.3h-1.3zM324.44 359.75h1.3v1.3h-1.3zM328.39 362.19h1.3v1.3h-1.3zM327.77 367.98h1.3v1.3h-1.3zM328.15 361.89h1.3v1.3h-1.3zM326.68 373.01h1.3v1.3h-1.3zM328.67 365.48h1.3v1.3h-1.3zM329.72 363.17h1.3v1.3h-1.3zM327.23 370.04h1.3v1.3h-1.3zM327.45 361.69h1.3v1.3h-1.3zM331.22 360.24h1.3v1.3h-1.3zM326.42 364.38h1.3v1.3h-1.3zM329.68 360.88h1.3v1.3h-1.3zM323.43 365.7h1.3v1.3h-1.3zM326.08 368.22h1.3v1.3h-1.3zM324.61 377.76h1.3v1.3h-1.3zM329.07 360.62h1.3v1.3h-1.3zM326.24 368.94h1.3v1.3h-1.3zM330.28 361.6h1.3v1.3h-1.3zM327.98 373.68h1.3v1.3h-1.3zM324.56 363.83h1.3v1.3h-1.3zM327.39 361.96h1.3v1.3h-1.3zM325.39 373.83h1.3v1.3h-1.3zM329.44 361.28h1.3v1.3h-1.3zM329.83 363.43h1.3v1.3h-1.3zM326.79 362.24h1.3v1.3h-1.3zM327.08 362.05h1.3v1.3h-1.3zM326.2 379.9h1.3v1.3h-1.3zM326.11 370.37h1.3v1.3h-1.3zM323.62 367.25h1.3v1.3h-1.3zM328.68 366.88h1.3v1.3h-1.3zM325.89 361.08h1.3v1.3h-1.3zM328.94 364.89h1.3v1.3h-1.3zM324.89 365.03h1.3v1.3h-1.3zM323.13 363h1.3v1.3h-1.3zM323.69 369.12h1.3v1.3h-1.3zM324.42 361.06h1.3v1.3h-1.3zM327.02 364.35h1.3v1.3h-1.3zM325.14 373.77h1.3v1.3h-1.3zM326.33 366.79h1.3v1.3h-1.3zM326.34 366.05h1.3v1.3h-1.3zM323.53 362.05h1.3v1.3h-1.3zM328.29 366.61h1.3v1.3h-1.3zM328.23 367.22h1.3v1.3h-1.3zM330.27 360.54h1.3v1.3h-1.3zM325.32 371.72h1.3v1.3h-1.3zM329.07 363.94h1.3v1.3h-1.3zM327.25 370.16h1.3v1.3h-1.3zM325.25 359.37h1.3v1.3h-1.3zM323 362.63h1.3v1.3h-1.3zM327.06 369.64h1.3v1.3h-1.3zM329.17 365.87h1.3v1.3h-1.3zM326.17 366h1.3v1.3h-1.3zM324.04 365.22h1.3v1.3h-1.3zM326.21 374.32h1.3v1.3h-1.3zM322.6 360.73h1.3v1.3h-1.3zM330.84 361.24h1.3v1.3h-1.3zM323.1 363.92h1.3v1.3h-1.3zM327.12 376.67h1.3v1.3h-1.3zM325.94 366.34h1.3v1.3h-1.3zM323.32 367.28h1.3v1.3h-1.3zM329.89 359.95h1.3v1.3h-1.3zM325.36 362.7h1.3v1.3h-1.3zM324.14 366.85h1.3v1.3h-1.3zM329.25 360.51h1.3v1.3h-1.3zM330.34 359.27h1.3v1.3h-1.3zM326.18 364.55h1.3v1.3h-1.3zM328.28 364.85h1.3v1.3h-1.3zM329.14 360.04h1.3v1.3h-1.3zM325.8 376.07h1.3v1.3h-1.3zM327.34 371.77h1.3v1.3h-1.3zM325.65 368.74h1.3v1.3h-1.3zM325.8 359.67h1.3v1.3h-1.3zM326.77 371.71h1.3v1.3h-1.3zM325.08 408.08h1.3v1.3h-1.3zM327.93 402.18h1.3v1.3h-1.3zM326.81 394.19h1.3v1.3h-1.3zM325.5 388.64h1.3v1.3h-1.3z" fill="#4dbdd6"/>
<path d="M325.94 351.6h1.3v1.3h-1.3zM326.98 356.53h1.3v1.3h-1.3zM328.77 355.95h1.3v1.3h-1.3zM324.24 347.05h1.3v1.3h-1.3zM327.72 338.35h1.3v1.3h-1.3zM326.81 350.39h1.3v1.3h-1.3zM321.26 358.18h1.3v1.3h-1.3zM323.37 357.89h1.3v1.3h-1.3zM328.41 352.34h1.3v1.3h-1.3zM327.61 357.51h1.3v1.3h-1.3zM324.9 350.14h1.3v1.3h-1.3zM331.96 358.72h1.3v1.3h-1.3zM324.14 353.82h1.3v1.3h-1.3zM323.58 351.02h1.3v1.3h-1.3zM324.9 358.13h1.3v1.3h-1.3zM328.54 352.87h1.3v1.3h-1.3zM325.91 354.74h1.3v1.3h-1.3zM324.95 358.72h1.3v1.3h-1.3zM324.74 351.37h1.3v1.3h-1.3zM328.28 346.68h1.3v1.3h-1.3zM321.54 358.59h1.3v1.3h-1.3zM324.99 340.73h1.3v1.3h-1.3zM327.74 352.82h1.3v1.3h-1.3zM327.5 356.42h1.3v1.3h-1.3zM324.38 354.2h1.3v1.3h-1.3zM328.57 354.66h1.3v1.3h-1.3zM325.3 354.69h1.3v1.3h-1.3zM326.82 347.31h1.3v1.3h-1.3zM325.15 344.55h1.3v1.3h-1.3zM325.29 348.38h1.3v1.3h-1.3zM325.13 343.47h1.3v1.3h-1.3zM324.93 356.56h1.3v1.3h-1.3zM326.46 344.62h1.3v1.3h-1.3zM323.66 354.46h1.3v1.3h-1.3zM324.6 351.51h1.3v1.3h-1.3zM327.35 348.23h1.3v1.3h-1.3zM329.33 355.15h1.3v1.3h-1.3zM325.35 357.33h1.3v1.3h-1.3zM323.45 357.43h1.3v1.3h-1.3zM323.57 357.74h1.3v1.3h-1.3zM323.43 355.23h1.3v1.3h-1.3zM323.44 351.71h1.3v1.3h-1.3zM327.36 357.73h1.3v1.3h-1.3zM328.71 351.34h1.3v1.3h-1.3zM325.53 358.43h1.3v1.3h-1.3zM325.48 348.68h1.3v1.3h-1.3zM329.65 355.95h1.3v1.3h-1.3zM327.76 357.38h1.3v1.3h-1.3zM321.99 355.95h1.3v1.3h-1.3zM326.85 339.27h1.3v1.3h-1.3zM325.96 357.56h1.3v1.3h-1.3zM324.08 358.46h1.3v1.3h-1.3zM328.37 356.43h1.3v1.3h-1.3zM328.93 358.73h1.3v1.3h-1.3zM324.84 355.77h1.3v1.3h-1.3zM328.22 348.82h1.3v1.3h-1.3zM329.03 354.56h1.3v1.3h-1.3zM327.12 354.35h1.3v1.3h-1.3zM323.22 353.04h1.3v1.3h-1.3zM329.73 353.54h1.3v1.3h-1.3zM327.65 351.88h1.3v1.3h-1.3zM325.76 352.28h1.3v1.3h-1.3zM321.29 357.45h1.3v1.3h-1.3zM325.97 356.66h1.3v1.3h-1.3zM327.35 357.62h1.3v1.3h-1.3zM324.81 349.78h1.3v1.3h-1.3zM323.94 353.81h1.3v1.3h-1.3zM330.75 358.39h1.3v1.3h-1.3zM324.68 355.36h1.3v1.3h-1.3zM323.98 353.42h1.3v1.3h-1.3zM328.16 349.16h1.3v1.3h-1.3zM326.79 354.29h1.3v1.3h-1.3zM329.63 357.46h1.3v1.3h-1.3zM328.03 355.85h1.3v1.3h-1.3zM325.77 354.27h1.3v1.3h-1.3zM326.65 331.18h1.3v1.3h-1.3zM326.79 334.65h1.3v1.3h-1.3zM326.43 336.52h1.3v1.3h-1.3z" fill="#e0245a"/>
<line x1="326.8" y1="356.4" x2="326.8" y2="338.77" stroke="#333" stroke-width="0.6" stroke-linecap="butt"/>
<line x1="326.8" y1="367.61" x2="326.8" y2="380.96" stroke="#333" stroke-width="0.6" stroke-linecap="butt"/>
<path d="M357.12 382.84h1.3v1.3h-1.3zM353.71 363.57h1.3v1.3h-1.3zM358.6 372.11h1.3v1.3h-1.3zM355.92 364.78h1.3v1.3h-1.3zM359.76 364.75h1.3v1.3h-1.3zM357.3 385.3h1.3v1.3h-1.3zM352.96 363.24h1.3v1.3h-1.3zM354.71 375.9h1.3v1.3h-1.3zM355.22 372.18h1.3v1.3h-1.3zM353.76 361.07h1.3v1.3h-1.3zM355.71 379.85h1.3v1.3h-1.3zM356.69 369.46h1.3v1.3h-1.3zM356.38 378.61h1.3v1.3h-1.3zM354.9 360.96h1.3v1.3h-1.3zM357.84 386.43h1.3v1.3h-1.3zM357.32 393.78h1.3v1.3h-1.3zM356.74 360.17h1.3v1.3h-1.3zM357.24 369.59h1.3v1.3h-1.3zM351.27 360.2h1.3v1.3h-1.3zM357.41 371.58h1.3v1.3h-1.3zM353.19 361.32h1.3v1.3h-1.3zM358.89 365.52h1.3v1.3h-1.3zM357.17 368.77h1.3v1.3h-1.3zM354.68 369.45h1.3v1.3h-1.3zM350.85 359.61h1.3v1.3h-1.3zM354.42 370.14h1.3v1.3h-1.3zM357.15 381.95h1.3v1.3h-1.3zM358.52 371.41h1.3v1.3h-1.3zM358.47 367.74h1.3v1.3h-1.3zM358.96 366.79h1.3v1.3h-1.3zM355.59 390.35h1.3v1.3h-1.3zM357.76 374.54h1.3v1.3h-1.3zM354.97 363.46h1.3v1.3h-1.3zM357.56 369.08h1.3v1.3h-1.3zM357.82 364.3h1.3v1.3h-1.3zM358.81 369.47h1.3v1.3h-1.3zM357.35 367.23h1.3v1.3h-1.3zM355.28 371.85h1.3v1.3h-1.3zM356 360.15h1.3v1.3h-1.3zM355.62 399.5h1.3v1.3h-1.3zM354.55 361.82h1.3v1.3h-1.3zM355.69 370.75h1.3v1.3h-1.3zM357.24 370.61h1.3v1.3h-1.3zM354.52 359.52h1.3v1.3h-1.3zM356.8 367.89h1.3v1.3h-1.3zM352.49 361.09h1.3v1.3h-1.3zM357.34 369.63h1.3v1.3h-1.3zM359.66 361.3h1.3v1.3h-1.3zM354.04 367.11h1.3v1.3h-1.3zM354.96 378.47h1.3v1.3h-1.3zM356.01 366.72h1.3v1.3h-1.3zM357.58 377.98h1.3v1.3h-1.3zM354.72 360.53h1.3v1.3h-1.3zM358.38 361.13h1.3v1.3h-1.3zM359.46 360.37h1.3v1.3h-1.3zM355.87 376.33h1.3v1.3h-1.3zM354.88 374.3h1.3v1.3h-1.3zM358.01 370.37h1.3v1.3h-1.3zM354.78 370.01h1.3v1.3h-1.3zM355.15 362.09h1.3v1.3h-1.3zM355.37 387.25h1.3v1.3h-1.3zM357.65 367.92h1.3v1.3h-1.3zM355.58 396.6h1.3v1.3h-1.3zM354.91 376.44h1.3v1.3h-1.3zM356.96 365.4h1.3v1.3h-1.3zM355.32 362.98h1.3v1.3h-1.3zM354.63 370.21h1.3v1.3h-1.3zM356.72 366.12h1.3v1.3h-1.3zM357.08 360.33h1.3v1.3h-1.3zM359.35 361.75h1.3v1.3h-1.3zM355.32 387.69h1.3v1.3h-1.3zM354.52 364.04h1.3v1.3h-1.3zM358.19 368.79h1.3v1.3h-1.3zM354.66 367.87h1.3v1.3h-1.3zM358.2 374.3h1.3v1.3h-1.3zM358.05 365.27h1.3v1.3h-1.3zM356.94 368.57h1.3v1.3h-1.3zM356.1 359.95h1.3v1.3h-1.3zM356.7 377.9h1.3v1.3h-1.3zM356.87 366.47h1.3v1.3h-1.3zM357.04 373.21h1.3v1.3h-1.3zM356.74 394.11h1.3v1.3h-1.3zM355.77 363.76h1.3v1.3h-1.3zM357.49 373.4h1.3v1.3h-1.3zM358.51 373.19h1.3v1.3h-1.3zM357.87 414.49h1.3v1.3h-1.3zM356.09 407.82h1.3v1.3h-1.3zM356.19 404.87h1.3v1.3h-1.3zM356.71 401.03h1.3v1.3h-1.3z" fill="#4dbdd6"/>
<path d="M357.27 350.45h1.3v1.3h-1.3zM359.04 356.99h1.3v1.3h-1.3zM358.79 356.92h1.3v1.3h-1.3zM355.32 358.51h1.3v1.3h-1.3zM353.57 353.4h1.3v1.3h-1.3zM360.45 356.98h1.3v1.3h-1.3zM356.81 349.09h1.3v1.3h-1.3zM357.65 355.6h1.3v1.3h-1.3zM359.14 357.5h1.3v1.3h-1.3zM355.43 330.08h1.3v1.3h-1.3zM357.26 353.63h1.3v1.3h-1.3zM356.21 329.74h1.3v1.3h-1.3zM355.43 347.4h1.3v1.3h-1.3zM357.04 356.81h1.3v1.3h-1.3zM352.11 355.91h1.3v1.3h-1.3zM354.47 345.5h1.3v1.3h-1.3zM358.8 350.82h1.3v1.3h-1.3zM354.37 346.84h1.3v1.3h-1.3zM356.24 330.63h1.3v1.3h-1.3zM361.26 357.29h1.3v1.3h-1.3zM358.96 358.33h1.3v1.3h-1.3zM358.86 348.37h1.3v1.3h-1.3zM356.3 336.94h1.3v1.3h-1.3zM354.22 348.15h1.3v1.3h-1.3zM357.76 354.41h1.3v1.3h-1.3zM353.87 357.97h1.3v1.3h-1.3zM356.63 351.01h1.3v1.3h-1.3zM359.97 354.35h1.3v1.3h-1.3zM357.31 330.92h1.3v1.3h-1.3zM355.51 352.48h1.3v1.3h-1.3zM357.36 356.99h1.3v1.3h-1.3zM357.57 345.9h1.3v1.3h-1.3zM360.32 356.36h1.3v1.3h-1.3zM353.31 352.74h1.3v1.3h-1.3zM357.27 352.45h1.3v1.3h-1.3zM354.99 338.79h1.3v1.3h-1.3zM357.09 347.78h1.3v1.3h-1.3zM356.31 352.12h1.3v1.3h-1.3zM359.74 356.82h1.3v1.3h-1.3zM358 348.25h1.3v1.3h-1.3zM356.07 348.34h1.3v1.3h-1.3zM358.02 348.51h1.3v1.3h-1.3zM355.46 350.3h1.3v1.3h-1.3zM357.79 349.63h1.3v1.3h-1.3zM354.07 350.82h1.3v1.3h-1.3zM353.15 354.44h1.3v1.3h-1.3zM357.43 349.21h1.3v1.3h-1.3zM358.41 353.26h1.3v1.3h-1.3zM353.42 353.5h1.3v1.3h-1.3zM358.48 356.02h1.3v1.3h-1.3zM355.13 356.34h1.3v1.3h-1.3zM355.58 352.21h1.3v1.3h-1.3zM358.62 348.82h1.3v1.3h-1.3zM358.72 349.73h1.3v1.3h-1.3zM355.7 344.52h1.3v1.3h-1.3zM359.45 352.9h1.3v1.3h-1.3zM355.46 353.66h1.3v1.3h-1.3zM355.61 354.78h1.3v1.3h-1.3zM358.78 354.47h1.3v1.3h-1.3zM359.24 355.09h1.3v1.3h-1.3zM359.28 353.83h1.3v1.3h-1.3zM351.86 356.69h1.3v1.3h-1.3zM358.76 348.11h1.3v1.3h-1.3zM359.67 357.69h1.3v1.3h-1.3zM354.29 348.87h1.3v1.3h-1.3zM357.71 334.41h1.3v1.3h-1.3zM357.68 348.32h1.3v1.3h-1.3zM354.74 352.6h1.3v1.3h-1.3zM358.85 356.06h1.3v1.3h-1.3zM355.78 344.47h1.3v1.3h-1.3zM356.62 346.26h1.3v1.3h-1.3zM358.36 356.21h1.3v1.3h-1.3zM357.46 351.19h1.3v1.3h-1.3zM358.81 354.27h1.3v1.3h-1.3zM357.22 349.76h1.3v1.3h-1.3zM357.8 301.81h1.3v1.3h-1.3zM358.07 315.16h1.3v1.3h-1.3zM356.55 326.91h1.3v1.3h-1.3z" fill="#e0245a"/>
<line x1="357.1" y1="353.19" x2="357.1" y2="329.16" stroke="#333" stroke-width="0.6" stroke-linecap="butt"/>
<line x1="357.1" y1="371.35" x2="357.1" y2="395.91" stroke="#333" stroke-width="0.6" stroke-linecap="butt"/>
<path d="M386.85 373.51h1.3v1.3h-1.3zM386.4 363.37h1.3v1.3h-1.3zM386.32 366.17h1.3v1.3h-1.3zM385.59 377.41h1.3v1.3h-1.3zM382.01 359.93h1.3v1.3h-1.3zM382.83 363.31h1.3v1.3h-1.3zM385.48 369.89h1.3v1.3h-1.3zM385.89 380.65h1.3v1.3h-1.3zM385.37 376.27h1.3v1.3h-1.3zM387.76 369.71h1.3v1.3h-1.3zM382.94 363.6h1.3v1.3h-1.3zM386.13 389.58h1.3v1.3h-1.3zM386.75 369.89h1.3v1.3h-1.3zM384.47 370.57h1.3v1.3h-1.3zM387.41 363.26h1.3v1.3h-1.3zM386.87 369.44h1.3v1.3h-1.3zM385.91 385.07h1.3v1.3h-1.3zM385.69 372.21h1.3v1.3h-1.3zM386.31 376.89h1.3v1.3h-1.3zM385.91 377.53h1.3v1.3h-1.3zM385.55 375.05h1.3v1.3h-1.3zM387.25 361.77h1.3v1.3h-1.3zM391.86 359.85h1.3v1.3h-1.3zM384.62 364.53h1.3v1.3h-1.3zM387.27 376.39h1.3v1.3h-1.3zM387.07 382.59h1.3v1.3h-1.3zM386.27 377.92h1.3v1.3h-1.3zM386.64 370.23h1.3v1.3h-1.3zM384 363.56h1.3v1.3h-1.3zM387.44 370.41h1.3v1.3h-1.3zM384.25 367.08h1.3v1.3h-1.3zM387.17 366.08h1.3v1.3h-1.3zM386.91 369.8h1.3v1.3h-1.3zM385.18 359.97h1.3v1.3h-1.3zM385.05 377.32h1.3v1.3h-1.3zM385.98 375.24h1.3v1.3h-1.3zM381.3 359.61h1.3v1.3h-1.3zM385.68 373.79h1.3v1.3h-1.3zM385.6 380.1h1.3v1.3h-1.3zM386.13 375.59h1.3v1.3h-1.3zM390.46 362.38h1.3v1.3h-1.3zM385.81 361.45h1.3v1.3h-1.3zM385.81 376.03h1.3v1.3h-1.3zM388.54 371.12h1.3v1.3h-1.3zM386.68 370.44h1.3v1.3h-1.3zM383.87 363.29h1.3v1.3h-1.3zM385.31 369.85h1.3v1.3h-1.3zM386.3 380.9h1.3v1.3h-1.3zM386.61 367.18h1.3v1.3h-1.3zM386.98 368.12h1.3v1.3h-1.3zM388.77 371.52h1.3v1.3h-1.3zM385.34 364.76h1.3v1.3h-1.3zM387.68 368.83h1.3v1.3h-1.3zM385.09 371.28h1.3v1.3h-1.3zM386.62 387.93h1.3v1.3h-1.3zM387.88 369.87h1.3v1.3h-1.3zM384.63 363.7h1.3v1.3h-1.3zM386.81 359.21h1.3v1.3h-1.3zM384.35 368.58h1.3v1.3h-1.3zM387.59 378.53h1.3v1.3h-1.3zM385.04 370.5h1.3v1.3h-1.3zM386.68 373.47h1.3v1.3h-1.3zM386.26 377.38h1.3v1.3h-1.3zM384.97 361.12h1.3v1.3h-1.3zM388.07 368.18h1.3v1.3h-1.3zM386.29 371.68h1.3v1.3h-1.3zM387.08 378.16h1.3v1.3h-1.3zM387.27 376.62h1.3v1.3h-1.3zM385.55 378.18h1.3v1.3h-1.3zM388.46 375.18h1.3v1.3h-1.3zM386.4 384.58h1.3v1.3h-1.3zM389.47 367.42h1.3v1.3h-1.3zM385.48 385.24h1.3v1.3h-1.3zM389.26 368.75h1.3v1.3h-1.3zM384.84 375.42h1.3v1.3h-1.3zM385.83 372.58h1.3v1.3h-1.3zM389.45 362.84h1.3v1.3h-1.3zM389.08 361.7h1.3v1.3h-1.3zM386.14 370.97h1.3v1.3h-1.3zM384.1 364.4h1.3v1.3h-1.3zM385.03 373.45h1.3v1.3h-1.3zM384.49 367.59h1.3v1.3h-1.3zM382.7 362.9h1.3v1.3h-1.3zM385.13 365.34h1.3v1.3h-1.3zM386.49 361.88h1.3v1.3h-1.3zM385.69 408.08h1.3v1.3h-1.3zM384.85 402.18h1.3v1.3h-1.3zM384.91 400.34h1.3v1.3h-1.3zM388.22 397.24h1.3v1.3h-1.3z" fill="#4dbdd6"/>
<path d="M385.46 352.45h1.3v1.3h-1.3zM388.12 341.25h1.3v1.3h-1.3zM384.56 357.83h1.3v1.3h-1.3zM384.13 350.72h1.3v1.3h-1.3zM385.86 354.12h1.3v1.3h-1.3zM386.75 341.66h1.3v1.3h-1.3zM383.66 358.39h1.3v1.3h-1.3zM388.24 338.77h1.3v1.3h-1.3zM388.72 352.67h1.3v1.3h-1.3zM387.89 348.38h1.3v1.3h-1.3zM385.31 340.36h1.3v1.3h-1.3zM389.91 353.47h1.3v1.3h-1.3zM385.3 354.26h1.3v1.3h-1.3zM387.73 338.99h1.3v1.3h-1.3zM383.15 354.25h1.3v1.3h-1.3zM385.99 338.94h1.3v1.3h-1.3zM386.54 344.79h1.3v1.3h-1.3zM384.28 358.6h1.3v1.3h-1.3zM388.27 347.47h1.3v1.3h-1.3zM386.46 352.78h1.3v1.3h-1.3zM384.59 352.93h1.3v1.3h-1.3zM385.14 347.88h1.3v1.3h-1.3zM385.97 341.25h1.3v1.3h-1.3zM390.46 357.43h1.3v1.3h-1.3zM391.42 358h1.3v1.3h-1.3zM383 355.6h1.3v1.3h-1.3zM383.38 357.88h1.3v1.3h-1.3zM384.71 353.68h1.3v1.3h-1.3zM387.81 353.33h1.3v1.3h-1.3zM387.14 349.65h1.3v1.3h-1.3zM388.48 358.07h1.3v1.3h-1.3zM387.68 353.72h1.3v1.3h-1.3zM386.77 344.32h1.3v1.3h-1.3zM384.18 349.59h1.3v1.3h-1.3zM389.09 354.77h1.3v1.3h-1.3zM387.85 347.13h1.3v1.3h-1.3zM383.01 358.61h1.3v1.3h-1.3zM390.3 353.9h1.3v1.3h-1.3zM385.9 352.23h1.3v1.3h-1.3zM386.65 357.34h1.3v1.3h-1.3zM385.44 355.49h1.3v1.3h-1.3zM388.45 351.84h1.3v1.3h-1.3zM387.81 351.68h1.3v1.3h-1.3zM391.57 357.99h1.3v1.3h-1.3zM387.46 353.95h1.3v1.3h-1.3zM386.33 349.5h1.3v1.3h-1.3zM383.98 357.22h1.3v1.3h-1.3zM385.25 348.33h1.3v1.3h-1.3zM387.48 342.97h1.3v1.3h-1.3zM389.81 355.35h1.3v1.3h-1.3zM386.38 344.32h1.3v1.3h-1.3zM384.59 355.63h1.3v1.3h-1.3zM387.4 358.04h1.3v1.3h-1.3zM389.41 356.52h1.3v1.3h-1.3zM381.41 358.48h1.3v1.3h-1.3zM387.68 355.38h1.3v1.3h-1.3zM383.52 354.11h1.3v1.3h-1.3zM383.07 357.99h1.3v1.3h-1.3zM390.49 358.63h1.3v1.3h-1.3zM382.97 355.21h1.3v1.3h-1.3zM390.18 353.92h1.3v1.3h-1.3zM387.73 344.4h1.3v1.3h-1.3zM388.74 355.41h1.3v1.3h-1.3zM388.54 347.73h1.3v1.3h-1.3zM386.03 354.97h1.3v1.3h-1.3zM389.51 350.48h1.3v1.3h-1.3zM383.98 357.93h1.3v1.3h-1.3zM385.3 349.04h1.3v1.3h-1.3zM385.95 345.25h1.3v1.3h-1.3zM387.6 355.42h1.3v1.3h-1.3zM383.62 352.85h1.3v1.3h-1.3zM388.62 357.24h1.3v1.3h-1.3zM386.38 353.47h1.3v1.3h-1.3zM388.98 352.72h1.3v1.3h-1.3zM385.73 351.08h1.3v1.3h-1.3zM386.11 321.57h1.3v1.3h-1.3zM385.89 329.58h1.3v1.3h-1.3zM384.96 335.99h1.3v1.3h-1.3z" fill="#e0245a"/>
<line x1="387.3" y1="357.46" x2="387.3" y2="338.24" stroke="#333" stroke-width="0.6" stroke-linecap="butt"/>
<line x1="387.3" y1="373.48" x2="387.3" y2="393.24" stroke="#333" stroke-width="0.6" stroke-linecap="butt"/>
<path d="M417.86 369.6h1.3v1.3h-1.3zM415.54 362.81h1.3v1.3h-1.3zM422.07 360.39h1.3v1.3h-1.3zM415.36 363.51h1.3v1.3h-1.3zM415.92 374.87h1.3v1.3h-1.3zM416.3 365.54h1.3v1.3h-1.3zM419.95 364.08h1.3v1.3h-1.3zM416.1 386.11h1.3v1.3h-1.3zM416.57 366.33h1.3v1.3h-1.3zM420.96 361.81h1.3v1.3h-1.3zM415.48 374.67h1.3v1.3h-1.3zM417.14 367.14h1.3v1.3h-1.3zM418.3 367.99h1.3v1.3h-1.3zM418.96 381.27h1.3v1.3h-1.3zM418.56 376.43h1.3v1.3h-1.3zM415.07 368.82h1.3v1.3h-1.3zM416.92 372.45h1.3v1.3h-1.3zM415.04 363.29h1.3v1.3h-1.3zM414.95 365.33h1.3v1.3h-1.3zM418.06 370.52h1.3v1.3h-1.3zM418.55 369.86h1.3v1.3h-1.3zM420.46 359.58h1.3v1.3h-1.3zM415.59 376.97h1.3v1.3h-1.3zM415.53 375.33h1.3v1.3h-1.3zM417.47 378.79h1.3v1.3h-1.3zM415.89 364.18h1.3v1.3h-1.3zM413.39 360.24h1.3v1.3h-1.3zM416.62 377.9h1.3v1.3h-1.3zM414.98 361.47h1.3v1.3h-1.3zM416.93 362.19h1.3v1.3h-1.3zM416.95 360.98h1.3v1.3h-1.3zM414.3 362.1h1.3v1.3h-1.3zM417.55 363.17h1.3v1.3h-1.3zM419.47 371.27h1.3v1.3h-1.3zM414.49 367.23h1.3v1.3h-1.3zM418.38 370.27h1.3v1.3h-1.3zM417.47 375.23h1.3v1.3h-1.3zM420.78 364.19h1.3v1.3h-1.3zM421.08 360.08h1.3v1.3h-1.3zM415.68 372.53h1.3v1.3h-1.3zM415.86 362.29h1.3v1.3h-1.3zM419.11 374.53h1.3v1.3h-1.3zM417.36 360.23h1.3v1.3h-1.3zM418.69 367.88h1.3v1.3h-1.3zM416.45 365.18h1.3v1.3h-1.3zM417.01 370.03h1.3v1.3h-1.3zM414.07 364.34h1.3v1.3h-1.3zM417.81 361.1h1.3v1.3h-1.3zM414.97 362.4h1.3v1.3h-1.3zM417.26 367.44h1.3v1.3h-1.3zM419.05 365.12h1.3v1.3h-1.3zM422.11 360.58h1.3v1.3h-1.3zM418.91 379.63h1.3v1.3h-1.3zM416.29 368.65h1.3v1.3h-1.3zM417.79 369.83h1.3v1.3h-1.3zM419.23 364.1h1.3v1.3h-1.3zM416.06 368.94h1.3v1.3h-1.3zM420.7 361.54h1.3v1.3h-1.3zM416.59 377.86h1.3v1.3h-1.3zM420.58 361.07h1.3v1.3h-1.3zM415.89 363.21h1.3v1.3h-1.3zM414.72 367.03h1.3v1.3h-1.3zM415.66 376.05h1.3v1.3h-1.3zM418.09 368.66h1.3v1.3h-1.3zM418.11 386.92h1.3v1.3h-1.3zM416.48 360.14h1.3v1.3h-1.3zM422.73 359.7h1.3v1.3h-1.3zM416.86 362.78h1.3v1.3h-1.3zM416.18 361.25h1.3v1.3h-1.3zM418.3 373.79h1.3v1.3h-1.3zM419.04 369.43h1.3v1.3h-1.3zM416.39 369.49h1.3v1.3h-1.3zM417.63 370.69h1.3v1.3h-1.3zM417.59 365.59h1.3v1.3h-1.3zM414.16 362.58h1.3v1.3h-1.3zM416.89 376.19h1.3v1.3h-1.3zM419.77 367.69h1.3v1.3h-1.3zM418.42 375.32h1.3v1.3h-1.3zM416.29 382.82h1.3v1.3h-1.3zM415.08 365.26h1.3v1.3h-1.3zM418.11 362.81h1.3v1.3h-1.3zM419.07 369.57h1.3v1.3h-1.3zM418.21 360.48h1.3v1.3h-1.3zM417.94 388.63h1.3v1.3h-1.3zM415.37 362.8h1.3v1.3h-1.3zM417.65 397.4h1.3v1.3h-1.3zM416.38 392.78h1.3v1.3h-1.3zM415.61 392.86h1.3v1.3h-1.3zM418.65 391.04h1.3v1.3h-1.3z" fill="#4dbdd6"/>
<path d="M414.51 356.61h1.3v1.3h-1.3zM417.23 354.04h1.3v1.3h-1.3zM414.56 351.74h1.3v1.3h-1.3zM418.59 354.58h1.3v1.3h-1.3zM420.68 356.15h1.3v1.3h-1.3zM416.83 356.21h1.3v1.3h-1.3zM413.42 355.12h1.3v1.3h-1.3zM414.8 352.5h1.3v1.3h-1.3zM415.79 354.96h1.3v1.3h-1.3zM412.59 356.82h1.3v1.3h-1.3zM418.77 346.72h1.3v1.3h-1.3zM418.49 347.74h1.3v1.3h-1.3zM419.1 352.22h1.3v1.3h-1.3zM414.35 353.95h1.3v1.3h-1.3zM415.4 354.41h1.3v1.3h-1.3zM412.48 357.34h1.3v1.3h-1.3zM416.19 355.88h1.3v1.3h-1.3zM420.5 357.24h1.3v1.3h-1.3zM415.61 354.52h1.3v1.3h-1.3zM416.01 353.93h1.3v1.3h-1.3zM414.9 355.37h1.3v1.3h-1.3zM417.79 356.48h1.3v1.3h-1.3zM416.53 349.8h1.3v1.3h-1.3zM412.85 356.2h1.3v1.3h-1.3zM417.63 354.18h1.3v1.3h-1.3zM413.91 358.66h1.3v1.3h-1.3zM413.87 355.85h1.3v1.3h-1.3zM416.72 356.04h1.3v1.3h-1.3zM419.15 355.66h1.3v1.3h-1.3zM414.88 358h1.3v1.3h-1.3zM414.98 353.93h1.3v1.3h-1.3zM419.9 348.96h1.3v1.3h-1.3zM418.53 354.93h1.3v1.3h-1.3zM418.2 353.63h1.3v1.3h-1.3zM417.38 352.01h1.3v1.3h-1.3zM414.67 353h1.3v1.3h-1.3zM418.73 355.15h1.3v1.3h-1.3zM416.56 352.88h1.3v1.3h-1.3zM417.52 357.98h1.3v1.3h-1.3zM417.12 345.92h1.3v1.3h-1.3zM414.79 353.72h1.3v1.3h-1.3zM421.55 355.4h1.3v1.3h-1.3zM422.93 358.44h1.3v1.3h-1.3zM420.34 354.86h1.3v1.3h-1.3zM415.94 349.21h1.3v1.3h-1.3zM418.13 349h1.3v1.3h-1.3zM417.42 350.94h1.3v1.3h-1.3zM413.6 355.52h1.3v1.3h-1.3zM419.65 353.89h1.3v1.3h-1.3zM417.61 353.58h1.3v1.3h-1.3zM418.74 356.77h1.3v1.3h-1.3zM418.65 346.49h1.3v1.3h-1.3zM420.38 355.4h1.3v1.3h-1.3zM417.92 358.54h1.3v1.3h-1.3zM416.48 352.09h1.3v1.3h-1.3zM416.45 350.65h1.3v1.3h-1.3zM416.75 349.48h1.3v1.3h-1.3zM418.12 352.36h1.3v1.3h-1.3zM414.36 357.32h1.3v1.3h-1.3zM421.35 357.73h1.3v1.3h-1.3zM416.57 358.32h1.3v1.3h-1.3zM416.43 348.22h1.3v1.3h-1.3zM419.14 356.25h1.3v1.3h-1.3zM413.97 356.1h1.3v1.3h-1.3zM413.55 357h1.3v1.3h-1.3zM418.18 354.02h1.3v1.3h-1.3zM419.22 356.88h1.3v1.3h-1.3zM416.04 356.42h1.3v1.3h-1.3zM418.65 357.04h1.3v1.3h-1.3zM419.86 354.47h1.3v1.3h-1.3zM420.85 354.57h1.3v1.3h-1.3zM419.19 356.05h1.3v1.3h-1.3zM421.49 358.18h1.3v1.3h-1.3zM419.79 352.86h1.3v1.3h-1.3zM416.29 356.54h1.3v1.3h-1.3zM418.27 342.93h1.3v1.3h-1.3z" fill="#e0245a"/>
<line x1="418" y1="358" x2="418" y2="343.58" stroke="#333" stroke-width="0.6" stroke-linecap="butt"/>
<line x1="418" y1="371.35" x2="418" y2="388.97" stroke="#333" stroke-width="0.6" stroke-linecap="butt"/>
<path d="M446.14 371.88h1.3v1.3h-1.3zM447.96 366.75h1.3v1.3h-1.3zM447.71 366.54h1.3v1.3h-1.3zM443.95 362.54h1.3v1.3h-1.3zM450.27 360.33h1.3v1.3h-1.3zM446.63 368.26h1.3v1.3h-1.3zM445.99 363.86h1.3v1.3h-1.3zM448.24 365.33h1.3v1.3h-1.3zM447.44 381.53h1.3v1.3h-1.3zM444.67 366.72h1.3v1.3h-1.3zM447.2 378.52h1.3v1.3h-1.3zM449.31 364.05h1.3v1.3h-1.3zM442.76 360.82h1.3v1.3h-1.3zM448.9 362.09h1.3v1.3h-1.3zM446.29 374.38h1.3v1.3h-1.3zM448.1 371.13h1.3v1.3h-1.3zM447.25 359.87h1.3v1.3h-1.3zM450.3 364.54h1.3v1.3h-1.3zM446.95 364.47h1.3v1.3h-1.3zM449.77 368.47h1.3v1.3h-1.3zM451.6 361.56h1.3v1.3h-1.3zM447.59 369.94h1.3v1.3h-1.3zM446.68 373.43h1.3v1.3h-1.3zM448.09 365.77h1.3v1.3h-1.3zM449.59 371.36h1.3v1.3h-1.3zM445.9 359.99h1.3v1.3h-1.3zM447.53 362.98h1.3v1.3h-1.3zM444.85 368.35h1.3v1.3h-1.3zM445.83 364.02h1.3v1.3h-1.3zM445.55 370.09h1.3v1.3h-1.3zM447.42 364.66h1.3v1.3h-1.3zM447.32 373.63h1.3v1.3h-1.3zM446.66 379.77h1.3v1.3h-1.3zM450.02 366.54h1.3v1.3h-1.3zM447.24 372.76h1.3v1.3h-1.3zM447.49 378.81h1.3v1.3h-1.3zM449.69 366.26h1.3v1.3h-1.3zM445.87 367.08h1.3v1.3h-1.3zM451.06 359.31h1.3v1.3h-1.3zM448.59 378.3h1.3v1.3h-1.3zM450.38 361.74h1.3v1.3h-1.3zM445.6 360.87h1.3v1.3h-1.3zM450.62 364.27h1.3v1.3h-1.3zM449.03 369.42h1.3v1.3h-1.3zM451.71 360.65h1.3v1.3h-1.3zM446.16 377.65h1.3v1.3h-1.3zM450.26 364.28h1.3v1.3h-1.3zM450.02 361.23h1.3v1.3h-1.3zM448.45 364.31h1.3v1.3h-1.3zM448.43 380.86h1.3v1.3h-1.3zM449.49 369.03h1.3v1.3h-1.3zM447.52 377.97h1.3v1.3h-1.3zM446.73 367.89h1.3v1.3h-1.3zM445.56 364.24h1.3v1.3h-1.3zM450.55 359.9h1.3v1.3h-1.3zM445.65 362.73h1.3v1.3h-1.3zM448.32 368.95h1.3v1.3h-1.3zM450.05 367.21h1.3v1.3h-1.3zM446.82 378.19h1.3v1.3h-1.3zM448.85 370.65h1.3v1.3h-1.3zM445.71 362.73h1.3v1.3h-1.3zM447.67 380.78h1.3v1.3h-1.3zM450.05 360.58h1.3v1.3h-1.3zM444.52 359.17h1.3v1.3h-1.3zM444.57 364.93h1.3v1.3h-1.3zM450.24 366.84h1.3v1.3h-1.3zM446.77 361.77h1.3v1.3h-1.3zM450.86 364.44h1.3v1.3h-1.3zM448.3 373.9h1.3v1.3h-1.3zM452.27 360.02h1.3v1.3h-1.3zM446.34 370.14h1.3v1.3h-1.3zM446.62 387.96h1.3v1.3h-1.3zM444.88 366.79h1.3v1.3h-1.3zM449 365.58h1.3v1.3h-1.3zM446.55 368.04h1.3v1.3h-1.3zM447.1 360.49h1.3v1.3h-1.3zM445.78 371.59h1.3v1.3h-1.3zM446.08 380.42h1.3v1.3h-1.3zM448.44 371.28h1.3v1.3h-1.3zM448.13 363.35h1.3v1.3h-1.3zM446.59 360.89h1.3v1.3h-1.3zM444.83 366.88h1.3v1.3h-1.3zM445.7 369.73h1.3v1.3h-1.3zM446.95 368.13h1.3v1.3h-1.3zM444.18 362.47h1.3v1.3h-1.3zM448.96 400.6h1.3v1.3h-1.3zM447.5 395.6h1.3v1.3h-1.3zM447.9 391.79h1.3v1.3h-1.3zM446.81 388.27h1.3v1.3h-1.3z" fill="#4dbdd6"/>
<path d="M448.41 353.62h1.3v1.3h-1.3zM451.07 353.78h1.3v1.3h-1.3zM445.42 354.56h1.3v1.3h-1.3zM443.95 356.08h1.3v1.3h-1.3zM447.84 345.35h1.3v1.3h-1.3zM446.58 350.58h1.3v1.3h-1.3zM449.57 352.35h1.3v1.3h-1.3zM446.38 344.66h1.3v1.3h-1.3zM443.8 357h1.3v1.3h-1.3zM448.15 353.47h1.3v1.3h-1.3zM446.76 350.52h1.3v1.3h-1.3zM449.04 352.72h1.3v1.3h-1.3zM445.33 356.49h1.3v1.3h-1.3zM444.84 350.17h1.3v1.3h-1.3zM445.44 355.4h1.3v1.3h-1.3zM447.39 357.94h1.3v1.3h-1.3zM447.65 358.22h1.3v1.3h-1.3zM444.73 355.1h1.3v1.3h-1.3zM447.86 353.14h1.3v1.3h-1.3zM447.77 351.93h1.3v1.3h-1.3zM445.83 353.34h1.3v1.3h-1.3zM447.01 343.44h1.3v1.3h-1.3zM446.14 357.98h1.3v1.3h-1.3zM451.38 355.56h1.3v1.3h-1.3zM445.7 352.94h1.3v1.3h-1.3zM443.07 358.53h1.3v1.3h-1.3zM445.96 343.72h1.3v1.3h-1.3zM444.02 356.34h1.3v1.3h-1.3zM443.98 354.89h1.3v1.3h-1.3zM442.61 358.47h1.3v1.3h-1.3zM448.84 353h1.3v1.3h-1.3zM450.55 357.65h1.3v1.3h-1.3zM444.44 356.95h1.3v1.3h-1.3zM445.88 358.5h1.3v1.3h-1.3zM446.82 355.76h1.3v1.3h-1.3zM442.61 358.72h1.3v1.3h-1.3zM447.98 353.03h1.3v1.3h-1.3zM445.31 358.27h1.3v1.3h-1.3zM451.52 355.16h1.3v1.3h-1.3zM450.45 352.74h1.3v1.3h-1.3zM447.97 347.02h1.3v1.3h-1.3zM448.21 350.6h1.3v1.3h-1.3zM449.67 346.78h1.3v1.3h-1.3zM449.62 350.04h1.3v1.3h-1.3zM448.32 344.29h1.3v1.3h-1.3zM448.47 358.47h1.3v1.3h-1.3zM449.24 350.4h1.3v1.3h-1.3zM449.49 350.6h1.3v1.3h-1.3zM443.44 355.34h1.3v1.3h-1.3zM445.31 356.51h1.3v1.3h-1.3zM448.87 354.03h1.3v1.3h-1.3zM445.18 355.93h1.3v1.3h-1.3zM445.18 356.68h1.3v1.3h-1.3zM450.32 356.85h1.3v1.3h-1.3zM445.16 357.09h1.3v1.3h-1.3zM445.37 355.87h1.3v1.3h-1.3zM445.65 356.69h1.3v1.3h-1.3zM449.73 356.74h1.3v1.3h-1.3zM444.05 355.1h1.3v1.3h-1.3zM445.94 351.69h1.3v1.3h-1.3zM446.17 357.81h1.3v1.3h-1.3zM450.7 354.19h1.3v1.3h-1.3zM449.79 354.31h1.3v1.3h-1.3zM445.7 358.47h1.3v1.3h-1.3zM448.53 357.64h1.3v1.3h-1.3zM447.36 354.49h1.3v1.3h-1.3zM446.19 358.42h1.3v1.3h-1.3zM446.13 343.61h1.3v1.3h-1.3zM451.51 356.2h1.3v1.3h-1.3zM449.94 349.89h1.3v1.3h-1.3zM445.18 354.27h1.3v1.3h-1.3zM448.81 353.21h1.3v1.3h-1.3zM447.22 353.39h1.3v1.3h-1.3zM444.71 353.88h1.3v1.3h-1.3zM446.73 349.46h1.3v1.3h-1.3zM449.36 321.57h1.3v1.3h-1.3zM449.48 332.25h1.3v1.3h-1.3zM446.03 341.33h1.3v1.3h-1.3z" fill="#e0245a"/>
<line x1="448.2" y1="358" x2="448.2" y2="343.58" stroke="#333" stroke-width="0.6" stroke-linecap="butt"/>
<line x1="448.2" y1="368.68" x2="448.2" y2="383.63" stroke="#333" stroke-width="0.6" stroke-linecap="butt"/>
<path d="M475.87 362.1h1.3v1.3h-1.3zM474.82 365.91h1.3v1.3h-1.3zM474.69 367.12h1.3v1.3h-1.3zM474.71 364.29h1.3v1.3h-1.3zM480.34 366.06h1.3v1.3h-1.3zM477.9 372.64h1.3v1.3h-1.3zM477.3 364.94h1.3v1.3h-1.3zM477.29 369.66h1.3v1.3h-1.3zM476.56 366.76h1.3v1.3h-1.3zM478.3 370.48h1.3v1.3h-1.3zM474.58 364.9h1.3v1.3h-1.3zM478.2 359.75h1.3v1.3h-1.3zM476.69 377.16h1.3v1.3h-1.3zM474.41 364.63h1.3v1.3h-1.3zM476.34 379.74h1.3v1.3h-1.3zM477.26 359.8h1.3v1.3h-1.3zM475.83 361.2h1.3v1.3h-1.3zM478.99 360.11h1.3v1.3h-1.3zM479.21 375.37h1.3v1.3h-1.3zM479.15 369.88h1.3v1.3h-1.3zM479.44 362.18h1.3v1.3h-1.3zM475.46 363.16h1.3v1.3h-1.3zM479.8 368.45h1.3v1.3h-1.3zM474.88 360.62h1.3v1.3h-1.3zM480.62 362h1.3v1.3h-1.3zM478.33 366.55h1.3v1.3h-1.3zM478.25 382.16h1.3v1.3h-1.3zM476.53 362.17h1.3v1.3h-1.3zM472.32 359.29h1.3v1.3h-1.3zM477.02 383.46h1.3v1.3h-1.3zM479.08 376.45h1.3v1.3h-1.3zM479.63 363.48h1.3v1.3h-1.3zM476.14 368.39h1.3v1.3h-1.3zM476.01 380.81h1.3v1.3h-1.3zM477.41 372.07h1.3v1.3h-1.3zM479.23 365.86h1.3v1.3h-1.3zM475.24 369.15h1.3v1.3h-1.3zM473.19 361.39h1.3v1.3h-1.3zM477.16 381.01h1.3v1.3h-1.3zM478.5 361.45h1.3v1.3h-1.3zM472.82 360.55h1.3v1.3h-1.3zM474.78 364.57h1.3v1.3h-1.3zM478.62 363.78h1.3v1.3h-1.3zM476.41 361.75h1.3v1.3h-1.3zM477.58 376.06h1.3v1.3h-1.3zM476.43 376.81h1.3v1.3h-1.3zM474.3 365.51h1.3v1.3h-1.3zM477.78 367.93h1.3v1.3h-1.3zM475.31 366.63h1.3v1.3h-1.3zM478.61 369.26h1.3v1.3h-1.3zM475.05 368.24h1.3v1.3h-1.3zM480.41 360.71h1.3v1.3h-1.3zM480.22 366.2h1.3v1.3h-1.3zM479.8 362.56h1.3v1.3h-1.3zM478.32 382.66h1.3v1.3h-1.3zM480.81 364.62h1.3v1.3h-1.3zM478.07 365.29h1.3v1.3h-1.3zM478.04 383.91h1.3v1.3h-1.3zM476.35 379.64h1.3v1.3h-1.3zM476.07 379.47h1.3v1.3h-1.3zM476.09 365.5h1.3v1.3h-1.3zM477.17 364.39h1.3v1.3h-1.3zM479.97 369.77h1.3v1.3h-1.3zM474.14 359.81h1.3v1.3h-1.3zM475.81 367.39h1.3v1.3h-1.3zM474.59 366.98h1.3v1.3h-1.3zM475.53 361.91h1.3v1.3h-1.3zM476.62 378.43h1.3v1.3h-1.3zM479.99 359.83h1.3v1.3h-1.3zM476.74 371.74h1.3v1.3h-1.3zM476.83 375.03h1.3v1.3h-1.3zM473.67 359.67h1.3v1.3h-1.3zM480.01 368.8h1.3v1.3h-1.3zM473.64 362.65h1.3v1.3h-1.3zM476.05 370.62h1.3v1.3h-1.3zM482.35 360.53h1.3v1.3h-1.3zM475.07 368.54h1.3v1.3h-1.3zM477.74 374.78h1.3v1.3h-1.3zM476.53 363.24h1.3v1.3h-1.3zM475.33 370.63h1.3v1.3h-1.3zM475.01 367.24h1.3v1.3h-1.3zM480.06 363.6h1.3v1.3h-1.3zM473.47 360.06h1.3v1.3h-1.3zM477.9 365.8h1.3v1.3h-1.3zM479.19 371.46h1.3v1.3h-1.3zM479.45 400.6h1.3v1.3h-1.3zM476.7 395.6h1.3v1.3h-1.3zM478.65 391.79h1.3v1.3h-1.3zM478.08 388.27h1.3v1.3h-1.3z" fill="#4dbdd6"/>
<path d="M477.65 357.96h1.3v1.3h-1.3zM476.59 356.55h1.3v1.3h-1.3zM479.57 356.81h1.3v1.3h-1.3zM476.21 357.08h1.3v1.3h-1.3zM478.61 355.4h1.3v1.3h-1.3zM475.54 357.34h1.3v1.3h-1.3zM481.78 358.22h1.3v1.3h-1.3zM476.52 355.15h1.3v1.3h-1.3zM476.94 351.52h1.3v1.3h-1.3zM479.27 353.35h1.3v1.3h-1.3zM479.12 357.22h1.3v1.3h-1.3zM477.07 353.68h1.3v1.3h-1.3zM477.95 357.39h1.3v1.3h-1.3zM476.01 356.8h1.3v1.3h-1.3zM480.63 358.59h1.3v1.3h-1.3zM478.81 358.15h1.3v1.3h-1.3zM474.2 358.13h1.3v1.3h-1.3zM473.77 355.48h1.3v1.3h-1.3zM476.77 353.44h1.3v1.3h-1.3zM479.41 355.7h1.3v1.3h-1.3zM474.75 358.34h1.3v1.3h-1.3zM477.99 353.3h1.3v1.3h-1.3zM479.06 349.41h1.3v1.3h-1.3zM479.6 356.07h1.3v1.3h-1.3zM477.81 356.23h1.3v1.3h-1.3zM473.95 357.93h1.3v1.3h-1.3zM475.98 353.83h1.3v1.3h-1.3zM476.96 353.8h1.3v1.3h-1.3zM477.82 355.99h1.3v1.3h-1.3zM478.13 355.19h1.3v1.3h-1.3zM473.8 355.8h1.3v1.3h-1.3zM479.61 357.85h1.3v1.3h-1.3zM475.42 356.47h1.3v1.3h-1.3zM477.81 352.99h1.3v1.3h-1.3zM474.5 355.59h1.3v1.3h-1.3zM481.72 358.25h1.3v1.3h-1.3zM473.96 356.46h1.3v1.3h-1.3zM478.73 347.97h1.3v1.3h-1.3zM472.2 358.39h1.3v1.3h-1.3zM480.49 354.94h1.3v1.3h-1.3zM475.86 357.5h1.3v1.3h-1.3zM475.47 353.76h1.3v1.3h-1.3zM480.34 355.92h1.3v1.3h-1.3zM478.77 358.27h1.3v1.3h-1.3zM478.67 356.41h1.3v1.3h-1.3zM482.9 358.55h1.3v1.3h-1.3zM480.73 356.81h1.3v1.3h-1.3zM479.11 355.76h1.3v1.3h-1.3zM474.67 357.28h1.3v1.3h-1.3zM480.91 356.02h1.3v1.3h-1.3zM480 358.28h1.3v1.3h-1.3zM475.35 348.34h1.3v1.3h-1.3zM473.73 356.51h1.3v1.3h-1.3zM480.19 349.62h1.3v1.3h-1.3zM474.77 350.56h1.3v1.3h-1.3zM474.92 354.88h1.3v1.3h-1.3zM475.61 358.04h1.3v1.3h-1.3zM475.97 353.91h1.3v1.3h-1.3zM475.32 355.88h1.3v1.3h-1.3zM475.05 357.58h1.3v1.3h-1.3zM475.48 355.92h1.3v1.3h-1.3zM477.4 347.78h1.3v1.3h-1.3zM479.82 355.9h1.3v1.3h-1.3zM479.38 358.53h1.3v1.3h-1.3zM476.42 357.36h1.3v1.3h-1.3zM477.29 355.11h1.3v1.3h-1.3zM480.71 354.74h1.3v1.3h-1.3zM472.34 358h1.3v1.3h-1.3zM478.93 358.47h1.3v1.3h-1.3zM474.2 357.94h1.3v1.3h-1.3zM479.06 354.49h1.3v1.3h-1.3zM477.2 354.14h1.3v1.3h-1.3zM481.74 355.4h1.3v1.3h-1.3zM480.63 356.23h1.3v1.3h-1.3zM477.96 356.52h1.3v1.3h-1.3zM478.26 347.2h1.3v1.3h-1.3z" fill="#e0245a"/>
<line x1="478.2" y1="360.67" x2="478.2" y2="347.85" stroke="#333" stroke-width="0.6" stroke-linecap="butt"/>
<line x1="478.2" y1="369.21" x2="478.2" y2="383.63" stroke="#333" stroke-width="0.6" stroke-linecap="butt"/>
<line x1="308" y1="359.6" x2="496.3" y2="359.6" stroke="#8a8a8a" stroke-width="1.2" stroke-dasharray="3.2,1.8" stroke-linecap="butt"/>
<rect x="318.9" y="356.4" width="15.8" height="11.21" fill="none" stroke="#333" stroke-width="0.75"/>
<line x1="318.9" y1="360.67" x2="334.7" y2="360.67" stroke="#333" stroke-width="0.75" stroke-linecap="butt"/>
<rect x="349.2" y="353.19" width="15.8" height="18.16" fill="none" stroke="#333" stroke-width="0.75"/>
<line x1="349.2" y1="361.47" x2="365" y2="361.47" stroke="#333" stroke-width="0.75" stroke-linecap="butt"/>
<rect x="379.4" y="357.46" width="15.8" height="16.02" fill="none" stroke="#333" stroke-width="0.75"/>
<line x1="379.4" y1="362.54" x2="395.2" y2="362.54" stroke="#333" stroke-width="0.75" stroke-linecap="butt"/>
<rect x="410.1" y="358" width="15.8" height="13.35" fill="none" stroke="#333" stroke-width="0.75"/>
<line x1="410.1" y1="363.34" x2="425.9" y2="363.34" stroke="#333" stroke-width="0.75" stroke-linecap="butt"/>
<rect x="440.3" y="358" width="15.8" height="10.68" fill="none" stroke="#333" stroke-width="0.75"/>
<line x1="440.3" y1="362.27" x2="456.1" y2="362.27" stroke="#333" stroke-width="0.75" stroke-linecap="butt"/>
<rect x="470.3" y="360.67" width="15.8" height="8.54" fill="none" stroke="#333" stroke-width="0.75"/>
<line x1="470.3" y1="364.94" x2="486.1" y2="364.94" stroke="#333" stroke-width="0.75" stroke-linecap="butt"/>
</svg>
</body></html>
